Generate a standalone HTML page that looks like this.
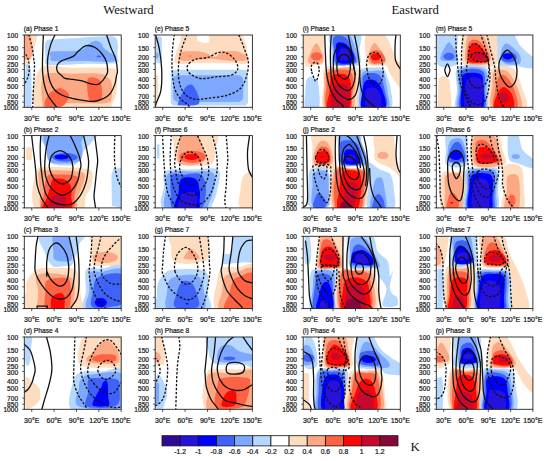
<!DOCTYPE html>
<html><head><meta charset="utf-8"><style>
html,body{margin:0;padding:0;background:#fff;width:550px;height:461px;overflow:hidden}
svg{display:block}
text{font-family:"Liberation Sans",sans-serif;fill:#1a1a1a;stroke:#1a1a1a;stroke-width:0.22}
.t{font-family:"Liberation Serif",serif;fill:#111;stroke:none}
</style></head><body>
<svg width="550" height="461" viewBox="0 0 550 461">
<rect width="550" height="461" fill="#fff"/>

<text class="t" x="128.5" y="13.6" font-size="12.7" text-anchor="middle">Westward</text>
<text class="t" x="415.2" y="13.6" font-size="12.7" text-anchor="middle">Eastward</text>
<clipPath id="cp0"><rect x="24.3" y="35" width="96.9" height="72.3"/></clipPath>
<g clip-path="url(#cp0)">
<path d="M39.8,68.98C45.46,61.81 60.8,68.02 72.75,67.9C84.7,67.78 104.16,67.11 111.51,68.26C118.86,69.4 116.03,70.67 116.84,74.77C117.65,78.86 117.24,87.78 116.36,92.84C115.47,97.9 113.12,102.12 111.51,105.13C109.9,108.14 118.78,109.95 106.67,110.92C94.55,111.88 49.98,117.9 38.84,110.92C27.69,103.93 34.15,76.15 39.8,68.98Z" fill="#fedcc0"/>
<path d="M19.45,31.38C22.28,25.36 33.99,28.37 36.41,31.38C38.84,34.4 35.2,44.4 33.99,49.46C32.78,54.52 30.28,59.1 29.15,61.75C28.01,64.4 28.82,64.4 27.21,65.37C25.59,66.33 20.75,73.2 19.45,67.53C18.16,61.87 16.63,37.41 19.45,31.38Z" fill="#fedcc0"/>
<path d="M43.68,76.21C48.53,70.01 63.38,74.1 72.75,73.68C82.12,73.26 94.23,73.14 99.88,73.68C105.53,74.22 104.73,75.43 106.67,76.93C108.6,78.44 110.7,79.22 111.51,82.72C112.32,86.21 112.32,94.53 111.51,97.9C110.7,101.27 111.51,102.06 106.67,102.96C101.82,103.87 92.13,103.2 82.44,103.32C72.75,103.44 54.99,102.42 48.53,103.68C42.07,104.95 44.49,115.49 43.68,110.92C42.87,106.34 38.84,82.42 43.68,76.21Z" fill="#fca884"/>
<path d="M24.78,31.38C26.56,27.17 28.9,28.37 30.11,31.38C31.33,34.4 31.81,45.24 32.05,49.46C32.29,53.68 32.05,55 31.57,56.69C31.08,58.38 31.16,59.58 29.15,59.58C27.13,59.58 20.18,61.39 19.45,56.69C18.73,51.99 23.01,35.6 24.78,31.38Z" fill="#fca884"/>
<path d="M44.65,102.96C44.96,100.43 46.94,95.97 49.2,93.56C51.46,91.15 56,89.29 58.22,88.5C60.43,87.72 60.7,87.9 62.48,88.86C64.26,89.83 68.13,92.2 68.87,94.29C69.62,96.37 68.15,99.32 66.94,101.37C65.72,103.42 64.87,105.35 61.61,106.58C58.34,107.81 50.19,109.35 47.36,108.75C44.54,108.14 44.34,105.49 44.65,102.96Z" fill="#fd6242"/>
<path d="M87.96,78.6C89.74,75.77 96.6,77.69 98.91,79.46C101.22,81.24 101.5,85.79 101.82,89.22C102.14,92.66 102.47,97.9 100.85,100.07C99.24,102.24 94.23,102.84 92.13,102.24C90.03,101.64 88.95,100.4 88.25,96.45C87.56,92.51 86.19,81.43 87.96,78.6Z" fill="#fd6242"/>
<path d="M45.62,42.23C46.91,39.34 48.04,40.06 53.37,39.34C58.7,38.62 69.52,38.37 77.6,37.89C85.67,37.41 95.36,36.33 101.82,36.45C108.28,36.57 113.77,35.24 116.36,38.62C118.94,41.99 117.49,52.59 117.32,56.69C117.16,60.79 121.2,61.99 115.39,63.2C109.57,64.4 93.58,63.68 82.44,63.92C71.3,64.16 54.66,65.85 48.53,64.64C42.39,63.44 46.1,60.43 45.62,56.69C45.13,52.95 44.33,45.12 45.62,42.23Z" fill="#b6d8ff"/>
<path d="M25.66,67.53C26.54,60.91 30.1,63.92 30.99,71.15C31.87,78.38 31.87,104.29 30.99,110.92C30.1,117.54 26.54,118.15 25.66,110.92C24.77,103.69 24.77,74.16 25.66,67.53Z" fill="#b6d8ff"/>
<path d="M50.08,51.99C51.37,51.09 54.44,51.42 58.22,51.27C61.99,51.11 68.71,51.35 72.75,51.05C76.79,50.75 79.53,50.81 82.44,49.46C85.35,48.11 87.93,44.4 90.19,42.95C92.45,41.51 94.07,40.66 96.01,40.78C97.94,40.9 100.53,42.47 101.82,43.68C103.11,44.88 102.3,46.45 103.76,48.01C105.21,49.58 108.44,51.63 110.54,53.08C112.64,54.52 116.19,55.24 116.36,56.69C116.52,58.14 117.16,61.03 111.51,61.75C105.86,62.47 92.13,61.15 82.44,61.03C72.75,60.91 58.7,61.75 53.37,61.03C48.04,60.3 51.01,58.2 50.46,56.69C49.91,55.18 48.78,52.89 50.08,51.99Z" fill="#7ea8ff"/>
<ellipse cx="98.91" cy="56.4" rx="2.42" ry="0.87" fill="#3e62fa"/>
<path d="M28.76,34.28C29.35,36.63 31.54,44.4 32.34,48.38C33.15,52.35 33.25,55.42 33.6,58.14C33.96,60.85 34.41,61.27 34.47,64.64C34.54,68.02 34.23,73.08 33.99,78.38C33.75,83.68 33.23,91.51 33.02,96.45C32.81,101.4 32.78,106.09 32.73,108.02" fill="none" stroke="#111" stroke-width="1.3" stroke-dasharray="2.4,1.6"/>
<path d="M23.33,50.91C23.93,51.82 26.01,54.59 26.92,56.4C27.82,58.21 28.39,59.29 28.76,61.75C29.13,64.21 29.37,68.38 29.15,71.15C28.92,73.92 28.21,76.21 27.4,78.38C26.59,80.55 24.82,83.2 24.3,84.16" fill="none" stroke="#111" stroke-width="1.3" stroke-dasharray="2.4,1.6"/>
<path d="M43.39,34.28C43.28,37.41 42.86,46.93 42.71,53.08C42.57,59.22 42.26,65.93 42.52,71.15C42.78,76.37 43.37,80.4 44.26,84.38C45.15,88.36 46.44,92.03 47.85,95.01C49.25,97.99 51.21,100.19 52.69,102.24C54.18,104.29 56.08,106.46 56.76,107.3" fill="none" stroke="#111" stroke-width="1.3"/>
<path d="M55.31,34.28C54.58,35.88 52.19,40.04 50.95,43.89C49.7,47.75 48.36,52.87 47.85,57.41C47.33,61.96 47.48,67.1 47.85,71.15C48.22,75.2 48.96,78.61 50.08,81.71C51.19,84.8 52.61,87.51 54.53,89.73C56.45,91.95 58.51,93.53 61.61,95.01C64.71,96.49 69.75,97.78 73.14,98.62C76.53,99.47 78.56,99.61 81.96,100.07C85.35,100.53 89.93,101.61 93.49,101.37C97.04,101.13 100.46,99.96 103.27,98.62C106.08,97.29 108.43,95.72 110.35,93.35C112.27,90.97 113.77,87.36 114.8,84.38C115.84,81.4 116.11,77.72 116.55,75.49C116.98,73.26 117.57,73.74 117.42,71.01C117.28,68.27 116.71,62.85 115.68,59.08C114.64,55.3 112.77,52.51 111.22,48.38C109.67,44.24 107.18,36.63 106.37,34.28" fill="none" stroke="#111" stroke-width="1.3"/>
<path d="M57.25,64.64C57.97,62.93 58.96,62.26 61.61,60.88C64.26,59.51 70.34,58.04 73.14,56.4C75.93,54.76 76.17,52.83 78.37,51.05C80.57,49.27 83.54,46.29 86.32,45.7C89.09,45.11 92.36,46.04 95.04,47.51C97.72,48.98 100.46,52.03 102.4,54.52C104.34,57.02 105.79,59.73 106.67,62.47C107.54,65.22 107.63,68.99 107.63,71.01C107.63,73.02 107.39,73.08 106.67,74.55C105.94,76.02 104.73,78.19 103.27,79.83C101.82,81.46 100.03,83.69 97.94,84.38C95.86,85.07 93.44,84.54 90.77,83.95C88.11,83.36 84.89,81.59 81.96,80.84C79.02,80.09 75.96,79.87 73.14,79.46C70.31,79.05 66.92,79.04 65,78.38C63.08,77.72 62.9,76.69 61.61,75.49C60.31,74.28 57.97,72.96 57.25,71.15C56.52,69.34 56.52,66.35 57.25,64.64Z" fill="none" stroke="#111" stroke-width="1.3"/>
</g>
<rect x="24.3" y="35" width="96.9" height="72.3" fill="none" stroke="#222" stroke-width="0.9"/>
<text x="18.1" y="38" font-size="6.6" text-anchor="end">100</text>
<text x="18.1" y="50.73" font-size="6.6" text-anchor="end">150</text>
<text x="18.1" y="59.76" font-size="6.6" text-anchor="end">200</text>
<text x="18.1" y="66.77" font-size="6.6" text-anchor="end">250</text>
<text x="18.1" y="72.5" font-size="6.6" text-anchor="end">300</text>
<text x="18.1" y="81.53" font-size="6.6" text-anchor="end">400</text>
<text x="18.1" y="88.54" font-size="6.6" text-anchor="end">500</text>
<text x="18.1" y="99.1" font-size="6.6" text-anchor="end">700</text>
<text x="18.1" y="105.2" font-size="6.6" text-anchor="end">850</text>
<text x="18.1" y="110.3" font-size="6.6" text-anchor="end">1000</text>
<text x="31.75" y="120.5" font-size="7" text-anchor="middle">30°E</text>
<text x="54.12" y="120.5" font-size="7" text-anchor="middle">60°E</text>
<text x="76.48" y="120.5" font-size="7" text-anchor="middle">90°E</text>
<text x="98.84" y="120.5" font-size="7" text-anchor="middle">120°E</text>
<text x="121.2" y="120.5" font-size="7" text-anchor="middle">150°E</text>
<path d="M24.3,35h-2M24.3,47.73h-2M24.3,56.76h-2M24.3,63.77h-2M24.3,69.5h-2M24.3,78.53h-2M24.3,85.54h-2M24.3,96.1h-2M24.3,102.2h-2M24.3,107.3h-2M31.75,107.3v2.6M54.12,107.3v2.6M76.48,107.3v2.6M98.84,107.3v2.6M121.2,107.3v2.6" stroke="#222" stroke-width="0.8" fill="none"/>
<text x="23.8" y="31" font-size="6.7">(a) Phase 1</text>
<clipPath id="cp1"><rect x="24.3" y="135.6" width="96.9" height="72.3"/></clipPath>
<g clip-path="url(#cp1)">
<path d="M43.68,134.15C51.76,132.11 85.19,132.71 93.1,134.15C101.01,135.6 92.61,140.18 91.16,142.83C89.71,145.48 86.15,147.65 84.38,150.06C82.6,152.47 81.63,155.24 80.5,157.29C79.37,159.34 78.89,161.03 77.6,162.35C76.3,163.68 75.98,164.76 72.75,165.24C69.52,165.72 61.77,165.6 58.22,165.24C54.66,164.88 53.21,164.4 51.43,163.07C49.66,161.75 48.69,160.06 47.56,157.29C46.43,154.52 45.3,150.3 44.65,146.44C44,142.59 35.61,136.2 43.68,134.15Z" fill="#b6d8ff"/>
<path d="M45.62,134.15C51.27,131.5 74.53,132.71 80.5,134.15C86.48,135.6 81.15,139.58 81.47,142.83C81.79,146.08 82.92,150.54 82.44,153.67C81.96,156.81 81.79,160 78.56,161.63C75.33,163.25 67.91,163.44 63.06,163.44C58.22,163.44 52.24,163.86 49.49,161.63C46.75,159.4 47.23,154.64 46.59,150.06C45.94,145.48 39.97,136.81 45.62,134.15Z" fill="#7ea8ff"/>
<ellipse cx="65" cy="157.29" rx="12.6" ry="4.34" fill="#3e62fa"/>
<ellipse cx="61.51" cy="156.93" rx="7.07" ry="2.53" fill="#0000ff"/>
<rect x="26.04" y="147.17" width="6.01" height="13.01" rx="2" fill="#fedcc0"/>
<path d="M35.93,171.75C38.03,164.76 43.2,168.13 48.53,167.41C53.85,166.69 62.25,167.29 67.91,167.41C73.56,167.53 78.4,167.41 82.44,168.13C86.48,168.86 90.68,168.74 92.13,171.75C93.58,174.76 92.29,181.99 91.16,186.21C90.03,190.43 87.12,193.2 85.35,197.06C83.57,200.91 88.74,207.3 80.5,209.35C72.27,211.39 43.36,215.61 35.93,209.35C28.5,203.08 33.83,178.74 35.93,171.75Z" fill="#fedcc0"/>
<path d="M38.84,171.75C40.29,168.5 42.87,170.42 48.53,170.3C54.18,170.18 66.77,170.42 72.75,171.03C78.73,171.63 82.76,171.39 84.38,173.92C85.99,176.45 83.57,182.35 82.44,186.21C81.31,190.07 79.05,193.2 77.6,197.06C76.14,200.91 79.37,207.3 73.72,209.35C68.07,211.39 49.33,212.6 43.68,209.35C38.03,206.09 40.61,196.09 39.8,189.82C39,183.56 37.38,175 38.84,171.75Z" fill="#fca884"/>
<path d="M47.56,176.09C49.98,172.71 54.02,174.76 58.22,174.64C62.41,174.52 69.36,174.64 72.75,175.37C76.14,176.09 78.24,175.97 78.56,178.98C78.89,181.99 75.82,188.38 74.69,193.44C73.56,198.5 77.19,206.69 71.78,209.35C66.37,212 46.91,211.76 42.23,209.35C37.54,206.94 42.79,200.43 43.68,194.89C44.57,189.34 45.13,179.46 47.56,176.09Z" fill="#fd6242"/>
<path d="M53.37,178.98C55.79,177.9 62.09,178.5 65,179.7C67.91,180.91 69.76,183.32 70.81,186.21C71.86,189.1 71.46,193.2 71.3,197.06C71.14,200.91 74.45,207.3 69.84,209.35C65.24,211.39 47.56,211.15 43.68,209.35C39.8,207.54 45.46,202.36 46.59,198.5C47.72,194.64 49.33,189.46 50.46,186.21C51.59,182.96 50.95,180.06 53.37,178.98Z" fill="#ff0606"/>
<path d="M53.37,195.61C55.71,194.77 62.41,194.16 64.51,195.61C66.61,197.05 66.53,202 65.97,204.28C65.4,206.57 64.03,208.5 61.12,209.35C58.22,210.19 50.3,210.79 48.53,209.35C46.75,207.9 49.66,202.96 50.46,200.67C51.27,198.38 51.03,196.45 53.37,195.61Z" fill="#c8082c"/>
<path d="M113.45,168.13 L121.2,168.13 L121.2,207.9 L111.99,205.73 L111.51,186.21 L111.51,175.37 Z" fill="#b6d8ff"/>
<path d="M31.57,134.88C31.83,137.11 32.6,143.99 33.12,148.25C33.63,152.52 34.25,156.84 34.67,160.47C35.09,164.1 35.22,165.88 35.64,170.01C36.06,174.15 36.17,180.52 37.19,185.27C38.21,190.02 39.85,194.61 41.74,198.5C43.63,202.39 47.39,206.94 48.53,208.62" fill="none" stroke="#111" stroke-width="1.3"/>
<path d="M94.65,134.88C94.91,136.93 95.7,142.9 96.2,147.17C96.7,151.43 97.57,156.66 97.65,160.47C97.73,164.28 97.1,165.88 96.68,170.01C96.26,174.15 95.57,180.86 95.13,185.27C94.7,189.68 93.97,192.58 94.07,196.48C94.16,200.37 95.44,206.6 95.72,208.62" fill="none" stroke="#111" stroke-width="1.3"/>
<path d="M40.77,134.88C40.68,137.41 40.11,144.2 40.19,150.06C40.27,155.92 40.4,162.95 41.26,170.01C42.11,177.08 43.47,187.16 45.33,192.43C47.18,197.69 49.54,199.57 52.4,201.61C55.26,203.65 59.09,204.32 62.48,204.65C65.87,204.97 69.67,205.26 72.75,203.56C75.83,201.86 78.77,198.01 80.99,194.45C83.2,190.9 84.85,186.31 86.03,182.23C87.2,178.16 87.64,173.64 88.06,170.01C88.48,166.39 88.8,164.1 88.54,160.47C88.29,156.84 87.37,152.52 86.51,148.25C85.65,143.99 83.93,137.11 83.41,134.88" fill="none" stroke="#111" stroke-width="1.3"/>
<path d="M49.3,134.88C48.88,136.6 47.44,141.79 46.78,145.22C46.12,148.64 45.67,151.28 45.33,155.41C44.99,159.54 44.5,165.88 44.75,170.01C44.99,174.15 45.67,177.15 46.78,180.21C47.9,183.27 49.32,186.01 51.43,188.38C53.55,190.75 57.08,193.44 59.47,194.45C61.86,195.46 63.72,195.13 65.77,194.45C67.82,193.78 69.76,192.78 71.78,190.4C73.8,188.03 76.53,183.61 77.89,180.21C79.24,176.81 79.4,172.45 79.92,170.01C80.44,167.58 81.05,167.73 80.99,165.6C80.92,163.48 80.55,160.69 79.53,157.29C78.52,153.89 76.5,148.95 74.88,145.22C73.27,141.48 70.68,136.6 69.84,134.88" fill="none" stroke="#111" stroke-width="1.3"/>
<path d="M49.88,170.01C49.2,167.74 48.96,166.95 49.3,164.52C49.64,162.09 50.38,157.7 51.92,155.41C53.45,153.12 56.41,151.3 58.51,150.78C60.61,150.26 62.49,151.02 64.51,152.3C66.53,153.58 69.25,156.23 70.62,158.45C71.99,160.66 72.39,163.68 72.75,165.6C73.11,167.53 73.11,167.75 72.75,170.01C72.39,172.28 71.99,176.91 70.62,179.2C69.25,181.49 66.53,183.16 64.51,183.75C62.49,184.34 60.36,183.67 58.51,182.74C56.65,181.81 54.81,180.31 53.37,178.18C51.93,176.06 50.56,172.29 49.88,170.01Z" fill="none" stroke="#111" stroke-width="1.3"/>
<path d="M114.9,134.88C114.82,137.41 114.42,144.94 114.42,150.06C114.42,155.18 114.42,160.91 114.9,165.6C115.39,170.3 116.39,174.94 117.32,178.26C118.26,181.57 119.71,183.92 120.52,185.49C121.33,187.05 121.89,187.29 122.17,187.66" fill="none" stroke="#111" stroke-width="1.3" stroke-dasharray="2.4,1.6"/>
</g>
<rect x="24.3" y="135.6" width="96.9" height="72.3" fill="none" stroke="#222" stroke-width="0.9"/>
<text x="18.1" y="138.6" font-size="6.6" text-anchor="end">100</text>
<text x="18.1" y="151.33" font-size="6.6" text-anchor="end">150</text>
<text x="18.1" y="160.36" font-size="6.6" text-anchor="end">200</text>
<text x="18.1" y="167.37" font-size="6.6" text-anchor="end">250</text>
<text x="18.1" y="173.1" font-size="6.6" text-anchor="end">300</text>
<text x="18.1" y="182.13" font-size="6.6" text-anchor="end">400</text>
<text x="18.1" y="189.14" font-size="6.6" text-anchor="end">500</text>
<text x="18.1" y="199.7" font-size="6.6" text-anchor="end">700</text>
<text x="18.1" y="205.8" font-size="6.6" text-anchor="end">850</text>
<text x="18.1" y="210.9" font-size="6.6" text-anchor="end">1000</text>
<text x="31.75" y="221.1" font-size="7" text-anchor="middle">30°E</text>
<text x="54.12" y="221.1" font-size="7" text-anchor="middle">60°E</text>
<text x="76.48" y="221.1" font-size="7" text-anchor="middle">90°E</text>
<text x="98.84" y="221.1" font-size="7" text-anchor="middle">120°E</text>
<text x="121.2" y="221.1" font-size="7" text-anchor="middle">150°E</text>
<path d="M24.3,135.6h-2M24.3,148.33h-2M24.3,157.36h-2M24.3,164.37h-2M24.3,170.1h-2M24.3,179.13h-2M24.3,186.14h-2M24.3,196.7h-2M24.3,202.8h-2M24.3,207.9h-2M31.75,207.9v2.6M54.12,207.9v2.6M76.48,207.9v2.6M98.84,207.9v2.6M121.2,207.9v2.6" stroke="#222" stroke-width="0.8" fill="none"/>
<text x="23.8" y="131.6" font-size="6.7">(b) Phase 2</text>
<clipPath id="cp2"><rect x="24.3" y="236.3" width="96.9" height="72.3"/></clipPath>
<g clip-path="url(#cp2)">
<path d="M41.26,234.85C47.62,232.12 76.06,233.41 82.44,234.85C88.82,236.3 80.26,240.88 79.53,243.53C78.81,246.18 78.89,248.35 78.08,250.76C77.27,253.17 75.74,255.58 74.69,257.99C73.64,260.4 73.48,263.89 71.78,265.22C70.09,266.55 67.74,265.82 64.51,265.94C61.28,266.06 55.78,268.39 52.4,265.94C49.03,263.5 46.12,256.45 44.26,251.27C42.4,246.08 34.89,237.59 41.26,234.85Z" fill="#b6d8ff"/>
<path d="M53.37,234.85C55.57,232.12 63.67,232.96 66.55,234.85C69.42,236.75 69.75,242.11 70.62,246.21C71.49,250.3 72.8,256.87 71.78,259.44C70.76,262 67.42,261.61 64.51,261.61C61.61,261.61 56.2,261.16 54.34,259.44C52.48,257.71 53.53,255.36 53.37,251.27C53.21,247.17 51.17,237.59 53.37,234.85Z" fill="#7ea8ff"/>
<path d="M91.16,244.25C91.32,240.64 86.8,236.42 92.13,234.85C97.46,233.29 117.97,229.91 123.14,234.85C128.31,239.79 125.95,259.39 123.14,264.5C120.33,269.61 111.12,265.34 106.28,265.51C101.43,265.68 96.59,267 94.07,265.51C91.55,264.01 91.65,260.09 91.16,256.54C90.68,253 91,247.87 91.16,244.25Z" fill="#fedcc0"/>
<ellipse cx="105.31" cy="257.41" rx="12.6" ry="5.57" fill="#fca884"/>
<path d="M27.01,281.13C28.79,277.63 32.5,271.73 36.9,269.56C41.29,267.39 47.39,268.23 53.37,268.11C59.35,267.99 68.55,267.51 72.75,268.84C76.95,270.16 77.27,271.85 78.56,276.06C79.86,280.28 80.5,288.48 80.5,294.14C80.5,299.8 87.61,307.39 78.56,310.05C69.52,312.7 34.96,313.3 26.24,310.05C17.52,306.79 26.11,295.34 26.24,290.52C26.37,285.7 25.24,284.62 27.01,281.13Z" fill="#fedcc0"/>
<path d="M37.19,275.05C40.74,272.16 53.55,273.25 59.47,273.9C65.4,274.55 70.21,276.06 72.75,278.96C75.29,281.85 74.69,286.97 74.69,291.25C74.69,295.53 74.69,301.49 72.75,304.62C70.81,307.76 68.65,309.14 63.06,310.05C57.47,310.95 43.37,313.18 39.22,310.05C35.07,306.91 38.5,297.08 38.16,291.25C37.82,285.42 33.63,277.94 37.19,275.05Z" fill="#fca884"/>
<path d="M47.36,280.19C50.9,278.02 62.67,277.23 66.55,278.23C70.42,279.23 69.94,282.33 70.62,286.19C71.3,290.04 71.3,297.39 70.62,301.37C69.94,305.35 70.6,308.6 66.55,310.05C62.49,311.49 49.83,313.18 46.3,310.05C42.76,306.91 45.15,296.22 45.33,291.25C45.5,286.27 43.83,282.36 47.36,280.19Z" fill="#fd6242"/>
<path d="M53.37,295.59C54.99,294.18 58.68,292.77 60.54,292.91C62.4,293.06 63.85,294.44 64.51,296.45C65.18,298.47 64.76,302.72 64.51,304.99C64.27,307.25 65.08,309.2 63.06,310.05C61.04,310.89 54.44,311.49 52.4,310.05C50.37,308.6 50.69,303.78 50.85,301.37C51.01,298.96 51.76,297 53.37,295.59Z" fill="#ff0606"/>
<path d="M86.32,269.56C88.95,265.79 95.68,268.86 101.82,268.62C107.96,268.38 119.59,261.21 123.14,268.11C126.69,275.02 129.48,303.06 123.14,310.05C116.79,317.03 91.24,313.18 85.06,310.05C78.87,306.91 85.82,298 86.03,291.25C86.24,284.5 83.68,273.33 86.32,269.56Z" fill="#b6d8ff"/>
<path d="M90.1,273.17C92.21,269.92 96.31,272.09 101.82,271.73C107.33,271.37 119.59,264.62 123.14,271C126.69,277.39 128.98,303.54 123.14,310.05C117.29,316.55 93.73,313.18 88.06,310.05C82.39,306.91 88.79,297.39 89.13,291.25C89.47,285.1 87.98,276.43 90.1,273.17Z" fill="#7ea8ff"/>
<path d="M98.23,277.15C103.24,274.45 118.99,271.02 123.14,275.05C127.29,279.09 125.08,296.1 123.14,301.37C121.2,306.64 116.68,305.77 111.51,306.65C106.34,307.53 95.2,309.21 92.13,306.65C89.06,304.08 92.08,296.16 93.1,291.25C94.12,286.33 93.23,279.85 98.23,277.15Z" fill="#3e62fa"/>
<ellipse cx="100.75" cy="302.6" rx="6.1" ry="4.55" fill="#0000ff"/>
<path d="M38.16,235.58C37.82,237.35 36.62,241.89 36.12,246.21C35.62,250.52 35.31,257.33 35.15,261.46C34.99,265.59 34.65,268.05 35.15,271C35.65,273.96 36.64,276.28 38.16,279.17C39.67,282.07 41.89,285.48 44.26,288.36C46.64,291.24 49.87,294.68 52.4,296.45C54.94,298.22 57.12,298.82 59.47,298.98C61.83,299.15 64.51,298.9 66.55,297.47C68.58,296.03 70.49,293.1 71.68,290.38C72.88,287.66 73.22,284.36 73.72,281.13C74.22,277.9 74.57,274.28 74.69,271C74.8,267.73 74.88,265.26 74.4,261.46C73.91,257.66 72.72,252.54 71.78,248.23C70.84,243.92 69.28,237.69 68.78,235.58" fill="none" stroke="#111" stroke-width="1.3"/>
<path d="M46.78,276.06C46.78,274.47 46.36,265.92 46.78,261.46C47.2,257 47.86,252.36 49.3,249.31C50.74,246.27 53.53,243.86 55.4,243.17C57.28,242.48 58.68,243.33 60.54,245.19C62.4,247.06 65.21,251.16 66.55,254.38C67.89,257.59 68.24,261.73 68.58,264.5C68.92,267.27 68.74,268.71 68.58,271C68.42,273.29 68.29,276.03 67.61,278.23C66.94,280.44 65.87,282.91 64.51,284.23C63.16,285.56 61.17,286.34 59.47,286.19C57.78,286.03 56.03,284.8 54.34,283.3C52.64,281.79 50.56,279.2 49.3,277.15C48.04,275.1 47.2,271.18 46.78,271C46.36,270.82 46.78,277.66 46.78,276.06Z" fill="none" stroke="#111" stroke-width="1.3"/>
<path d="M75.95,235.58C76.29,238.19 77.48,246.08 77.98,251.27C78.48,256.45 78.79,260.85 78.95,266.67C79.11,272.49 79.29,280.88 78.95,286.19C78.61,291.49 78.11,295.07 76.92,298.48C75.72,301.89 72.96,304.84 71.78,306.65C70.6,308.46 70.17,308.88 69.84,309.32" fill="none" stroke="#111" stroke-width="1.3"/>
<path d="M37.19,309.32 L37.19,306.14 L47.36,306.14 L47.36,309.32 Z" fill="none" stroke="#111" stroke-width="1.3"/>
<path d="M92.13,235.58C91.97,238.19 91.58,246.08 91.16,251.27C90.74,256.45 89.95,263.38 89.61,266.67C89.27,269.96 89.05,268.59 89.13,271C89.21,273.41 89.43,277.75 90.1,281.13C90.76,284.5 91.74,288.02 93.1,291.25C94.46,294.48 96.38,297.94 98.23,300.5C100.09,303.07 102.9,305.18 104.24,306.65C105.58,308.12 105.94,308.88 106.28,309.32" fill="none" stroke="#111" stroke-width="1.3" stroke-dasharray="2.4,1.6"/>
<path d="M101.24,235.58C100.74,237.69 99.25,244.08 98.23,248.23C97.22,252.37 95.81,256.65 95.13,260.45C94.46,264.24 93.83,267.56 94.16,271C94.5,274.45 95.81,277.9 97.17,281.13C98.53,284.36 100.45,287.83 102.3,290.38C104.16,292.94 105.95,294.77 108.31,296.45C110.67,298.14 113.98,299.68 116.45,300.5C118.92,301.32 122.02,301.23 123.14,301.37" fill="none" stroke="#111" stroke-width="1.3" stroke-dasharray="2.4,1.6"/>
<path d="M123.14,238.47C122.36,238.73 120.28,238.77 118.49,240.06C116.69,241.35 114.42,244 112.38,246.21C110.35,248.41 107.96,250.75 106.28,253.29C104.6,255.83 103.14,258.91 102.3,261.46C101.46,264.01 101.24,266.18 101.24,268.62C101.24,271.05 101.8,274.46 102.3,276.06C102.81,277.67 102.9,277.03 104.24,278.23C105.58,279.44 107.97,282.29 110.35,283.3C112.72,284.3 116.36,284.08 118.49,284.23C120.62,284.39 122.36,284.23 123.14,284.23" fill="none" stroke="#111" stroke-width="1.3" stroke-dasharray="2.4,1.6"/>
</g>
<rect x="24.3" y="236.3" width="96.9" height="72.3" fill="none" stroke="#222" stroke-width="0.9"/>
<text x="18.1" y="239.3" font-size="6.6" text-anchor="end">100</text>
<text x="18.1" y="252.03" font-size="6.6" text-anchor="end">150</text>
<text x="18.1" y="261.06" font-size="6.6" text-anchor="end">200</text>
<text x="18.1" y="268.07" font-size="6.6" text-anchor="end">250</text>
<text x="18.1" y="273.8" font-size="6.6" text-anchor="end">300</text>
<text x="18.1" y="282.83" font-size="6.6" text-anchor="end">400</text>
<text x="18.1" y="289.84" font-size="6.6" text-anchor="end">500</text>
<text x="18.1" y="300.4" font-size="6.6" text-anchor="end">700</text>
<text x="18.1" y="306.5" font-size="6.6" text-anchor="end">850</text>
<text x="18.1" y="311.6" font-size="6.6" text-anchor="end">1000</text>
<text x="31.75" y="321.8" font-size="7" text-anchor="middle">30°E</text>
<text x="54.12" y="321.8" font-size="7" text-anchor="middle">60°E</text>
<text x="76.48" y="321.8" font-size="7" text-anchor="middle">90°E</text>
<text x="98.84" y="321.8" font-size="7" text-anchor="middle">120°E</text>
<text x="121.2" y="321.8" font-size="7" text-anchor="middle">150°E</text>
<path d="M24.3,236.3h-2M24.3,249.03h-2M24.3,258.06h-2M24.3,265.07h-2M24.3,270.8h-2M24.3,279.83h-2M24.3,286.84h-2M24.3,297.4h-2M24.3,303.5h-2M24.3,308.6h-2M31.75,308.6v2.6M54.12,308.6v2.6M76.48,308.6v2.6M98.84,308.6v2.6M121.2,308.6v2.6" stroke="#222" stroke-width="0.8" fill="none"/>
<text x="23.8" y="232.3" font-size="6.7">(c) Phase 3</text>
<clipPath id="cp3"><rect x="24.3" y="337" width="96.9" height="72.3"/></clipPath>
<g clip-path="url(#cp3)">
<path d="M25.56,338.01C26.64,333.77 31.13,336.49 32.05,338.01C32.97,339.53 31.41,343.05 31.08,347.12C30.76,351.19 31.03,359.73 30.11,362.45C29.19,365.17 26.32,367.53 25.56,363.46C24.8,359.39 24.48,342.25 25.56,338.01Z" fill="#b6d8ff"/>
<path d="M25.56,378.07C26.74,373.79 30.84,380.49 33.12,382.19C35.4,383.89 38.04,386.06 39.22,388.26C40.4,390.47 40.37,393.04 40.19,395.42C40.01,397.79 40.51,400.43 38.16,402.5C35.8,404.58 28.14,411.93 26.04,407.85C23.94,403.78 24.38,382.34 25.56,378.07Z" fill="#fedcc0"/>
<path d="M77.89,359.41C77.89,354.23 78.48,339.53 86.03,335.55C93.57,331.58 116.95,330.37 123.14,335.55C129.32,340.74 125.95,361.3 123.14,366.64C120.33,371.98 112.46,367.58 106.28,367.58C100.09,367.58 90.76,368 86.03,366.64C81.29,365.28 77.89,364.59 77.89,359.41Z" fill="#fedcc0"/>
<path d="M87.09,357.39C88.09,355.86 90.74,354.63 93.1,352.26C95.46,349.88 98.7,345.01 101.24,343.15C103.77,341.28 105.78,340.04 108.31,341.05C110.85,342.06 114.59,346.5 116.45,349.22C118.31,351.94 119.46,355.01 119.46,357.39C119.46,359.76 120.33,362.45 116.45,363.46C112.58,364.47 101.09,363.8 96.2,363.46C91.31,363.12 88.61,362.45 87.09,361.44C85.57,360.43 86.09,358.92 87.09,357.39Z" fill="#fca884"/>
<path d="M92.13,358.4C92.63,357.29 95.65,355.39 99.2,354.79C102.76,354.18 110.57,354.18 113.45,354.79C116.32,355.39 116.61,357.29 116.45,358.4C116.29,359.51 115.85,360.93 112.48,361.44C109.1,361.94 99.59,361.94 96.2,361.44C92.81,360.93 91.63,359.51 92.13,358.4Z" fill="#fd6242"/>
<path d="M72.75,382.19C73.07,376.52 73.07,378.51 74.69,376.76C76.3,375.02 77.92,372.61 82.44,371.7C86.96,370.8 95.04,371.46 101.82,371.34C108.6,371.22 119.59,364.41 123.14,370.98C126.69,377.55 131.54,404.12 123.14,410.75C114.74,417.37 81.15,415.51 72.75,410.75C64.35,405.99 72.43,387.85 72.75,382.19Z" fill="#b6d8ff"/>
<path d="M80.99,379.15C83.02,377.04 84.14,375.36 91.16,374.6C98.19,373.84 117.81,369.26 123.14,374.6C128.47,379.93 130.5,401.29 123.14,406.62C115.77,411.96 86.32,409.85 78.95,406.62C71.59,403.4 78.61,391.83 78.95,387.25C79.29,382.67 78.95,381.26 80.99,379.15Z" fill="#7ea8ff"/>
<path d="M88.06,380.16C89.42,377.78 91.47,378.24 96.2,378.07C100.93,377.9 112.58,377.62 116.45,379.15C120.33,380.68 119.46,382.84 119.46,387.25C119.46,391.66 121.85,402.38 116.45,405.61C111.06,408.84 91.82,408.83 87.09,406.62C82.36,404.42 87.9,396.79 88.06,392.38C88.22,387.97 86.7,382.55 88.06,380.16Z" fill="#3e62fa"/>
<path d="M103.27,382.19C104.29,381.34 106.5,379.64 107.34,382.19C108.18,384.73 108.15,393.54 108.31,397.44C108.47,401.35 110.85,404.25 108.31,405.61C105.78,406.97 95.12,407.31 93.1,405.61C91.08,403.91 94.84,398.48 96.2,395.42C97.56,392.36 100.06,389.45 101.24,387.25C102.42,385.04 102.26,383.03 103.27,382.19Z" fill="#0000ff"/>
<path d="M23.33,343.51C24.46,344.63 28.34,347.07 30.11,350.23C31.89,353.39 33.15,359.05 33.99,362.45C34.83,365.85 35.22,368.2 35.15,370.62C35.09,373.04 34.1,375.05 33.6,376.98C33.1,378.91 33.07,380.14 32.15,382.19C31.23,384.24 29.55,387.53 28.08,389.27C26.61,391.02 24.12,392.1 23.33,392.67" fill="none" stroke="#111" stroke-width="1.3"/>
<path d="M46.3,336.28C46.97,338.94 49.43,347.04 50.37,352.26C51.3,357.47 51.84,363.46 51.92,367.58C52,371.7 51.45,373.7 50.85,376.98C50.25,380.26 49.43,383.33 48.33,387.25C47.23,391.16 45.36,396.68 44.26,400.48C43.16,404.28 42.16,408.43 41.74,410.02" fill="none" stroke="#111" stroke-width="1.3"/>
<path d="M74.88,336.28C74.8,338.94 74.59,346.3 74.4,352.26C74.2,358.21 73.8,367 73.72,371.99C73.64,376.98 73.22,378.45 73.91,382.19C74.61,385.92 76.37,391.02 77.89,394.41C79.4,397.79 81.33,399.9 83.02,402.5C84.72,405.11 87.22,408.77 88.06,410.02" fill="none" stroke="#111" stroke-width="1.3" stroke-dasharray="2.4,1.6"/>
<path d="M86.51,336.28C86.09,338.6 84.91,345.7 83.99,350.23C83.07,354.76 81.49,359.83 80.99,363.46C80.49,367.09 80.49,368.87 80.99,371.99C81.49,375.11 82.47,378.62 83.99,382.19C85.51,385.75 87.56,390.18 90.1,393.39C92.63,396.61 95.99,399.29 99.2,401.49C102.42,403.7 106.5,405.6 109.38,406.62C112.25,407.65 114.16,407.64 116.45,407.64C118.75,407.64 122.02,406.79 123.14,406.62" fill="none" stroke="#111" stroke-width="1.3" stroke-dasharray="2.4,1.6"/>
<path d="M88.06,376.98C88.06,375.42 87.38,371.19 88.06,367.58C88.74,363.98 90.43,359.1 92.13,355.36C93.83,351.63 96.04,347.72 98.23,345.17C100.43,342.62 103.11,340.72 105.31,340.04C107.5,339.35 109.56,339.86 111.41,341.05C113.27,342.24 114.93,345.16 116.45,347.19C117.97,349.23 119.41,351.35 120.52,353.27C121.64,355.18 122.7,357.79 123.14,358.69" fill="none" stroke="#111" stroke-width="1.3" stroke-dasharray="2.4,1.6"/>
<path d="M88.06,376.98C88.58,377.51 89.47,378.28 91.16,380.16C92.86,382.04 95.72,386.06 98.23,388.26C100.75,390.47 103.58,392.71 106.28,393.39C108.97,394.08 112.22,393.74 114.42,392.38C116.61,391.02 118,387.26 119.46,385.22C120.91,383.19 122.52,381.01 123.14,380.16" fill="none" stroke="#111" stroke-width="1.3" stroke-dasharray="2.4,1.6"/>
<path d="M98.23,371.99C97.73,370.41 97.56,369.17 98.23,367.58C98.91,365.99 100.79,363.64 102.3,362.45C103.82,361.26 105.65,360.43 107.34,360.43C109.04,360.43 111.14,361.26 112.48,362.45C113.82,363.64 114.9,365.99 115.39,367.58C115.87,369.17 116.05,370.41 115.39,371.99C114.72,373.57 112.93,375.78 111.41,377.05C109.89,378.33 107.97,379.66 106.28,379.66C104.58,379.66 102.58,378.33 101.24,377.05C99.9,375.78 98.74,373.57 98.23,371.99Z" fill="none" stroke="#111" stroke-width="1.3" stroke-dasharray="2.4,1.6"/>
</g>
<rect x="24.3" y="337" width="96.9" height="72.3" fill="none" stroke="#222" stroke-width="0.9"/>
<text x="18.1" y="340" font-size="6.6" text-anchor="end">100</text>
<text x="18.1" y="352.73" font-size="6.6" text-anchor="end">150</text>
<text x="18.1" y="361.76" font-size="6.6" text-anchor="end">200</text>
<text x="18.1" y="368.77" font-size="6.6" text-anchor="end">250</text>
<text x="18.1" y="374.5" font-size="6.6" text-anchor="end">300</text>
<text x="18.1" y="383.53" font-size="6.6" text-anchor="end">400</text>
<text x="18.1" y="390.54" font-size="6.6" text-anchor="end">500</text>
<text x="18.1" y="401.1" font-size="6.6" text-anchor="end">700</text>
<text x="18.1" y="407.2" font-size="6.6" text-anchor="end">850</text>
<text x="18.1" y="412.3" font-size="6.6" text-anchor="end">1000</text>
<text x="31.75" y="422.5" font-size="7" text-anchor="middle">30°E</text>
<text x="54.12" y="422.5" font-size="7" text-anchor="middle">60°E</text>
<text x="76.48" y="422.5" font-size="7" text-anchor="middle">90°E</text>
<text x="98.84" y="422.5" font-size="7" text-anchor="middle">120°E</text>
<text x="121.2" y="422.5" font-size="7" text-anchor="middle">150°E</text>
<path d="M24.3,337h-2M24.3,349.73h-2M24.3,358.76h-2M24.3,365.77h-2M24.3,371.5h-2M24.3,380.53h-2M24.3,387.54h-2M24.3,398.1h-2M24.3,404.2h-2M24.3,409.3h-2M31.75,409.3v2.6M54.12,409.3v2.6M76.48,409.3v2.6M98.84,409.3v2.6M121.2,409.3v2.6" stroke="#222" stroke-width="0.8" fill="none"/>
<text x="23.8" y="333" font-size="6.7">(d) Phase 4</text>
<clipPath id="cp4"><rect x="155.2" y="35" width="97.2" height="72.3"/></clipPath>
<g clip-path="url(#cp4)">
<rect x="156.17" y="36.45" width="5.64" height="26.75" rx="2" fill="#b6d8ff"/>
<ellipse cx="157.14" cy="55.61" rx="1.17" ry="3.25" fill="#7ea8ff"/>
<rect x="154.23" y="74.77" width="3.89" height="28.2" rx="1" fill="#fedcc0"/>
<path d="M175.61,63.2C172.62,61.51 175.45,56.33 176.1,53.08C176.75,49.82 178.28,47.29 179.5,43.68C180.72,40.06 180.63,33.43 183.39,31.38C186.14,29.34 193.59,29.82 196.02,31.38C198.45,32.95 195.86,38.98 197.97,40.78C200.07,42.59 206.39,43.8 208.66,42.23C210.93,40.66 206.88,33.19 211.58,31.38C216.27,29.58 231.34,29.82 236.85,31.38C242.36,32.95 242.92,37.17 244.62,40.78C246.32,44.4 246.65,49.34 247.05,53.08C247.46,56.81 249.4,61.51 247.05,63.2C244.7,64.88 238.55,63.2 232.96,63.2C227.37,63.2 220,63.2 213.52,63.2C207.04,63.2 200.4,63.2 194.08,63.2C187.76,63.2 178.61,64.88 175.61,63.2Z" fill="#fedcc0"/>
<path d="M180.47,52.35C182.74,50.85 190.19,51.27 194.08,51.27C197.97,51.27 201.05,51.69 203.8,52.35C206.55,53.01 208.66,54.52 210.6,55.24C212.55,55.97 213.36,57.29 215.46,56.69C217.57,56.09 219.51,52.47 223.24,51.63C226.97,50.79 233.85,50.79 237.82,51.63C241.79,52.47 245.51,55.24 247.05,56.69C248.59,58.14 249.4,59.58 247.05,60.3C244.7,61.03 236.93,61.03 232.96,61.03C228.99,61.03 226.97,60.67 223.24,60.3C219.51,59.94 215.46,58.86 210.6,58.86C205.74,58.86 199.1,60.06 194.08,60.3C189.06,60.55 182.74,61.63 180.47,60.3C178.2,58.98 178.2,53.86 180.47,52.35Z" fill="#fca884"/>
<ellipse cx="190.19" cy="55.97" rx="1.46" ry="0.58" fill="#fd6242"/>
<rect x="170.75" y="69.7" width="77.27" height="35.79" rx="4" fill="#b6d8ff"/>
<rect x="173.18" y="75.13" width="69.98" height="26.75" rx="5" fill="#7ea8ff"/>
<path d="M178.24,102.67C178.84,100.15 182.11,93.06 183.58,90.24C185.06,87.42 185.61,86.65 187.08,85.75C188.56,84.86 190.79,83.85 192.43,84.89C194.06,85.92 195.86,89.9 196.9,91.97C197.94,94.04 198.5,95.25 198.65,97.32C198.79,99.4 200.88,103.07 197.77,104.41C194.66,105.75 183.24,105.64 179.99,105.35C176.73,105.06 177.64,105.19 178.24,102.67Z" fill="#3e62fa"/>
<path d="M155.39,34.28C156.06,36.77 158.33,43.34 159.38,49.24C160.43,55.15 161.45,62.85 161.71,69.7C161.97,76.56 161.84,84.84 160.93,90.38C160.03,95.92 157.22,100.14 156.27,102.96C155.31,105.78 155.38,106.58 155.2,107.3" fill="none" stroke="#111" stroke-width="1.3"/>
<path d="M174.35,34.28C173.99,37.41 172.57,46.93 172.21,53.08C171.85,59.22 171.8,65.25 172.21,71.15C172.61,77.05 173.26,83.92 174.64,88.5C176.02,93.08 178.37,95.97 180.47,98.62C182.58,101.27 185.49,102.72 187.28,104.41C189.06,106.09 190.52,108.02 191.16,108.75" fill="none" stroke="#111" stroke-width="1.3" stroke-dasharray="2.4,1.6"/>
<path d="M186.98,34.28C185.9,37.41 181.91,46.93 180.47,53.08C179.03,59.22 178.3,65.49 178.33,71.15C178.37,76.81 179.09,82.84 180.67,87.06C182.24,91.27 184.99,94.41 187.76,96.45C190.53,98.5 193.85,99.06 197.29,99.35C200.72,99.64 203.56,98.83 208.37,98.19C213.18,97.55 220.83,97.13 226.16,95.52C231.49,93.9 236.95,91.77 240.35,88.5C243.75,85.24 245.24,80.38 246.57,75.92C247.9,71.46 248.77,66.5 248.32,61.75C247.86,57 245.47,52.01 243.85,47.44C242.23,42.86 239.47,36.47 238.6,34.28" fill="none" stroke="#111" stroke-width="1.3" stroke-dasharray="2.4,1.6"/>
<path d="M188.93,63.49C190.42,61.86 192.78,60.11 196.02,59.08C199.26,58.04 204.82,58.32 208.37,57.27C211.92,56.22 214.35,53.53 217.31,52.79C220.28,52.04 223.22,51.59 226.16,52.79C229.09,53.98 232.96,57.27 234.9,59.94C236.85,62.62 238.39,66.32 237.82,68.84C237.25,71.35 235.23,73.72 231.5,75.05C227.78,76.39 220.5,76.27 215.46,76.86C210.43,77.45 205.4,79.04 201.27,78.6C197.14,78.15 193.04,75.81 190.68,74.19C188.31,72.56 187.37,70.62 187.08,68.84C186.79,67.05 187.44,65.11 188.93,63.49Z" fill="none" stroke="#111" stroke-width="1.3" stroke-dasharray="2.4,1.6"/>
</g>
<rect x="155.2" y="35" width="97.2" height="72.3" fill="none" stroke="#222" stroke-width="0.9"/>
<text x="149" y="38" font-size="6.6" text-anchor="end">100</text>
<text x="149" y="50.73" font-size="6.6" text-anchor="end">150</text>
<text x="149" y="59.76" font-size="6.6" text-anchor="end">200</text>
<text x="149" y="66.77" font-size="6.6" text-anchor="end">250</text>
<text x="149" y="72.5" font-size="6.6" text-anchor="end">300</text>
<text x="149" y="81.53" font-size="6.6" text-anchor="end">400</text>
<text x="149" y="88.54" font-size="6.6" text-anchor="end">500</text>
<text x="149" y="99.1" font-size="6.6" text-anchor="end">700</text>
<text x="149" y="105.2" font-size="6.6" text-anchor="end">850</text>
<text x="149" y="110.3" font-size="6.6" text-anchor="end">1000</text>
<text x="162.68" y="120.5" font-size="7" text-anchor="middle">30°E</text>
<text x="185.11" y="120.5" font-size="7" text-anchor="middle">60°E</text>
<text x="207.54" y="120.5" font-size="7" text-anchor="middle">90°E</text>
<text x="229.97" y="120.5" font-size="7" text-anchor="middle">120°E</text>
<text x="252.4" y="120.5" font-size="7" text-anchor="middle">150°E</text>
<path d="M155.2,35h-2M155.2,47.73h-2M155.2,56.76h-2M155.2,63.77h-2M155.2,69.5h-2M155.2,78.53h-2M155.2,85.54h-2M155.2,96.1h-2M155.2,102.2h-2M155.2,107.3h-2M162.68,107.3v2.6M185.11,107.3v2.6M207.54,107.3v2.6M229.97,107.3v2.6M252.4,107.3v2.6" stroke="#222" stroke-width="0.8" fill="none"/>
<text x="154.7" y="31" font-size="6.7">(e) Phase 5</text>
<clipPath id="cp5"><rect x="155.2" y="135.6" width="97.2" height="72.3"/></clipPath>
<g clip-path="url(#cp5)">
<rect x="156.95" y="144.28" width="2.53" height="14.17" rx="1" fill="#b6d8ff"/>
<path d="M174.64,134.15C181.52,132.47 208.72,131.5 215.46,134.15C222.2,136.81 215.3,145.67 215.08,150.06C214.85,154.45 215.5,157.94 214.1,160.47C212.71,163 212.16,164.45 206.72,165.24C201.27,166.04 186.79,166.57 181.44,165.24C176.1,163.92 175.85,160.78 174.64,157.29C173.42,153.8 174.15,148.13 174.15,144.28C174.15,140.42 167.75,135.84 174.64,134.15Z" fill="#fedcc0"/>
<path d="M181.35,134.15C184.21,132.31 192.77,131.5 196.51,134.15C200.25,136.81 202.26,146.01 203.8,150.06C205.34,154.11 206.78,156.04 205.74,158.45C204.71,160.86 201.47,163.51 197.58,164.52C193.69,165.53 185.8,165.53 182.42,164.52C179.03,163.51 177.78,161.66 177.26,158.45C176.75,155.23 178.63,149.26 179.31,145.22C179.99,141.17 178.48,136 181.35,134.15Z" fill="#fca884"/>
<ellipse cx="192.52" cy="156.93" rx="13.22" ry="6.15" fill="#fd6242"/>
<ellipse cx="191.55" cy="156.93" rx="7.1" ry="3.04" fill="#ff0606"/>
<path d="M165.89,171.03C170.91,168.26 185.36,169.75 194.08,169.58C202.8,169.41 214.35,166.54 218.19,170.01C222.03,173.49 218.14,184.63 217.12,190.4C216.1,196.18 213.75,201.49 212.06,204.65C210.38,207.8 215.03,208.56 207.01,209.35C198.99,210.13 171.12,213.2 163.95,209.35C156.77,205.49 163.62,192.6 163.95,186.21C164.27,179.82 160.87,173.8 165.89,171.03Z" fill="#b6d8ff"/>
<path d="M168.81,173.2C173.51,170.18 186.63,171.75 194.08,171.75C201.53,171.75 210.28,170.18 213.52,173.2C216.76,176.21 214.33,184.64 213.52,189.82C212.71,195.01 210.28,201.03 208.66,204.28C207.04,207.54 210.77,208.5 203.8,209.35C196.83,210.19 173.18,212.6 166.86,209.35C160.55,206.09 165.57,195.85 165.89,189.82C166.22,183.8 164.11,176.21 168.81,173.2Z" fill="#7ea8ff"/>
<path d="M171.72,175.37C173.99,172.23 179.66,174.88 184.36,174.64C189.06,174.4 196.35,172.23 199.91,173.92C203.48,175.61 204.93,180.31 205.74,184.76C206.55,189.22 205.91,196.57 204.77,200.67C203.64,204.77 204.12,207.9 198.94,209.35C193.76,210.79 178.37,212 173.67,209.35C168.97,206.69 171.08,199.1 170.75,193.44C170.43,187.78 169.46,178.5 171.72,175.37Z" fill="#3e62fa"/>
<path d="M181.35,178.98C184.21,176.57 192.49,177.08 195.54,178.98C198.58,180.88 198.94,186.79 199.62,190.4C200.3,194.02 199.96,197.51 199.62,200.67C199.28,203.83 201.65,207.9 197.58,209.35C193.51,210.79 178.43,212 175.22,209.35C172.02,206.69 177.31,198.5 178.33,193.44C179.35,188.38 178.48,181.39 181.35,178.98Z" fill="#0000ff"/>
<path d="M182.42,193.44C184.96,192.07 192.04,191.4 194.57,192.43C197.09,193.45 197.76,196.77 197.58,199.59C197.4,202.41 196.7,207.72 193.5,209.35C190.29,210.97 180.7,210.79 178.33,209.35C175.97,207.9 178.63,203.32 179.31,200.67C179.99,198.02 179.87,194.81 182.42,193.44Z" fill="#2612dc"/>
<path d="M243.55,176.09C245.86,173.34 252.55,168.86 254.34,173.92C256.14,178.98 256.82,201.03 254.34,206.45C251.87,211.88 241.77,209.13 239.47,206.45C237.17,203.78 239.86,195.46 240.54,190.4C241.22,185.34 241.25,178.84 243.55,176.09Z" fill="#fedcc0"/>
<path d="M249.68,134.88C249.34,137.41 247.98,145.79 247.64,150.06C247.3,154.33 247.46,157.15 247.64,160.47C247.82,163.8 248.03,167.41 248.71,170.01C249.39,172.62 250.78,174.59 251.72,176.09C252.66,177.58 253.91,178.5 254.34,178.98" fill="none" stroke="#111" stroke-width="1.3"/>
<path d="M162.49,134.88C162.67,138.3 163.22,149.55 163.56,155.41C163.9,161.27 164.11,165.04 164.53,170.01C164.95,174.99 165.32,180.86 166.09,185.27C166.85,189.68 167.74,193.25 169.1,196.48C170.46,199.71 172.89,202.62 174.25,204.65C175.61,206.67 176.76,207.96 177.26,208.62" fill="none" stroke="#111" stroke-width="1.3" stroke-dasharray="2.4,1.6"/>
<path d="M171.24,134.88C171.06,138.3 170.27,149.55 170.17,155.41C170.07,161.27 170.4,165.88 170.65,170.01C170.91,174.15 171.06,176.81 171.72,180.21C172.39,183.61 173.21,187.17 174.64,190.4C176.07,193.63 178.14,197.39 180.28,199.59C182.42,201.78 184.93,202.72 187.47,203.56C190.01,204.41 192.82,204.89 195.54,204.65C198.26,204.41 201.22,204.1 203.8,202.12C206.38,200.13 209.11,196.37 210.99,192.72C212.87,189.07 214.05,183.99 215.08,180.21C216.1,176.43 216.78,173.3 217.12,170.01C217.46,166.73 217.36,164.1 217.12,160.47C216.87,156.84 216.5,152.52 215.66,148.25C214.82,143.99 212.66,137.11 212.06,134.88" fill="none" stroke="#111" stroke-width="1.3" stroke-dasharray="2.4,1.6"/>
<path d="M181.35,134.88C180.59,137.11 177.9,143.48 176.78,148.25C175.66,153.02 174.82,159.88 174.64,163.51C174.46,167.13 175.27,167.23 175.71,170.01C176.15,172.8 176.32,176.98 177.26,180.21C178.2,183.44 179.65,187.02 181.35,189.39C183.05,191.77 185.45,193.44 187.47,194.45C189.5,195.46 191.63,195.75 193.5,195.46C195.36,195.18 196.93,194.26 198.65,192.72C200.37,191.17 202.28,188.63 203.8,186.21C205.32,183.79 206.96,180.88 207.79,178.18C208.61,175.49 208.64,172.11 208.76,170.01C208.87,167.92 208.76,167.73 208.47,165.6C208.17,163.48 207.96,160.36 207.01,157.29C206.05,154.22 204.38,150.9 202.73,147.17C201.08,143.43 198.03,136.93 197.09,134.88" fill="none" stroke="#111" stroke-width="1.3" stroke-dasharray="2.4,1.6"/>
<path d="M179.79,170.01C179.44,167.58 179.52,164.09 180.28,161.48C181.04,158.88 182.82,156.01 184.36,154.4C185.9,152.78 187.65,151.8 189.51,151.8C191.37,151.8 193.85,153.12 195.54,154.4C197.22,155.68 198.6,157.09 199.62,159.46C200.64,161.83 201.32,166.21 201.66,168.64C202,171.08 202.16,171.98 201.66,174.06C201.16,176.15 200.01,179.28 198.65,181.15C197.29,183.02 195.36,184.91 193.5,185.27C191.63,185.63 189.32,184.85 187.47,183.32C185.62,181.79 183.7,178.31 182.42,176.09C181.14,173.87 180.15,172.45 179.79,170.01Z" fill="none" stroke="#111" stroke-width="1.3" stroke-dasharray="2.4,1.6"/>
<path d="M226.16,134.88C226.35,137.41 227.05,145.79 227.32,150.06C227.6,154.33 227.89,157.15 227.81,160.47C227.73,163.8 227.1,165.88 226.84,170.01C226.58,174.15 226.59,180.16 226.25,185.27C225.91,190.38 224.8,196.78 224.8,200.67C224.8,204.56 226.01,207.3 226.25,208.62" fill="none" stroke="#111" stroke-width="1.3" stroke-dasharray="2.4,1.6"/>
</g>
<rect x="155.2" y="135.6" width="97.2" height="72.3" fill="none" stroke="#222" stroke-width="0.9"/>
<text x="149" y="138.6" font-size="6.6" text-anchor="end">100</text>
<text x="149" y="151.33" font-size="6.6" text-anchor="end">150</text>
<text x="149" y="160.36" font-size="6.6" text-anchor="end">200</text>
<text x="149" y="167.37" font-size="6.6" text-anchor="end">250</text>
<text x="149" y="173.1" font-size="6.6" text-anchor="end">300</text>
<text x="149" y="182.13" font-size="6.6" text-anchor="end">400</text>
<text x="149" y="189.14" font-size="6.6" text-anchor="end">500</text>
<text x="149" y="199.7" font-size="6.6" text-anchor="end">700</text>
<text x="149" y="205.8" font-size="6.6" text-anchor="end">850</text>
<text x="149" y="210.9" font-size="6.6" text-anchor="end">1000</text>
<text x="162.68" y="221.1" font-size="7" text-anchor="middle">30°E</text>
<text x="185.11" y="221.1" font-size="7" text-anchor="middle">60°E</text>
<text x="207.54" y="221.1" font-size="7" text-anchor="middle">90°E</text>
<text x="229.97" y="221.1" font-size="7" text-anchor="middle">120°E</text>
<text x="252.4" y="221.1" font-size="7" text-anchor="middle">150°E</text>
<path d="M155.2,135.6h-2M155.2,148.33h-2M155.2,157.36h-2M155.2,164.37h-2M155.2,170.1h-2M155.2,179.13h-2M155.2,186.14h-2M155.2,196.7h-2M155.2,202.8h-2M155.2,207.9h-2M162.68,207.9v2.6M185.11,207.9v2.6M207.54,207.9v2.6M229.97,207.9v2.6M252.4,207.9v2.6" stroke="#222" stroke-width="0.8" fill="none"/>
<text x="154.7" y="131.6" font-size="6.7">(f) Phase 6</text>
<clipPath id="cp6"><rect x="155.2" y="236.3" width="97.2" height="72.3"/></clipPath>
<g clip-path="url(#cp6)">
<path d="M171.14,234.85C177.05,232.81 200.62,231.26 206.72,234.85C212.81,238.44 207.85,252.13 207.69,256.4C207.53,260.67 208.11,259.27 205.74,260.45C203.38,261.63 197.56,262.98 193.5,263.48C189.43,263.99 184.89,264.16 181.35,263.48C177.8,262.81 173.89,262.16 172.21,259.44C170.53,256.71 171.42,251.24 171.24,247.15C171.06,243.05 165.23,236.9 171.14,234.85Z" fill="#fedcc0"/>
<path d="M184.36,256.4C185.04,254.95 187.08,251.43 188.44,250.25C189.8,249.07 190.66,248.15 192.52,249.31C194.39,250.48 199.12,255.58 199.62,257.27C200.12,258.95 198.08,259.16 195.54,259.44C192.99,259.71 186.22,259.44 184.36,258.93C182.5,258.42 183.68,257.85 184.36,256.4Z" fill="#fca884"/>
<path d="M234.42,234.85C237.98,232.93 251.02,230.64 254.34,234.85C257.66,239.07 256.29,255.58 254.34,260.16C252.4,264.74 246.57,261.77 242.68,262.33C238.79,262.88 234.26,263.29 231.02,263.48C227.78,263.68 224.45,265 223.24,263.48C222.02,261.97 222.59,256.01 223.73,254.38C224.86,252.74 228.5,254.98 230.04,253.65C231.58,252.33 232.23,249.56 232.96,246.42C233.69,243.29 230.85,236.78 234.42,234.85Z" fill="#b6d8ff"/>
<path d="M222.27,268.11C225.67,266.06 232.47,267.63 237.82,267.39C243.17,267.15 251.59,259.56 254.34,266.67C257.1,273.78 260.71,302.82 254.34,310.05C247.98,317.28 222.3,315.11 216.14,310.05C209.99,304.99 216.39,286.67 217.41,279.68C218.43,272.69 218.87,270.16 222.27,268.11Z" fill="#fedcc0"/>
<path d="M224.21,277.15C226.8,273.9 232.8,272.87 237.82,271.73C242.84,270.58 251.59,263.89 254.34,270.28C257.1,276.67 260.05,303.42 254.34,310.05C248.64,316.67 225.48,313.18 220.13,310.05C214.78,306.91 221.59,296.73 222.27,291.25C222.95,285.77 221.62,280.4 224.21,277.15Z" fill="#fca884"/>
<path d="M238.79,276.79C242.36,275.7 251.75,269.08 254.34,274.62C256.94,280.16 259.2,304.14 254.34,310.05C249.48,315.95 229.4,312.7 225.18,310.05C220.97,307.39 227.78,298.96 229.07,294.14C230.37,289.32 231.34,284.02 232.96,281.13C234.58,278.23 235.23,277.87 238.79,276.79Z" fill="#fd6242"/>
<path d="M157.92,283.3C159.25,279.41 162.13,275.32 164.92,273.03C167.71,270.74 168.86,270.14 174.64,269.56C180.42,268.98 194.11,268.64 199.62,269.56C205.13,270.47 206.29,270.96 207.69,275.05C209.08,279.15 207.98,288.31 207.98,294.14C207.98,299.97 216.16,307.39 207.69,310.05C199.22,312.7 165.6,312.34 157.14,310.05C148.69,307.76 156.82,300.77 156.95,296.31C157.08,291.85 156.59,287.18 157.92,283.3Z" fill="#b6d8ff"/>
<path d="M170.17,279.17C173.2,276.47 180.42,275.39 185.33,275.05C190.24,274.72 196.54,274.45 199.62,277.15C202.7,279.85 203.28,285.77 203.8,291.25C204.32,296.73 208.68,306.91 202.73,310.05C196.79,313.18 174.06,313.18 168.13,310.05C162.2,306.91 166.82,296.39 167.16,291.25C167.5,286.1 167.14,281.87 170.17,279.17Z" fill="#7ea8ff"/>
<path d="M181.35,282.21C183.37,279.99 186.42,280.62 188.44,281.13C190.47,281.63 191.97,282.72 193.5,285.25C195.02,287.78 196.9,292.66 197.58,296.31C198.26,299.96 201.31,305.35 197.58,307.15C193.85,308.96 178.77,309.27 175.22,307.15C171.68,305.03 175.27,298.59 176.29,294.43C177.31,290.27 179.32,284.43 181.35,282.21Z" fill="#3e62fa"/>
<ellipse cx="186.98" cy="303.76" rx="1.56" ry="0.8" fill="#0000ff"/>
<path d="M165.6,235.58C165.26,238.19 164.08,246.08 163.56,251.27C163.04,256.45 162.75,263.38 162.49,266.67C162.23,269.96 161.74,269.26 162,271C162.26,272.75 162.86,274.44 164.05,277.15C165.23,279.86 167.06,284.39 169.1,287.27C171.14,290.15 173.59,292.39 176.29,294.43C179,296.47 182.63,298.82 185.33,299.49C188.04,300.17 190.48,299.49 192.52,298.48C194.57,297.47 196.06,295.79 197.58,293.42C199.1,291.04 200.64,287.13 201.66,284.23C202.68,281.34 203.35,278.99 203.7,276.06C204.06,273.14 204.14,270.8 203.8,266.67C203.46,262.53 202.44,256.45 201.66,251.27C200.88,246.08 199.56,238.19 199.13,235.58" fill="none" stroke="#111" stroke-width="1.3" stroke-dasharray="2.4,1.6"/>
<path d="M175.22,272.02C174.45,269.57 174.3,267.44 174.64,264.5C174.98,261.56 175.64,257.17 177.26,254.38C178.88,251.58 182.32,248.57 184.36,247.72C186.4,246.88 187.81,247.87 189.51,249.31C191.21,250.76 193.22,253.7 194.57,256.4C195.91,259.1 197.08,262.91 197.58,265.51C198.08,268.11 198.08,269.74 197.58,272.02C197.08,274.29 195.91,277.22 194.57,279.17C193.22,281.13 191.21,282.97 189.51,283.73C187.81,284.49 186.06,284.49 184.36,283.73C182.66,282.97 180.83,281.13 179.31,279.17C177.78,277.22 176,274.46 175.22,272.02Z" fill="none" stroke="#111" stroke-width="1.3" stroke-dasharray="2.4,1.6"/>
<path d="M207.98,235.58C208.16,238.19 208.79,246.08 209.05,251.27C209.31,256.45 209.37,263.38 209.53,266.67C209.7,269.96 210.28,267.75 210.02,271C209.76,274.26 208.82,281.44 207.98,286.19C207.14,290.93 206.15,295.63 204.97,299.49C203.78,303.35 201.56,307.68 200.88,309.32" fill="none" stroke="#111" stroke-width="1.3" stroke-dasharray="2.4,1.6"/>
<path d="M224.21,235.58C224.13,238.19 224.05,246.45 223.73,251.27C223.4,256.09 222.69,261.21 222.27,264.5C221.85,267.79 221.04,268.23 221.2,271C221.36,273.78 222.22,277.75 223.24,281.13C224.26,284.5 225.46,288.19 227.32,291.25C229.19,294.31 232.05,296.92 234.42,299.49C236.78,302.06 240.14,305.01 241.51,306.65C242.89,308.29 242.49,308.88 242.68,309.32" fill="none" stroke="#111" stroke-width="1.3"/>
<path d="M232.96,235.58C232.7,238.19 232,246.45 231.4,251.27C230.81,256.09 229.7,261.21 229.36,264.5C229.02,267.79 228.86,268.56 229.36,271C229.87,273.45 231.03,276.28 232.38,279.17C233.72,282.07 235.39,285.64 237.43,288.36C239.47,291.07 241.81,293.59 244.62,295.44C247.44,297.3 252.72,298.82 254.34,299.49" fill="none" stroke="#111" stroke-width="1.3"/>
<path d="M254.34,240.06C253.05,240.23 248.87,239.53 246.57,241.07C244.27,242.61 241.97,245.92 240.54,249.31C239.12,252.71 238.44,257.85 238.01,261.46C237.59,265.08 237.59,268.57 238.01,271C238.44,273.44 239.28,274.38 240.54,276.06C241.81,277.75 243.3,279.92 245.6,281.13C247.9,282.33 252.89,282.93 254.34,283.3" fill="none" stroke="#111" stroke-width="1.3"/>
</g>
<rect x="155.2" y="236.3" width="97.2" height="72.3" fill="none" stroke="#222" stroke-width="0.9"/>
<text x="149" y="239.3" font-size="6.6" text-anchor="end">100</text>
<text x="149" y="252.03" font-size="6.6" text-anchor="end">150</text>
<text x="149" y="261.06" font-size="6.6" text-anchor="end">200</text>
<text x="149" y="268.07" font-size="6.6" text-anchor="end">250</text>
<text x="149" y="273.8" font-size="6.6" text-anchor="end">300</text>
<text x="149" y="282.83" font-size="6.6" text-anchor="end">400</text>
<text x="149" y="289.84" font-size="6.6" text-anchor="end">500</text>
<text x="149" y="300.4" font-size="6.6" text-anchor="end">700</text>
<text x="149" y="306.5" font-size="6.6" text-anchor="end">850</text>
<text x="149" y="311.6" font-size="6.6" text-anchor="end">1000</text>
<text x="162.68" y="321.8" font-size="7" text-anchor="middle">30°E</text>
<text x="185.11" y="321.8" font-size="7" text-anchor="middle">60°E</text>
<text x="207.54" y="321.8" font-size="7" text-anchor="middle">90°E</text>
<text x="229.97" y="321.8" font-size="7" text-anchor="middle">120°E</text>
<text x="252.4" y="321.8" font-size="7" text-anchor="middle">150°E</text>
<path d="M155.2,236.3h-2M155.2,249.03h-2M155.2,258.06h-2M155.2,265.07h-2M155.2,270.8h-2M155.2,279.83h-2M155.2,286.84h-2M155.2,297.4h-2M155.2,303.5h-2M155.2,308.6h-2M162.68,308.6v2.6M185.11,308.6v2.6M207.54,308.6v2.6M229.97,308.6v2.6M252.4,308.6v2.6" stroke="#222" stroke-width="0.8" fill="none"/>
<text x="154.7" y="232.3" font-size="6.7">(g) Phase 7</text>
<clipPath id="cp7"><rect x="155.2" y="337" width="97.2" height="72.3"/></clipPath>
<g clip-path="url(#cp7)">
<path d="M156.46,335.55C157.39,330.57 160.59,332.77 162,335.55C163.41,338.34 164.58,347.6 164.92,352.26C165.26,356.91 165.03,361.26 164.05,363.46C163.06,365.67 160.25,365.15 158.99,365.49C157.73,365.82 156.88,370.47 156.46,365.49C156.04,360.5 155.54,340.54 156.46,335.55Z" fill="#fedcc0"/>
<path d="M155.2,352.18C155.85,350.98 158.12,352.79 159.09,353.63C160.06,354.47 161.03,356.04 161.03,357.24C161.03,358.45 160.06,360.26 159.09,360.86C158.12,361.46 155.85,362.3 155.2,360.86C154.55,359.41 154.55,353.39 155.2,352.18Z" fill="#fca884"/>
<path d="M156.46,377.05C157.22,371.92 159.43,375.36 161.03,377.05C162.64,378.75 165.07,384.36 166.09,387.25C167.11,390.14 167.35,391.86 167.16,394.41C166.96,396.95 165.6,400.26 164.92,402.5C164.24,404.75 164.48,406.96 163.07,407.85C161.66,408.75 157.57,412.99 156.46,407.85C155.36,402.72 155.7,382.19 156.46,377.05Z" fill="#b6d8ff"/>
<rect x="155.2" y="382.19" width="3.89" height="22.41" rx="2" fill="#7ea8ff"/>
<path d="M208.95,335.55C216.52,332.77 246.78,330.57 254.34,335.55C261.91,340.54 256.3,360.67 254.34,365.49C252.38,370.31 248.79,364.64 242.58,364.47C236.38,364.31 222.45,365.44 217.12,364.47C211.79,363.51 211.96,360.73 210.6,358.69C209.24,356.65 209.23,356.11 208.95,352.26C208.68,348.4 201.39,338.34 208.95,335.55Z" fill="#b6d8ff"/>
<path d="M220.13,347.19C222.33,344.82 227.11,344.5 230.34,345.17C233.56,345.84 235.47,349.54 239.47,351.24C243.47,352.94 251.87,354 254.34,355.36C256.82,356.73 255.8,358.4 254.34,359.41C252.89,360.43 250.46,360.93 245.6,361.44C240.74,361.94 229.93,362.79 225.18,362.45C220.44,362.11 217.96,361.96 217.12,359.41C216.27,356.87 217.93,349.57 220.13,347.19Z" fill="#7ea8ff"/>
<ellipse cx="229.36" cy="358.4" rx="6.12" ry="2.02" fill="#3e62fa"/>
<path d="M206.72,373.15C209.47,366.28 217.25,370.14 223.24,369.53C229.23,368.93 237.5,369.53 242.68,369.53C247.86,369.53 252.4,362.67 254.34,369.53C256.29,376.4 262.28,403.88 254.34,410.75C246.41,417.61 214.65,417.01 206.72,410.75C198.78,404.48 203.96,380.02 206.72,373.15Z" fill="#fedcc0"/>
<path d="M208.95,374.02C213.11,370.81 225.39,373.49 232.96,373.15C240.53,372.81 250.78,365.73 254.34,371.99C257.91,378.26 261.73,404.29 254.34,410.75C246.96,417.2 217.75,413.81 210.02,410.75C202.29,407.69 208.16,398.5 207.98,392.38C207.8,386.26 204.79,377.22 208.95,374.02Z" fill="#fca884"/>
<path d="M222.27,378.07C227.35,376.54 243.07,376.54 247.64,378.07C252.21,379.6 250.02,383.18 249.68,387.25C249.34,391.32 247.3,399.11 245.6,402.5C243.9,405.9 244.38,406.78 239.47,407.64C234.56,408.49 219.87,411.04 216.14,407.64C212.42,404.24 216.1,392.18 217.12,387.25C218.14,382.32 217.18,379.6 222.27,378.07Z" fill="#fd6242"/>
<path d="M228.29,391.37C230.32,390.19 234.03,390.19 235.39,391.37C236.75,392.55 236.62,396.08 236.46,398.45C236.3,400.83 236.78,404.25 234.42,405.61C232.05,406.97 224.13,407.82 222.27,406.62C220.4,405.43 222.24,401 223.24,398.45C224.24,395.91 226.27,392.55 228.29,391.37Z" fill="#ff0606"/>
<path d="M161.52,336.28C162.09,338.6 163.98,345.87 164.92,350.23C165.86,354.59 166.7,358.82 167.16,362.45C167.61,366.08 167.82,367.86 167.64,371.99C167.46,376.13 166.85,382.84 166.09,387.25C165.32,391.66 164.43,395.56 163.07,398.45C161.71,401.35 159.4,403.4 157.92,404.6C156.45,405.81 154.84,405.5 154.23,405.69" fill="none" stroke="#111" stroke-width="1.3" stroke-dasharray="2.4,1.6"/>
<path d="M154.23,357.97C154.68,358.21 156.16,358.33 156.95,359.41C157.74,360.5 158.47,362.38 158.99,364.47C159.51,366.57 160.4,369.38 160.06,371.99C159.72,374.61 157.92,378.4 156.95,380.16C155.98,381.92 154.68,382.15 154.23,382.55" fill="none" stroke="#111" stroke-width="1.3" stroke-dasharray="2.4,1.6"/>
<path d="M178.82,336.28C178.98,338.1 179.97,342.83 179.79,347.19C179.61,351.56 178.25,357.48 177.75,362.45C177.25,367.41 177.02,371.99 176.78,376.98C176.54,381.97 176.47,386.87 176.29,392.38C176.11,397.89 175.81,407.08 175.71,410.02" fill="none" stroke="#111" stroke-width="1.3" stroke-dasharray="2.4,1.6"/>
<path d="M207.3,336.28C207.2,338.94 207.06,347.04 206.72,352.26C206.38,357.47 205.55,364.29 205.26,367.58C204.97,370.87 204.77,368.72 204.97,371.99C205.16,375.27 205.42,382.67 206.42,387.25C207.43,391.83 209.21,396.07 210.99,399.47C212.77,402.87 215.92,405.88 217.12,407.64C218.32,409.4 218.01,409.63 218.19,410.02" fill="none" stroke="#111" stroke-width="1.3"/>
<path d="M215.66,336.28C215.4,338.94 214.7,347.39 214.1,352.26C213.5,357.12 212.48,362.2 212.06,365.49C211.64,368.78 211.41,369.21 211.58,371.99C211.74,374.78 211.93,378.79 213.03,382.19C214.14,385.59 216.14,389.33 218.19,392.38C220.23,395.43 222.74,398.79 225.28,400.48C227.82,402.17 230.74,401.82 233.45,402.5C236.15,403.19 238.03,403.91 241.51,404.6C245,405.29 252.21,406.29 254.34,406.62" fill="none" stroke="#111" stroke-width="1.3"/>
<path d="M234.42,336.28C233.24,337.24 229.53,339.4 227.32,342.06C225.12,344.72 222.82,348.35 221.2,352.26C219.58,356.16 218.2,362.2 217.6,365.49C217,368.78 217.18,369.55 217.6,371.99C218.02,374.44 218.69,377.62 220.13,380.16C221.57,382.71 223.71,385.55 226.25,387.25C228.8,388.95 232.33,390.02 235.39,390.36C238.45,390.69 241.47,390.47 244.62,389.27C247.78,388.08 252.72,384.21 254.34,383.2" fill="none" stroke="#111" stroke-width="1.3"/>
<path d="M242.58,336.28C243.59,337.76 246.65,342.4 248.61,345.17C250.57,347.94 253.39,351.62 254.34,352.91" fill="none" stroke="#111" stroke-width="1.3"/>
<path d="M226.25,367.58C226.42,366.05 226.77,364.32 228.29,363.46C229.82,362.61 233.01,362.37 235.39,362.45C237.77,362.53 241.04,363.11 242.58,363.97C244.12,364.82 244.62,366.14 244.62,367.58C244.62,369.03 244.28,371.55 242.58,372.64C240.88,373.74 236.96,374.16 234.42,374.16C231.87,374.16 228.68,373.74 227.32,372.64C225.96,371.55 226.09,369.11 226.25,367.58Z" fill="none" stroke="#111" stroke-width="1.3"/>
</g>
<rect x="155.2" y="337" width="97.2" height="72.3" fill="none" stroke="#222" stroke-width="0.9"/>
<text x="149" y="340" font-size="6.6" text-anchor="end">100</text>
<text x="149" y="352.73" font-size="6.6" text-anchor="end">150</text>
<text x="149" y="361.76" font-size="6.6" text-anchor="end">200</text>
<text x="149" y="368.77" font-size="6.6" text-anchor="end">250</text>
<text x="149" y="374.5" font-size="6.6" text-anchor="end">300</text>
<text x="149" y="383.53" font-size="6.6" text-anchor="end">400</text>
<text x="149" y="390.54" font-size="6.6" text-anchor="end">500</text>
<text x="149" y="401.1" font-size="6.6" text-anchor="end">700</text>
<text x="149" y="407.2" font-size="6.6" text-anchor="end">850</text>
<text x="149" y="412.3" font-size="6.6" text-anchor="end">1000</text>
<text x="162.68" y="422.5" font-size="7" text-anchor="middle">30°E</text>
<text x="185.11" y="422.5" font-size="7" text-anchor="middle">60°E</text>
<text x="207.54" y="422.5" font-size="7" text-anchor="middle">90°E</text>
<text x="229.97" y="422.5" font-size="7" text-anchor="middle">120°E</text>
<text x="252.4" y="422.5" font-size="7" text-anchor="middle">150°E</text>
<path d="M155.2,337h-2M155.2,349.73h-2M155.2,358.76h-2M155.2,365.77h-2M155.2,371.5h-2M155.2,380.53h-2M155.2,387.54h-2M155.2,398.1h-2M155.2,404.2h-2M155.2,409.3h-2M162.68,409.3v2.6M185.11,409.3v2.6M207.54,409.3v2.6M229.97,409.3v2.6M252.4,409.3v2.6" stroke="#222" stroke-width="0.8" fill="none"/>
<text x="154.7" y="333" font-size="6.7">(h) Phase 8</text>
<clipPath id="cp8"><rect x="303.2" y="35" width="97.1" height="72.3"/></clipPath>
<g clip-path="url(#cp8)">
<path d="M304.95,33.55C307.89,28.4 319.51,30.77 322.62,33.55C325.73,36.34 323.43,45.27 323.59,50.26C323.75,55.24 325.05,61.09 323.59,63.49C322.13,65.88 317.96,64.47 314.85,64.64C311.74,64.81 306.6,69.68 304.95,64.5C303.3,59.32 302,38.71 304.95,33.55Z" fill="#fedcc0"/>
<path d="M316.6,43.17C317.96,43.51 319.51,47.71 320.68,50.26C321.84,52.8 323.59,56.22 323.59,58.43C323.59,60.63 323.02,62.64 320.68,63.49C318.33,64.33 311.55,64.33 309.51,63.49C307.47,62.64 307.94,60.97 308.44,58.43C308.95,55.88 311.16,50.77 312.52,48.23C313.88,45.69 315.24,42.83 316.6,43.17Z" fill="#fca884"/>
<ellipse cx="316.6" cy="56.4" rx="5.63" ry="4.05" fill="#fd6242"/>
<path d="M306.4,80.19C307.08,77.98 307.97,77.49 309.51,77.15C311.05,76.81 314.11,76.81 315.63,78.16C317.15,79.51 318.14,80.15 318.64,85.25C319.14,90.35 320.84,104.83 318.64,108.75C316.44,112.66 307.63,111.81 305.43,108.75C303.23,105.69 305.27,95.14 305.43,90.38C305.6,85.62 305.72,82.39 306.4,80.19Z" fill="#b6d8ff"/>
<path d="M330.87,33.55C335.6,30.77 354.45,30.9 359.23,33.55C364,36.2 359.47,44.28 359.52,49.46C359.57,54.64 362.43,62.11 359.52,64.64C356.6,67.17 346.49,64.64 342.04,64.64C337.59,64.64 334.68,67.04 332.82,64.64C330.95,62.25 331.2,55.44 330.87,50.26C330.55,45.07 326.15,36.34 330.87,33.55Z" fill="#b6d8ff"/>
<path d="M332.82,33.55C335.36,30.77 344.18,30.77 348.06,33.55C351.94,36.34 354.42,45.6 356.12,50.26C357.82,54.91 359.42,59.06 358.26,61.46C357.09,63.86 353.03,64.11 349.13,64.64C345.23,65.17 337.57,67.04 334.85,64.64C332.14,62.25 333.16,55.44 332.82,50.26C332.48,45.07 330.27,36.34 332.82,33.55Z" fill="#7ea8ff"/>
<path d="M333.88,37.17C335.91,35.11 342.64,35.19 346.02,37.89C349.4,40.59 352.49,49.44 354.18,53.36C355.86,57.29 356.8,59.58 356.12,61.46C355.44,63.34 353.47,64.29 350.1,64.64C346.73,64.99 338.63,65.96 335.92,63.56C333.22,61.16 334.22,54.65 333.88,50.26C333.54,45.86 331.86,39.23 333.88,37.17Z" fill="#3e62fa"/>
<path d="M336.89,43.17C338.58,41.64 343.3,42.48 346.02,44.18C348.74,45.88 351.85,50.65 353.21,53.36C354.57,56.08 354.86,58.76 354.18,60.45C353.5,62.14 351.83,63.15 349.13,63.49C346.43,63.82 340.16,64.16 337.96,62.47C335.76,60.79 336.1,56.58 335.92,53.36C335.74,50.15 335.21,44.7 336.89,43.17Z" fill="#0000ff"/>
<path d="M342.04,48.23C343.56,47.71 346.72,48.72 348.06,50.26C349.4,51.79 350.44,55.71 350.1,57.41C349.76,59.11 347.72,60.11 346.02,60.45C344.32,60.79 341.09,60.62 339.9,59.44C338.72,58.26 338.58,55.23 338.93,53.36C339.29,51.5 340.52,48.75 342.04,48.23Z" fill="#2612dc"/>
<path d="M324.56,68.26C326.83,65.13 332.65,67.05 337.19,66.81C341.72,66.57 348.03,66.09 351.75,66.81C355.47,67.53 358.39,66.81 359.52,71.15C360.65,75.49 359.03,86.57 358.55,92.84C358.06,99.11 362.27,106.09 356.61,108.75C350.94,111.4 330.06,112.6 324.56,108.75C319.06,104.89 323.59,92.36 323.59,85.61C323.59,78.86 322.3,71.39 324.56,68.26Z" fill="#fedcc0"/>
<path d="M325.53,71.15C327.64,68.26 332.82,68.74 337.19,68.26C341.55,67.78 348.59,66.57 351.75,68.26C354.91,69.95 355.63,74.28 356.12,78.38C356.61,82.48 355.39,87.78 354.66,92.84C353.93,97.9 356.52,106.09 351.75,108.75C346.98,111.4 330.55,112.6 326.02,108.75C321.49,104.89 324.64,91.88 324.56,85.61C324.48,79.34 323.43,74.04 325.53,71.15Z" fill="#fca884"/>
<path d="M327.47,73.32C329.26,70.67 333.46,70.07 337.19,69.7C340.91,69.34 347.06,69.1 349.81,71.15C352.56,73.2 353.37,77.78 353.69,82C354.02,86.21 352.4,92 351.75,96.45C351.1,100.91 353.93,106.7 349.81,108.75C345.68,110.79 330.87,112.6 326.99,108.75C323.11,104.89 326.42,91.51 326.5,85.61C326.58,79.71 325.69,75.97 327.47,73.32Z" fill="#fd6242"/>
<path d="M331.84,76.07C334.21,73.34 340.94,73.36 343.98,74.04C347.02,74.73 348.9,76.62 350.1,80.19C351.3,83.75 351.51,90.68 351.17,95.44C350.83,100.2 351.96,106.53 348.06,108.75C344.16,110.96 330.81,111.81 327.77,108.75C324.72,105.69 329.13,95.83 329.81,90.38C330.49,84.94 329.48,78.79 331.84,76.07Z" fill="#ff0606"/>
<path d="M334.27,85.61C336.7,83.56 343.33,82.96 345.92,84.16C348.51,85.37 349.32,89.59 349.81,92.84C350.29,96.09 349.48,101.03 348.84,103.68C348.19,106.34 348.68,107.9 345.92,108.75C343.17,109.59 334.76,110.79 332.33,108.75C329.9,106.7 331.04,100.31 331.36,96.45C331.68,92.6 331.84,87.66 334.27,85.61Z" fill="#c8082c"/>
<path d="M366.61,33.55C369.65,29.91 378.99,29.7 383.79,33.55C388.6,37.41 392.37,51.03 395.44,56.69C398.52,62.35 401.11,62.11 402.24,67.53C403.37,72.96 404.18,88.02 402.24,89.22C400.3,90.43 393.32,78.71 390.59,74.77C387.86,70.82 389.15,67.11 385.83,65.58C382.51,64.05 374.07,67.28 370.68,65.58C367.3,63.88 366.22,60.73 365.54,55.39C364.86,50.05 363.56,37.19 366.61,33.55Z" fill="#fedcc0"/>
<path d="M373.69,43.17C375.38,41.98 377.06,45.35 378.74,47.22C380.43,49.09 382.61,52 383.79,54.38C384.97,56.75 386.5,59.77 385.83,61.46C385.17,63.15 382.51,64.16 379.81,64.5C377.11,64.84 371.48,65.17 369.62,63.49C367.76,61.8 367.97,57.76 368.65,54.38C369.33,50.99 372.01,44.36 373.69,43.17Z" fill="#fca884"/>
<path d="M369.62,53.36C370.64,51.33 375.41,49.92 377.77,50.26C380.14,50.59 382.63,53.52 383.79,55.39C384.96,57.26 385.61,60.11 384.76,61.46C383.92,62.81 380.93,63.32 378.74,63.49C376.56,63.65 373.18,64.16 371.66,62.47C370.13,60.79 368.6,55.4 369.62,53.36Z" fill="#fd6242"/>
<ellipse cx="375.73" cy="56.91" rx="5.05" ry="3.54" fill="#ff0606"/>
<path d="M361.46,68.98C363.48,67.78 367.61,67.66 371.17,67.53C374.73,67.41 380.07,66.45 382.82,68.26C385.57,70.07 386.32,74.69 387.68,78.38C389.04,82.07 390.61,85.32 390.98,90.38C391.35,95.44 394.99,105.69 389.91,108.75C384.83,111.81 365.73,111.81 360.49,108.75C355.25,105.69 358.69,96.05 358.45,90.38C358.21,84.72 358.53,78.33 359.03,74.77C359.53,71.2 359.44,70.19 361.46,68.98Z" fill="#b6d8ff"/>
<path d="M362.43,72.6C364.21,70.19 367.77,71.27 371.17,71.15C374.57,71.03 380.23,69.46 382.82,71.87C385.41,74.28 385.9,82.12 386.71,85.61C387.52,89.1 387.52,88.98 387.68,92.84C387.84,96.7 392.05,106.09 387.68,108.75C383.31,111.4 365.99,112.6 361.46,108.75C356.93,104.89 360.33,91.63 360.49,85.61C360.65,79.58 360.65,75.01 362.43,72.6Z" fill="#7ea8ff"/>
<path d="M364.37,74.77C367.12,72.96 375.54,72.16 378.94,74.77C382.34,77.37 383.63,85.08 384.76,90.38C385.9,95.68 389.3,103.88 385.74,106.58C382.17,109.28 367.29,110.07 363.4,106.58C359.52,103.08 362.27,90.91 362.43,85.61C362.59,80.31 361.62,76.57 364.37,74.77Z" fill="#3e62fa"/>
<path d="M365.34,81.27C367.45,79.22 372.14,78.86 375.05,80.55C377.97,82.24 381.2,86.69 382.82,91.39C384.44,96.09 388.16,105.85 384.76,108.75C381.37,111.64 366.15,111.4 362.43,108.75C358.71,106.09 361.95,97.42 362.43,92.84C362.92,88.26 363.24,83.32 365.34,81.27Z" fill="#0000ff"/>
<path d="M367.29,88.5C369.07,87.18 373.76,87.18 376.02,88.5C378.29,89.83 380.23,93.08 380.88,96.45C381.53,99.83 382.17,106.7 379.91,108.75C377.64,110.79 369.71,110.79 367.29,108.75C364.86,106.7 365.34,99.83 365.34,96.45C365.34,93.08 365.51,89.83 367.29,88.5Z" fill="#2612dc"/>
<path d="M324.76,34.28C324.84,36.94 325,44.3 325.24,50.26C325.48,56.21 325.79,65 326.21,69.99C326.63,74.98 327.01,76.79 327.77,80.19C328.53,83.59 329.42,87.16 330.78,90.38C332.14,93.6 334.05,97.12 335.92,99.49C337.8,101.87 340.7,103.2 342.04,104.62C343.38,106.05 343.66,107.46 343.98,108.02" fill="none" stroke="#111" stroke-width="1.3"/>
<path d="M331.36,34.28C331.2,36.94 330.49,44.3 330.39,50.26C330.29,56.21 330.53,65 330.78,69.99C331.02,74.98 330.99,76.79 331.84,80.19C332.7,83.59 334.22,87.67 335.92,90.38C337.62,93.09 339.84,94.94 342.04,96.45C344.24,97.97 346.94,99.66 349.13,99.49C351.31,99.32 353.63,97.82 355.15,95.44C356.67,93.07 357.53,88.66 358.26,85.25C358.98,81.84 359.31,78.26 359.52,74.98C359.73,71.7 359.86,69.7 359.52,65.58C359.18,61.46 358.34,55.47 357.48,50.26C356.62,45.04 354.89,36.94 354.37,34.28" fill="none" stroke="#111" stroke-width="1.3"/>
<path d="M333.3,69.99C333.56,71.35 333.92,75.62 334.85,78.16C335.79,80.71 337.41,83.38 338.93,85.25C340.45,87.12 342.28,88.51 343.98,89.37C345.68,90.23 347.59,91.07 349.13,90.38C350.67,89.69 352.2,87.8 353.21,85.25C354.21,82.69 355.12,78.33 355.15,75.05C355.18,71.78 354.03,69.72 353.4,65.58C352.77,61.45 352.25,55.47 351.36,50.26C350.47,45.04 348.61,36.94 348.06,34.28" fill="none" stroke="#111" stroke-width="1.3"/>
<path d="M333.3,69.99C333.4,67.56 333.11,59.18 333.88,55.39C334.66,51.59 336.6,48.92 337.96,47.22C339.32,45.52 340.36,45.03 342.04,45.19C343.72,45.36 346.38,46.19 348.06,48.23C349.74,50.27 351.12,54.01 352.14,57.41C353.16,60.81 353.68,65.68 354.18,68.62C354.68,71.56 354.99,73.98 355.15,75.05" fill="none" stroke="#111" stroke-width="1.3"/>
<path d="M337.96,74.98C337.44,72.89 336.57,66.58 336.89,63.49C337.22,60.39 338.72,57.92 339.9,56.4C341.09,54.88 342.62,54.38 343.98,54.38C345.34,54.38 347.04,54.88 348.06,56.4C349.08,57.92 349.76,61.22 350.1,63.49C350.44,65.75 350.44,67.72 350.1,69.99C349.76,72.27 349.08,75.62 348.06,77.15C347.04,78.68 345.33,79.36 343.98,79.18C342.64,78.99 341,76.77 340,76.07C339,75.37 338.48,77.08 337.96,74.98Z" fill="none" stroke="#111" stroke-width="1.3"/>
<path d="M359.52,69.99C359.68,72.54 359.83,81.01 360.49,85.25C361.15,89.49 361.98,92.55 363.5,95.44C365.02,98.33 367.92,100.9 369.62,102.6C371.32,104.3 372.85,104.73 373.69,105.64C374.54,106.54 374.5,107.63 374.67,108.02" fill="none" stroke="#111" stroke-width="1.3"/>
<path d="M396.03,34.28C395.87,36.1 395.14,40.83 395.06,45.19C394.98,49.56 394.7,56.55 395.54,60.45C396.38,64.35 398.99,66.84 400.11,68.62C401.22,70.4 401.89,70.73 402.24,71.15" fill="none" stroke="#111" stroke-width="1.3"/>
<path d="M311.55,71.01C311.21,69.08 311.05,67 311.55,65.58C312.05,64.16 313.56,62.82 314.56,62.47C315.56,62.12 316.81,62.46 317.57,63.49C318.33,64.51 318.87,67.37 319.12,68.62C319.38,69.87 319.38,69.41 319.12,71.01C318.87,72.6 318.15,76.46 317.57,78.16C316.99,79.86 316.29,81.37 315.63,81.2C314.97,81.03 314.27,78.85 313.59,77.15C312.91,75.45 311.89,72.93 311.55,71.01Z" fill="none" stroke="#111" stroke-width="1.3" stroke-dasharray="2.4,1.6"/>
<path d="M367.09,69.99C366.75,67.72 366.35,65.92 366.61,63.49C366.87,61.05 367.46,57.24 368.65,55.39C369.83,53.53 372.01,52.52 373.69,52.35C375.38,52.18 377.38,53.03 378.74,54.38C380.1,55.73 381.17,58.08 381.85,60.45C382.53,62.82 382.58,67.03 382.82,68.62C383.06,70.21 383.31,68.75 383.31,69.99C383.31,71.23 383.24,74.03 382.82,76.07C382.4,78.1 381.8,80.51 380.78,82.21C379.76,83.91 378.06,86.09 376.7,86.26C375.35,86.43 373.97,84.74 372.63,83.22C371.28,81.71 369.57,79.36 368.65,77.15C367.72,74.95 367.43,72.27 367.09,69.99Z" fill="none" stroke="#111" stroke-width="1.3" stroke-dasharray="2.4,1.6"/>
</g>
<rect x="303.2" y="35" width="97.1" height="72.3" fill="none" stroke="#222" stroke-width="0.9"/>
<text x="297" y="38" font-size="6.6" text-anchor="end">100</text>
<text x="297" y="50.73" font-size="6.6" text-anchor="end">150</text>
<text x="297" y="59.76" font-size="6.6" text-anchor="end">200</text>
<text x="297" y="66.77" font-size="6.6" text-anchor="end">250</text>
<text x="297" y="72.5" font-size="6.6" text-anchor="end">300</text>
<text x="297" y="81.53" font-size="6.6" text-anchor="end">400</text>
<text x="297" y="88.54" font-size="6.6" text-anchor="end">500</text>
<text x="297" y="99.1" font-size="6.6" text-anchor="end">700</text>
<text x="297" y="105.2" font-size="6.6" text-anchor="end">850</text>
<text x="297" y="110.3" font-size="6.6" text-anchor="end">1000</text>
<text x="310.67" y="120.5" font-size="7" text-anchor="middle">30°E</text>
<text x="333.08" y="120.5" font-size="7" text-anchor="middle">60°E</text>
<text x="355.48" y="120.5" font-size="7" text-anchor="middle">90°E</text>
<text x="377.89" y="120.5" font-size="7" text-anchor="middle">120°E</text>
<text x="400.3" y="120.5" font-size="7" text-anchor="middle">150°E</text>
<path d="M303.2,35h-2M303.2,47.73h-2M303.2,56.76h-2M303.2,63.77h-2M303.2,69.5h-2M303.2,78.53h-2M303.2,85.54h-2M303.2,96.1h-2M303.2,102.2h-2M303.2,107.3h-2M310.67,107.3v2.6M333.08,107.3v2.6M355.48,107.3v2.6M377.89,107.3v2.6M400.3,107.3v2.6" stroke="#222" stroke-width="0.8" fill="none"/>
<text x="302.7" y="31" font-size="6.7">(i) Phase 1</text>
<clipPath id="cp9"><rect x="303.2" y="135.6" width="97.1" height="72.3"/></clipPath>
<g clip-path="url(#cp9)">
<path d="M312.52,134.15C316.08,132.11 330.32,132.11 333.88,134.15C337.44,136.2 333.88,140.7 333.88,146.44C333.88,152.19 335.76,164.91 333.88,168.64C332.01,172.38 326.18,168.86 322.62,168.86C319.06,168.86 314.2,172.38 312.52,168.64C310.84,164.91 312.52,152.19 312.52,146.44C312.52,140.7 308.96,136.2 312.52,134.15Z" fill="#fedcc0"/>
<path d="M320.68,141.17C322.38,140.48 324.93,140.42 326.8,142.11C328.66,143.79 330.84,148.06 331.84,151.29C332.85,154.52 333.33,159.1 332.82,161.48C332.3,163.87 331.6,164.92 328.74,165.6C325.87,166.29 318.15,167.3 315.63,165.6C313.1,163.91 313.43,158.64 313.59,155.41C313.75,152.18 315.42,148.6 316.6,146.23C317.78,143.85 318.98,141.85 320.68,141.17Z" fill="#fca884"/>
<path d="M319.71,147.24C321.73,145.71 325.92,146.55 327.77,148.25C329.61,149.95 330.61,154.89 330.78,157.43C330.94,159.98 330.94,162.5 328.74,163.51C326.54,164.52 319.76,164.52 317.57,163.51C315.39,162.5 315.27,160.15 315.63,157.43C315.98,154.72 317.68,148.77 319.71,147.24Z" fill="#fd6242"/>
<path d="M317.57,152.37C319.27,151.35 324.76,150.45 326.8,151.29C328.83,152.13 329.64,155.57 329.81,157.43C329.97,159.3 329.81,161.65 327.77,162.5C325.73,163.34 319.43,163.34 317.57,162.5C315.71,161.65 316.6,159.12 316.6,157.43C316.6,155.75 315.87,153.4 317.57,152.37Z" fill="#ff0606"/>
<ellipse cx="322.23" cy="156.93" rx="2.04" ry="1.01" fill="#c8082c"/>
<path d="M309.51,171.03C310.71,167.32 312.96,168.62 315.63,168.13C318.3,167.65 323.01,166.33 325.53,168.13C328.06,169.94 329.9,175.27 330.78,178.98C331.65,182.69 331.12,185.82 330.78,190.4C330.44,194.98 332.28,203.78 328.74,206.45C325.19,209.13 312.89,209.13 309.51,206.45C306.13,203.78 308.44,196.31 308.44,190.4C308.44,184.5 308.31,174.74 309.51,171.03Z" fill="#b6d8ff"/>
<path d="M313.59,173.05C315.97,170.85 324.27,169.15 326.8,172.04C329.32,174.93 328.58,184.79 328.74,190.4C328.9,196.02 330.47,203.18 327.77,205.73C325.06,208.29 315.06,209.14 312.52,205.73C309.98,202.32 312.34,190.72 312.52,185.27C312.7,179.82 311.21,175.26 313.59,173.05Z" fill="#7ea8ff"/>
<path d="M317.57,193.44C318.75,192.58 320.29,193.25 321.65,194.45C323.01,195.66 325.21,198.55 325.73,200.67C326.25,202.79 326.78,206.09 324.76,207.18C322.73,208.26 315.29,208.44 313.59,207.18C311.89,205.91 313.9,201.88 314.56,199.59C315.22,197.3 316.39,194.3 317.57,193.44Z" fill="#3e62fa"/>
<path d="M338.93,134.15C342.36,131.5 355.76,132.71 359.52,134.15C363.27,135.6 360.33,139.58 361.46,142.83C362.59,146.08 365.18,150.06 366.31,153.67C367.45,157.29 369.07,162.53 368.26,164.52C367.45,166.51 366.01,165.42 361.46,165.6C356.91,165.79 344.73,168.2 340.97,165.6C337.22,163.01 339.27,155.3 338.93,150.06C338.59,144.82 335.5,136.81 338.93,134.15Z" fill="#b6d8ff"/>
<path d="M341.07,134.15C344,131.5 354.18,132.71 357.58,134.15C360.97,135.6 360.17,139.58 361.46,142.83C362.75,146.08 364.62,150.06 365.34,153.67C366.07,157.29 369.89,162.71 365.83,164.52C361.77,166.33 345.28,166.93 340.97,164.52C336.67,162.11 339.98,155.12 340,150.06C340.02,145 338.14,136.81 341.07,134.15Z" fill="#7ea8ff"/>
<path d="M341.07,141.38C343.01,139.82 349,140.18 351.75,140.66C354.5,141.14 355.96,142.11 357.58,144.28C359.19,146.44 360.81,150.42 361.46,153.67C362.11,156.93 364.7,162.11 361.46,163.8C358.22,165.48 345.6,166.09 342.04,163.8C338.48,161.51 340.26,153.8 340.1,150.06C339.94,146.32 339.13,142.95 341.07,141.38Z" fill="#3e62fa"/>
<path d="M345.92,150.06C347.54,149.1 351.43,148.86 353.69,150.06C355.96,151.26 358.71,155 359.52,157.29C360.33,159.58 360.81,162.71 358.55,163.8C356.28,164.88 348.35,165.12 345.92,163.8C343.5,162.47 343.98,158.13 343.98,155.84C343.98,153.55 344.31,151.02 345.92,150.06Z" fill="#0000ff"/>
<ellipse cx="350.78" cy="158.01" rx="4.86" ry="3.62" fill="#2612dc"/>
<path d="M374.67,134.15C377.55,131.5 388.55,131.5 391.95,134.15C395.35,136.81 394.04,144.31 395.06,150.06C396.08,155.81 396.87,164.42 398.07,168.64C399.26,172.86 401.55,173.64 402.24,175.37C402.94,177.09 404.12,180.1 402.24,178.98C400.36,177.86 395.4,171.73 390.98,168.64C386.56,165.56 378.45,163.57 375.73,160.47C373.01,157.37 374.84,154.45 374.67,150.06C374.49,145.67 371.78,136.81 374.67,134.15Z" fill="#fedcc0"/>
<ellipse cx="382.82" cy="155.41" rx="5.63" ry="3.54" fill="#fca884"/>
<path d="M368.65,162.5C370.56,161.98 375.88,167.1 378.74,168.64C381.61,170.18 383.79,170.63 385.83,171.75C387.87,172.87 389.62,172.26 390.98,175.37C392.34,178.47 393.65,184.74 393.99,190.4C394.33,196.07 397.24,206.19 393.02,209.35C388.79,212.5 372.89,212.5 368.65,209.35C364.41,206.19 367.8,196.67 367.58,190.4C367.35,184.14 367.11,176.4 367.29,171.75C367.46,167.1 366.74,163.01 368.65,162.5Z" fill="#b6d8ff"/>
<path d="M375.73,179.2C377.27,177.16 380.33,176.32 381.85,178.18C383.37,180.05 384.2,185.21 384.86,190.4C385.52,195.6 388.21,206.19 385.83,209.35C383.45,212.5 372.79,212.5 370.59,209.35C368.39,206.19 371.77,195.43 372.63,190.4C373.48,185.38 374.2,181.23 375.73,179.2Z" fill="#7ea8ff"/>
<path d="M375.73,195.61C376.75,194.57 378.47,193.61 379.81,194.45C381.16,195.3 383.13,198.19 383.79,200.67C384.46,203.15 385.65,207.9 383.79,209.35C381.93,210.79 374.31,210.79 372.63,209.35C370.94,207.9 373.18,202.96 373.69,200.67C374.21,198.38 374.71,196.65 375.73,195.61Z" fill="#3e62fa"/>
<path d="M332.33,169.58C335.57,162.71 345.92,168.13 351.75,168.13C357.58,168.13 364.37,167.77 367.29,169.58C370.2,171.39 369.23,174.4 369.23,178.98C369.23,183.56 368.58,191.99 367.29,197.06C365.99,202.12 367.29,207.3 361.46,209.35C355.63,211.39 337.19,215.97 332.33,209.35C327.47,202.72 329.09,176.45 332.33,169.58Z" fill="#fedcc0"/>
<path d="M334.27,170.3C337.19,163.56 346.49,168.86 351.75,168.86C357.01,168.86 363.24,168.62 365.83,170.3C368.42,171.99 367.37,174.52 367.29,178.98C367.21,183.44 366.48,191.99 365.34,197.06C364.21,202.12 365.67,207.3 360.49,209.35C355.31,211.39 338.64,215.85 334.27,209.35C329.9,202.84 331.36,177.05 334.27,170.3Z" fill="#fca884"/>
<path d="M336.21,171.75C338.8,165.12 347.06,169.58 351.75,169.58C356.44,169.58 362.11,170.18 364.37,171.75C366.64,173.32 365.51,174.76 365.34,178.98C365.18,183.2 364.37,191.99 363.4,197.06C362.43,202.12 364.05,207.3 359.52,209.35C354.99,211.39 340.1,215.61 336.21,209.35C332.33,203.08 333.62,178.38 336.21,171.75Z" fill="#fd6242"/>
<path d="M343.01,171.75C346.09,168.62 354.5,170.33 357.58,171.75C360.65,173.17 360.97,176.3 361.46,180.28C361.95,184.26 361.3,190.76 360.49,195.61C359.68,200.45 360.33,207.06 356.61,209.35C352.88,211.64 341.07,212.48 338.16,209.35C335.24,206.21 338.32,196.81 339.13,190.55C339.94,184.28 339.94,174.88 343.01,171.75Z" fill="#ff0606"/>
<path d="M346.89,183.32C348.84,181.27 353.85,182.11 355.63,183.32C357.41,184.52 357.58,187.66 357.58,190.55C357.58,193.44 356.61,197.54 355.63,200.67C354.66,203.8 354.02,207.9 351.75,209.35C349.48,210.79 343.33,211.64 342.04,209.35C340.75,207.06 343.17,199.95 343.98,195.61C344.79,191.27 344.95,185.37 346.89,183.32Z" fill="#c8082c"/>
<ellipse cx="344.95" cy="206.45" rx="4.86" ry="5.06" fill="#860838"/>
<path d="M306.4,134.88C306.52,141.02 306.91,160.78 307.08,171.75C307.26,182.72 307.93,194.89 307.47,200.67C307.02,206.45 305.24,205.25 304.37,206.45C303.49,207.66 302.59,207.66 302.23,207.9" fill="none" stroke="#111" stroke-width="1.3"/>
<path d="M315.63,157.43C315.94,155.71 317.47,152.64 318.64,151.29C319.8,149.94 321.26,149.16 322.62,149.34C323.98,149.52 325.78,150.86 326.8,152.37C327.81,153.89 328.79,156.78 328.74,158.45C328.69,160.11 327.69,161.7 326.5,162.35C325.32,163 323.27,162.47 321.65,162.35C320.03,162.23 317.8,162.45 316.79,161.63C315.79,160.81 315.32,159.16 315.63,157.43Z" fill="none" stroke="#111" stroke-width="1.3" stroke-dasharray="2.4,1.6"/>
<path d="M318.64,166.69C319.3,165.72 321.26,165.24 322.62,165.24C323.98,165.24 326.1,165.72 326.8,166.69C327.49,167.65 326.97,169.46 326.8,171.03C326.62,172.59 326.25,174.73 325.73,176.09C325.21,177.45 324.53,179.2 323.69,179.2C322.85,179.2 321.52,177.45 320.68,176.09C319.84,174.73 318.98,172.59 318.64,171.03C318.3,169.46 317.98,167.65 318.64,166.69Z" fill="none" stroke="#111" stroke-width="1.3" stroke-dasharray="2.4,1.6"/>
<path d="M313.59,165.6C311.97,166.33 312.91,167.23 312.91,168.13C312.91,169.04 313.31,169.35 313.59,171.03C313.86,172.7 313.9,175.29 314.56,178.18C315.22,181.08 316.39,185.16 317.57,188.38C318.75,191.6 320.11,195.11 321.65,197.49C323.19,199.86 325.44,202.96 326.8,202.62C328.15,202.28 329.14,198.36 329.81,195.46C330.47,192.57 330.61,189.51 330.78,185.27C330.94,181.03 330.94,173.29 330.78,170.01C330.61,166.74 331.16,166.64 329.81,165.6C328.45,164.57 325.32,163.8 322.62,163.8C319.92,163.8 315.21,164.88 313.59,165.6Z" fill="none" stroke="#111" stroke-width="1.3" stroke-dasharray="2.4,1.6"/>
<path d="M335.63,134.88C335.57,137.41 335.24,145.04 335.24,150.06C335.24,155.08 335.39,159.99 335.63,165.03C335.87,170.06 336.02,175.55 336.7,180.28C337.38,185.02 338.19,189.87 339.71,193.44C341.23,197.01 343.45,199.15 345.83,201.68C348.21,204.21 352.62,207.47 353.98,208.62" fill="none" stroke="#111" stroke-width="1.3"/>
<path d="M339.71,134.88C339.61,137.41 339.13,145.04 339.13,150.06C339.13,155.08 339.43,160.5 339.71,165.03C339.98,169.56 339.94,173.34 340.78,177.24C341.62,181.15 343.08,185.39 344.76,188.45C346.44,191.51 348.68,193.91 350.88,195.61C353.08,197.31 355.93,198.48 357.96,198.65C360,198.81 361.57,198.81 363.11,196.62C364.65,194.43 366.35,189.91 367.19,185.49C368.03,181.06 368.26,175.99 368.16,170.09C368.06,164.18 367.38,155.93 366.61,150.06C365.83,144.19 364.02,137.41 363.5,134.88" fill="none" stroke="#111" stroke-width="1.3"/>
<path d="M342.23,165.03C342.49,166.73 342.85,171.99 343.79,175.22C344.73,178.45 346.17,182.03 347.87,184.4C349.57,186.78 351.96,188.79 353.98,189.46C356.01,190.14 358.48,189.98 360,188.45C361.52,186.92 362.43,183.34 363.11,180.28C363.79,177.22 364.52,173.92 364.08,170.09C363.64,166.26 361.77,161.23 360.49,157.29C359.21,153.35 357.87,149.34 356.41,146.44C354.95,143.55 353.34,141.75 351.75,139.94C350.16,138.13 348.19,136.44 346.89,135.6C345.6,134.76 344.47,135 343.98,134.88" fill="none" stroke="#111" stroke-width="1.3"/>
<path d="M342.23,165.03C342.2,163.74 341.75,160.03 342.04,157.29C342.33,154.55 342.85,150.78 343.98,148.61C345.11,146.44 347.61,144.67 348.84,144.28C350.07,143.88 350.1,144.88 351.36,146.23C352.62,147.58 355.07,150 356.41,152.37C357.75,154.75 358.74,157.84 359.42,160.47C360.1,163.1 360.31,166.86 360.49,168.13" fill="none" stroke="#111" stroke-width="1.3"/>
<path d="M344.27,165.03C343.8,162.74 343.55,160.87 343.98,159.46C344.42,158.05 345.67,156.9 346.89,156.57C348.12,156.23 349.94,156.62 351.36,157.43C352.79,158.25 354.42,159.8 355.44,161.48C356.46,163.17 356.88,165.44 357.48,167.56C358.08,169.68 359.29,172.26 359.03,174.21C358.77,176.16 357.28,178.59 355.93,179.27C354.57,179.94 352.4,179.27 350.88,178.26C349.35,177.24 347.9,175.4 346.8,173.2C345.7,170.99 344.74,167.32 344.27,165.03Z" fill="none" stroke="#111" stroke-width="1.3"/>
<path d="M356.41,134.88C357.25,137.11 359.94,143.99 361.46,148.25C362.98,152.52 364.68,156.01 365.54,160.47C366.4,164.93 366.61,170.71 366.61,175C366.61,179.29 365.72,184.34 365.54,186.21" fill="none" stroke="#111" stroke-width="1.3"/>
<path d="M369.62,168.13C369.78,170.99 369.91,180.55 370.59,185.27C371.27,189.99 372.34,193.43 373.69,196.48C375.05,199.53 377.38,201.54 378.74,203.56C380.1,205.59 381.33,207.78 381.85,208.62" fill="none" stroke="#111" stroke-width="1.3"/>
<path d="M397.1,134.88C396.92,138.3 395.87,149.78 396.03,155.41C396.19,161.04 397.03,165.32 398.07,168.64C399.1,171.97 401.55,174.24 402.24,175.37" fill="none" stroke="#111" stroke-width="1.3"/>
</g>
<rect x="303.2" y="135.6" width="97.1" height="72.3" fill="none" stroke="#222" stroke-width="0.9"/>
<text x="297" y="138.6" font-size="6.6" text-anchor="end">100</text>
<text x="297" y="151.33" font-size="6.6" text-anchor="end">150</text>
<text x="297" y="160.36" font-size="6.6" text-anchor="end">200</text>
<text x="297" y="167.37" font-size="6.6" text-anchor="end">250</text>
<text x="297" y="173.1" font-size="6.6" text-anchor="end">300</text>
<text x="297" y="182.13" font-size="6.6" text-anchor="end">400</text>
<text x="297" y="189.14" font-size="6.6" text-anchor="end">500</text>
<text x="297" y="199.7" font-size="6.6" text-anchor="end">700</text>
<text x="297" y="205.8" font-size="6.6" text-anchor="end">850</text>
<text x="297" y="210.9" font-size="6.6" text-anchor="end">1000</text>
<text x="310.67" y="221.1" font-size="7" text-anchor="middle">30°E</text>
<text x="333.08" y="221.1" font-size="7" text-anchor="middle">60°E</text>
<text x="355.48" y="221.1" font-size="7" text-anchor="middle">90°E</text>
<text x="377.89" y="221.1" font-size="7" text-anchor="middle">120°E</text>
<text x="400.3" y="221.1" font-size="7" text-anchor="middle">150°E</text>
<path d="M303.2,135.6h-2M303.2,148.33h-2M303.2,157.36h-2M303.2,164.37h-2M303.2,170.1h-2M303.2,179.13h-2M303.2,186.14h-2M303.2,196.7h-2M303.2,202.8h-2M303.2,207.9h-2M310.67,207.9v2.6M333.08,207.9v2.6M355.48,207.9v2.6M377.89,207.9v2.6M400.3,207.9v2.6" stroke="#222" stroke-width="0.8" fill="none"/>
<text x="302.7" y="131.6" font-size="6.7">(j) Phase 2</text>
<clipPath id="cp10"><rect x="303.2" y="236.3" width="97.1" height="72.3"/></clipPath>
<g clip-path="url(#cp10)">
<path d="M304.95,234.85C305.63,230.28 308.02,232.81 309.03,234.85C310.03,236.9 310.73,242.69 310.97,247.15C311.21,251.6 311.49,259.07 310.48,261.61C309.48,264.14 305.87,266.79 304.95,262.33C304.03,257.87 304.27,239.43 304.95,234.85Z" fill="#b6d8ff"/>
<path d="M319.71,234.85C323.83,232.2 339.13,232.2 343.01,234.85C346.89,237.51 343.01,245.22 343.01,250.76C343.01,256.3 344.79,265.1 343.01,268.11C341.23,271.12 336.54,268.71 332.33,268.84C328.12,268.96 320.11,271.85 317.76,268.84C315.42,265.82 317.93,256.42 318.25,250.76C318.57,245.1 315.58,237.51 319.71,234.85Z" fill="#fedcc0"/>
<path d="M321.65,234.85C323.67,231.26 327.56,231.26 330.78,234.85C334,238.44 339.09,251.1 340.97,256.4C342.85,261.7 342.72,264.71 342.04,266.67C341.36,268.62 340.79,267.87 336.89,268.11C332.99,268.35 321.68,270.06 318.64,268.11C315.6,266.16 318.14,261.94 318.64,256.4C319.14,250.86 319.63,238.44 321.65,234.85Z" fill="#fca884"/>
<path d="M322.62,241.07C324.46,238.52 328.06,238.52 330.78,241.07C333.5,243.63 337.41,252.15 338.93,256.4C340.45,260.65 340.75,264.64 339.9,266.59C339.06,268.55 337.09,267.98 333.88,268.11C330.68,268.24 323.04,269.34 320.68,267.39C318.32,265.44 319.38,260.79 319.71,256.4C320.03,252.01 320.78,243.63 322.62,241.07Z" fill="#fd6242"/>
<path d="M323.59,248.23C325.45,246.69 329.45,245.78 331.84,247.15C334.24,248.51 336.78,253.51 337.96,256.4C339.14,259.29 339.79,262.79 338.93,264.5C338.08,266.21 335.7,266.43 332.82,266.67C329.93,266.91 323.67,267.65 321.65,265.94C319.63,264.23 320.35,259.35 320.68,256.4C321,253.45 321.73,249.77 323.59,248.23Z" fill="#ff0606"/>
<ellipse cx="329.81" cy="257.41" rx="5.63" ry="3.54" fill="#c8082c"/>
<path d="M311.55,271C313.65,268.11 318.35,269.56 322.62,269.56C326.89,269.56 334.6,268.11 337.19,271C339.77,273.9 338.16,280.4 338.16,286.91C338.16,293.42 341.62,306.19 337.19,310.05C332.75,313.9 316.08,313.9 311.55,310.05C307.02,306.19 310,293.42 310,286.91C310,280.4 309.45,273.9 311.55,271Z" fill="#b6d8ff"/>
<path d="M315.82,271.73C319.06,269.2 329.17,269.2 332.33,271.73C335.49,274.26 334.6,280.52 334.76,286.91C334.92,293.3 336.94,306.19 333.3,310.05C329.66,313.9 316.31,313.9 312.91,310.05C309.51,306.19 312.42,293.3 312.91,286.91C313.4,280.52 312.59,274.26 315.82,271.73Z" fill="#7ea8ff"/>
<path d="M318.44,273.9C321.03,272.09 327.99,273.9 330.39,276.06C332.78,278.23 332.49,281.25 332.82,286.91C333.14,292.57 335.49,306.19 332.33,310.05C329.17,313.9 316.79,313.9 313.88,310.05C310.97,306.19 314.09,292.94 314.85,286.91C315.61,280.89 315.86,275.7 318.44,273.9Z" fill="#3e62fa"/>
<path d="M322.62,284.02C324.24,281.73 326.83,280.88 328.45,282.57C330.06,284.26 331.68,289.56 332.33,294.14C332.98,298.72 334.92,307.39 332.33,310.05C329.74,312.7 319.06,312.34 316.79,310.05C314.53,307.76 317.76,300.65 318.74,296.31C319.71,291.97 321,286.31 322.62,284.02Z" fill="#0000ff"/>
<ellipse cx="324.08" cy="305.71" rx="4.37" ry="5.78" fill="#2612dc"/>
<path d="M348.25,234.85C352.15,232.12 366.74,232.12 371.66,234.85C376.58,237.59 375.07,246.83 377.77,251.27C380.48,255.7 385.85,257.33 387.87,261.46C389.89,265.59 389.05,274.47 389.91,276.06C390.77,277.66 393.02,269.32 393.02,271C393.02,272.69 390.09,282.45 389.91,286.19C389.73,289.92 390.77,291.54 391.95,293.42C393.13,295.3 396.16,295.42 397,297.47C397.84,299.51 399.36,304.33 397,305.71C394.64,307.08 384.68,307.76 382.82,305.71C380.96,303.66 385.33,296.67 385.83,293.42C386.33,290.16 387.01,289.08 385.83,286.19C384.65,283.3 380.43,278.99 378.74,276.06C377.06,273.14 380.3,269.86 375.73,268.62C371.17,267.38 355.94,271.51 351.36,268.62C346.78,265.73 348.77,256.89 348.25,251.27C347.74,245.64 344.35,237.59 348.25,234.85Z" fill="#b6d8ff"/>
<path d="M351.36,239.05C353.9,236.16 361.48,236.16 365.54,239.05C369.6,241.94 373.35,251.8 375.73,256.4C378.11,261 380.65,264.8 379.81,266.67C378.97,268.53 375.43,267.61 370.68,267.61C365.94,267.61 354.76,268.53 351.36,266.67C347.96,264.8 350.29,261 350.29,256.4C350.29,251.8 348.82,241.94 351.36,239.05Z" fill="#7ea8ff"/>
<path d="M354.37,246.21C356.05,244.34 358.24,243.49 361.46,245.19C364.68,246.89 371.32,253.18 373.69,256.4C376.07,259.62 377.09,262.98 375.73,264.5C374.37,266.02 369.44,265.51 365.54,265.51C361.64,265.51 354.7,266.02 352.33,264.5C349.97,262.98 351.02,259.45 351.36,256.4C351.7,253.35 352.69,248.07 354.37,246.21Z" fill="#3e62fa"/>
<path d="M353.4,252.21C355.42,250.92 360.29,249.29 363.5,250.25C366.7,251.22 371.11,255.62 372.63,257.99C374.15,260.36 373.81,263.29 372.63,264.5C371.45,265.7 368.92,265.56 365.54,265.22C362.16,264.88 354.7,263.68 352.33,262.47C349.97,261.27 351.18,259.7 351.36,257.99C351.54,256.28 351.38,253.5 353.4,252.21Z" fill="#0000ff"/>
<path d="M355.44,255.39C356.44,254.04 361.3,253.7 363.5,254.38C365.7,255.05 367.97,257.92 368.65,259.44C369.33,260.95 369.44,262.98 367.58,263.48C365.72,263.99 359.5,263.82 357.48,262.47C355.46,261.12 354.44,256.74 355.44,255.39Z" fill="#2612dc"/>
<path d="M337.96,271C340.26,264.26 346.22,269.8 351.75,269.56C357.28,269.32 367.12,268.47 371.17,269.56C375.22,270.64 375.26,269.32 376.02,276.06C376.79,282.81 382.08,304.38 375.73,310.05C369.39,315.71 344.26,316.55 337.96,310.05C331.67,303.54 335.66,277.75 337.96,271Z" fill="#fedcc0"/>
<path d="M340.1,272.45C342.12,265.82 346.89,270.52 351.75,270.28C356.61,270.04 365.67,269.44 369.23,271C372.79,272.57 372.46,273.17 373.11,279.68C373.76,286.19 378.7,304.99 373.11,310.05C367.53,315.11 345.11,316.31 339.61,310.05C334.11,303.78 338.08,279.08 340.1,272.45Z" fill="#fca884"/>
<path d="M341.07,273.9C342.85,267.39 347.54,271.25 351.75,271C355.96,270.76 363.24,271 366.31,272.45C369.39,273.9 369.55,273.41 370.2,279.68C370.85,285.95 375.05,304.99 370.2,310.05C365.34,315.11 345.92,316.07 341.07,310.05C336.21,304.02 339.29,280.4 341.07,273.9Z" fill="#fd6242"/>
<path d="M345.92,279.68C348.19,277.51 353.21,277.27 356.61,277.51C360,277.75 364.21,278.96 366.31,281.13C368.42,283.3 368.9,285.7 369.23,290.52C369.55,295.34 372.79,306.79 368.26,310.05C363.73,313.3 346.25,313.3 342.04,310.05C337.83,306.79 342.36,295.59 343.01,290.52C343.66,285.46 343.66,281.85 345.92,279.68Z" fill="#ff0606"/>
<path d="M347.87,286.91C349.81,285.34 354.82,284.14 357.58,284.74C360.33,285.34 363.24,286.31 364.37,290.52C365.51,294.74 367.45,306.79 364.37,310.05C361.3,313.3 349,312.7 345.92,310.05C342.85,307.39 345.6,298 345.92,294.14C346.25,290.28 345.92,288.48 347.87,286.91Z" fill="#c8082c"/>
<path d="M347.87,299.92C349.81,298.12 355.47,297.51 357.58,299.2C359.68,300.89 362.43,308.24 360.49,310.05C358.55,311.85 348.03,311.73 345.92,310.05C343.82,308.36 345.92,301.73 347.87,299.92Z" fill="#860838"/>
<path d="M305.43,240.64C305.77,243.26 306.97,250.49 307.47,256.4C307.97,262.3 308.1,269.41 308.44,276.06C308.78,282.72 308.99,291.37 309.51,296.31C310.03,301.25 311.05,303.54 311.55,305.71C312.05,307.88 312.36,308.72 312.52,309.32" fill="none" stroke="#111" stroke-width="1.3"/>
<path d="M319.71,235.58C319.35,238.19 318.17,246.08 317.57,251.27C316.97,256.45 316.44,263.38 316.11,266.67C315.79,269.96 315.39,267.75 315.63,271C315.87,274.26 316.57,281.97 317.57,286.19C318.57,290.4 320.13,293.42 321.65,296.31C323.17,299.2 325.34,301.82 326.7,303.54C328.06,305.26 329.03,305.68 329.81,306.65C330.58,307.61 331.1,308.88 331.36,309.32" fill="none" stroke="#111" stroke-width="1.3" stroke-dasharray="2.4,1.6"/>
<path d="M320.68,261.46C320.84,259.59 321.62,255.31 322.62,253.29C323.62,251.27 325.16,249.82 326.7,249.31C328.24,248.81 330.15,249.07 331.84,250.25C333.54,251.43 335.71,254.03 336.89,256.4C338.08,258.77 339.27,262.98 338.93,264.5C338.59,266.02 337.06,265.51 334.85,265.51C332.65,265.51 327.93,264.67 325.73,264.5C323.53,264.33 322.49,265 321.65,264.5C320.81,263.99 320.52,263.33 320.68,261.46Z" fill="none" stroke="#111" stroke-width="1.3" stroke-dasharray="2.4,1.6"/>
<path d="M321.65,266.67C322.62,265.82 325.44,265.94 327.47,265.94C329.51,265.94 332.82,265.82 333.88,266.67C334.95,267.51 334.22,269.26 333.88,271C333.54,272.75 332.7,275.46 331.84,277.15C330.99,278.84 329.95,281.13 328.74,281.13C327.52,281.13 325.74,278.84 324.56,277.15C323.38,275.46 322.13,272.75 321.65,271C321.16,269.26 320.68,267.51 321.65,266.67Z" fill="none" stroke="#111" stroke-width="1.3" stroke-dasharray="2.4,1.6"/>
<path d="M321.65,286.19C322.67,287.51 326.07,292.6 327.77,294.14C329.47,295.68 330.49,296.77 331.84,295.44C333.2,294.12 335.08,290.26 335.92,286.19C336.76,282.11 336.85,274.26 336.89,271C336.94,267.75 336,268.23 336.21,266.67C336.42,265.1 337.7,263.32 338.16,261.61C338.61,259.89 339.48,258.97 338.93,256.4C338.38,253.83 336.21,249.68 334.85,246.21C333.5,242.73 331.46,237.35 330.78,235.58" fill="none" stroke="#111" stroke-width="1.3" stroke-dasharray="2.4,1.6"/>
<path d="M316.11,271C316.55,272.21 317.81,275.7 318.74,278.23C319.66,280.76 321.16,284.86 321.65,286.19" fill="none" stroke="#111" stroke-width="1.3" stroke-dasharray="2.4,1.6"/>
<path d="M338.93,271C339.09,274.38 339.39,286.19 339.9,291.25C340.42,296.31 341.36,298.96 342.04,301.37C342.72,303.78 343.33,304.38 343.98,305.71C344.63,307.03 345.6,308.72 345.92,309.32" fill="none" stroke="#111" stroke-width="1.3" stroke-dasharray="2.4,1.6"/>
<path d="M343.01,235.58C343.01,241.72 342.64,264.86 343.01,272.45C343.38,280.04 344.37,277.99 345.24,281.13C346.12,284.26 346.56,288.19 348.25,291.25C349.95,294.31 352.9,297.44 355.44,299.49C357.98,301.54 361.14,302.5 363.5,303.54C365.86,304.58 368.01,304.74 369.62,305.71C371.22,306.67 372.53,308.72 373.11,309.32" fill="none" stroke="#111" stroke-width="1.3"/>
<path d="M349.32,235.58C348.98,238.19 347.7,246.33 347.28,251.27C346.86,256.21 346.8,261.93 346.8,265.22C346.8,268.51 346.86,268.35 347.28,271C347.7,273.66 347.96,278.08 349.32,281.13C350.68,284.17 353.08,287.13 355.44,289.3C357.8,291.46 361.14,293.81 363.5,294.14C365.86,294.47 367.92,293.42 369.62,291.25C371.32,289.08 372.85,284.5 373.69,281.13C374.54,277.75 374.67,274.86 374.67,271C374.67,267.15 374.92,262.33 373.69,257.99C372.46,253.65 369.49,248.71 367.29,244.98C365.09,241.24 361.62,237.14 360.49,235.58" fill="none" stroke="#111" stroke-width="1.3"/>
<path d="M369.62,235.58C370.12,238.19 371.45,246.45 372.63,251.27C373.81,256.09 375.69,260.36 376.7,264.5C377.72,268.63 378.4,271.61 378.74,276.06C379.08,280.52 378.57,287.03 378.74,291.25C378.92,295.47 379.39,298.36 379.81,301.37C380.23,304.38 381.03,308 381.27,309.32" fill="none" stroke="#111" stroke-width="1.3"/>
<path d="M351.36,271C351.02,268.05 350.68,264.23 351.36,261.46C352.04,258.69 353.92,255.92 355.44,254.38C356.96,252.83 358.63,251.87 360.49,252.21C362.35,252.54 364.92,254.35 366.61,256.4C368.29,258.45 369.92,262.06 370.59,264.5C371.25,266.93 370.75,268.9 370.59,271C370.43,273.11 370.46,275.1 369.62,277.15C368.77,279.2 367.4,282.11 365.54,283.3C363.68,284.48 360.47,284.92 358.45,284.23C356.43,283.55 354.58,281.38 353.4,279.17C352.22,276.97 351.7,273.96 351.36,271Z" fill="none" stroke="#111" stroke-width="1.3"/>
<ellipse cx="359.42" cy="268.62" rx="4.08" ry="5.57" fill="none" stroke="#111" stroke-width="1.3"/>
</g>
<rect x="303.2" y="236.3" width="97.1" height="72.3" fill="none" stroke="#222" stroke-width="0.9"/>
<text x="297" y="239.3" font-size="6.6" text-anchor="end">100</text>
<text x="297" y="252.03" font-size="6.6" text-anchor="end">150</text>
<text x="297" y="261.06" font-size="6.6" text-anchor="end">200</text>
<text x="297" y="268.07" font-size="6.6" text-anchor="end">250</text>
<text x="297" y="273.8" font-size="6.6" text-anchor="end">300</text>
<text x="297" y="282.83" font-size="6.6" text-anchor="end">400</text>
<text x="297" y="289.84" font-size="6.6" text-anchor="end">500</text>
<text x="297" y="300.4" font-size="6.6" text-anchor="end">700</text>
<text x="297" y="306.5" font-size="6.6" text-anchor="end">850</text>
<text x="297" y="311.6" font-size="6.6" text-anchor="end">1000</text>
<text x="310.67" y="321.8" font-size="7" text-anchor="middle">30°E</text>
<text x="333.08" y="321.8" font-size="7" text-anchor="middle">60°E</text>
<text x="355.48" y="321.8" font-size="7" text-anchor="middle">90°E</text>
<text x="377.89" y="321.8" font-size="7" text-anchor="middle">120°E</text>
<text x="400.3" y="321.8" font-size="7" text-anchor="middle">150°E</text>
<path d="M303.2,236.3h-2M303.2,249.03h-2M303.2,258.06h-2M303.2,265.07h-2M303.2,270.8h-2M303.2,279.83h-2M303.2,286.84h-2M303.2,297.4h-2M303.2,303.5h-2M303.2,308.6h-2M310.67,308.6v2.6M333.08,308.6v2.6M355.48,308.6v2.6M377.89,308.6v2.6M400.3,308.6v2.6" stroke="#222" stroke-width="0.8" fill="none"/>
<text x="302.7" y="232.3" font-size="6.7">(k) Phase 3</text>
<clipPath id="cp11"><rect x="303.2" y="337" width="97.1" height="72.3"/></clipPath>
<g clip-path="url(#cp11)">
<path d="M304.95,338.01C306.21,333.43 310.58,336.65 312.52,339.02C314.46,341.4 315.92,347.68 316.6,352.26C317.28,356.83 318.54,364.12 316.6,366.5C314.66,368.87 306.89,371.25 304.95,366.5C303.01,361.75 303.69,342.59 304.95,338.01Z" fill="#b6d8ff"/>
<path d="M303.2,347.19C304.25,344.15 307.78,344.99 309.51,346.18C311.24,347.38 312.75,351.64 313.59,354.35C314.43,357.06 316.29,360.76 314.56,362.45C312.83,364.14 305.09,367.02 303.2,364.47C301.31,361.93 302.15,350.24 303.2,347.19Z" fill="#7ea8ff"/>
<ellipse cx="308.44" cy="357.89" rx="5.63" ry="4.05" fill="#3e62fa"/>
<rect x="302.23" y="373.15" width="6.8" height="37.6" rx="1" fill="#fedcc0"/>
<path d="M324.56,335.55C329.26,332.9 347.22,332.9 351.75,335.55C356.28,338.2 351.91,346.16 351.75,351.46C351.59,356.76 355.31,364.71 350.78,367.37C346.25,370.02 329.09,370.02 324.56,367.37C320.03,364.71 323.59,356.76 323.59,351.46C323.59,346.16 319.87,338.2 324.56,335.55Z" fill="#fedcc0"/>
<path d="M325.53,335.55C328.77,332.77 340.1,332.77 343.98,335.55C347.87,338.34 347.87,347.27 348.84,352.26C349.81,357.24 350.62,362.97 349.81,365.49C349,368 347.87,367.05 343.98,367.37C340.1,367.68 329.74,369.88 326.5,367.37C323.27,364.85 324.72,357.56 324.56,352.26C324.4,346.95 322.3,338.34 325.53,335.55Z" fill="#fca884"/>
<path d="M328.74,342.06C330.94,339.84 335.55,339 338.74,341.05C341.93,343.1 346.18,350.45 347.87,354.35C349.55,358.26 349.81,362.43 348.84,364.47C347.87,366.52 345.6,366.4 342.04,366.64C338.48,366.88 330.23,367.97 327.47,365.92C324.72,363.87 325.32,358.33 325.53,354.35C325.74,350.38 326.54,344.28 328.74,342.06Z" fill="#fd6242"/>
<path d="M331.84,346.18C333.53,344.15 334.53,343.99 336.89,345.17C339.26,346.35 344.16,350.39 346.02,353.27C347.88,356.15 348.72,360.41 348.06,362.45C347.4,364.49 345.26,365.15 342.04,365.49C338.82,365.82 331.28,365.82 328.74,364.47C326.2,363.12 326.28,360.44 326.8,357.39C327.31,354.34 330.16,348.22 331.84,346.18Z" fill="#ff0606"/>
<ellipse cx="335.92" cy="356.38" rx="5.05" ry="3.54" fill="#c8082c"/>
<path d="M317.76,370.26C320.71,366.33 327.47,368.81 332.33,368.81C337.19,368.81 344.31,366.33 346.89,370.26C349.48,374.19 348.03,385.63 347.87,392.38C347.7,399.13 351.3,407.69 345.92,410.75C340.55,413.81 320.84,413.81 315.63,410.75C310.42,407.69 314.3,399.13 314.66,392.38C315.01,385.63 314.82,374.19 317.76,370.26Z" fill="#b6d8ff"/>
<path d="M318.44,371.7C321.03,368.21 328.07,370.26 332.33,370.26C336.59,370.26 341.72,368.02 343.98,371.7C346.25,375.39 345.92,385.87 345.92,392.38C345.92,398.89 348.71,407.69 343.98,410.75C339.26,413.81 322.1,414 317.57,410.75C313.04,407.49 316.65,397.73 316.79,391.23C316.94,384.72 315.86,375.2 318.44,371.7Z" fill="#7ea8ff"/>
<path d="M320.68,373.15C322.94,369.9 328.77,371.58 332.33,371.7C335.89,371.82 340.1,370.43 342.04,373.87C343.98,377.32 343.98,386.24 343.98,392.38C343.98,398.53 346.09,407.69 342.04,410.75C337.99,413.81 323.59,414 319.71,410.75C315.82,407.49 318.57,397.49 318.74,391.23C318.9,384.96 318.41,376.4 320.68,373.15Z" fill="#3e62fa"/>
<path d="M326.5,376.04C329.09,373.99 335.24,373.39 338.16,375.32C341.07,377.25 343.17,381.71 343.98,387.61C344.79,393.51 346.57,406.89 343.01,410.75C339.45,414.6 326.02,414.6 322.62,410.75C319.22,406.89 321.97,393.39 322.62,387.61C323.27,381.83 323.91,378.09 326.5,376.04Z" fill="#0000ff"/>
<path d="M329.42,381.83C331.52,379.66 336.21,380.26 338.16,381.83C340.1,383.39 340.75,387.25 341.07,391.23C341.39,395.2 340.75,402.43 340.1,405.69C339.45,408.94 339.45,409.9 337.19,410.75C334.92,411.59 328.45,413.4 326.5,410.75C324.56,408.09 325.05,399.66 325.53,394.84C326.02,390.02 327.31,384 329.42,381.83Z" fill="#2612dc"/>
<path d="M357.48,335.55C360.02,332.77 367.77,333.28 371.66,335.55C375.54,337.83 377.56,345.58 380.78,349.22C384,352.86 387.4,354.68 390.98,357.39C394.55,360.1 400.36,362.62 402.24,365.49C404.12,368.35 404.98,373.23 402.24,374.6C399.51,375.96 389.57,374.5 385.83,373.66C382.09,372.81 384.38,370.55 379.81,369.53C375.25,368.52 362.35,370.46 358.45,367.58C354.55,364.7 356.57,357.59 356.41,352.26C356.25,346.92 354.94,338.34 357.48,335.55Z" fill="#b6d8ff"/>
<path d="M363.5,343.15C365.36,341.11 368.05,341.63 370.59,343.15C373.13,344.66 375.69,349.04 378.74,352.26C381.8,355.47 387.42,359.89 388.94,362.45C390.46,365 390.07,366.73 387.87,367.58C385.67,368.44 380.3,367.93 375.73,367.58C371.17,367.23 363.21,367.52 360.49,365.49C357.77,363.45 358.92,359.09 359.42,355.36C359.92,351.64 361.64,345.18 363.5,343.15Z" fill="#7ea8ff"/>
<path d="M361.46,352.26C363.84,350.89 370.64,350.05 373.69,351.24C376.75,352.44 379.13,357.04 379.81,359.41C380.49,361.79 380.65,364.64 377.77,365.49C374.89,366.33 365.59,365.49 362.53,364.47C359.47,363.46 359.6,361.45 359.42,359.41C359.24,357.38 359.08,353.62 361.46,352.26Z" fill="#3e62fa"/>
<ellipse cx="368.65" cy="359.41" rx="7.09" ry="3.54" fill="#0000ff"/>
<path d="M351.75,370.98C354.92,369.29 361.46,370.26 366.31,370.26C371.17,370.26 377.81,366.88 380.88,370.98C383.95,375.08 384.44,388.21 384.76,394.84C385.09,401.47 389.13,408.09 382.82,410.75C376.51,413.4 352.82,415.81 346.89,410.75C340.97,405.69 346.47,387.01 347.28,380.38C348.09,373.75 348.58,372.67 351.75,370.98Z" fill="#fedcc0"/>
<path d="M353.69,373.15C356.28,370.5 362.27,371.7 366.31,371.7C370.36,371.7 375.22,369.7 377.97,373.15C380.72,376.6 382.34,386.12 382.82,392.38C383.31,398.65 386.54,407.69 380.88,410.75C375.22,413.81 353.85,414.6 348.84,410.75C343.82,406.89 349.97,393.88 350.78,387.61C351.59,381.34 351.1,375.8 353.69,373.15Z" fill="#fca884"/>
<path d="M355.63,373.87C358.06,370.67 362.92,372.91 366.31,373.15C369.71,373.39 373.76,372.11 376.02,375.32C378.29,378.52 379.59,386.48 379.91,392.38C380.23,398.29 382.82,407.69 377.97,410.75C373.11,413.81 355.15,413.81 350.78,410.75C346.41,407.69 350.94,398.53 351.75,392.38C352.56,386.24 353.21,377.08 355.63,373.87Z" fill="#fd6242"/>
<path d="M361.46,380.16C363.98,378.13 368.21,378.13 370.59,380.16C372.97,382.2 374.88,387.28 375.73,392.38C376.59,397.48 379.8,407.69 375.73,410.75C371.67,413.81 354.74,413.81 351.36,410.75C347.98,407.69 353.76,397.48 355.44,392.38C357.12,387.28 358.94,382.2 361.46,380.16Z" fill="#ff0606"/>
<path d="M359.52,391.95C361.62,390.62 366.96,389.42 369.23,390.5C371.49,391.59 372.63,395.08 373.11,398.45C373.6,401.83 374.73,408.7 372.14,410.75C369.55,412.79 360.17,412.79 357.58,410.75C354.99,408.7 356.28,401.59 356.61,398.45C356.93,395.32 357.41,393.27 359.52,391.95Z" fill="#c8082c"/>
<path d="M302.23,351.46C302.68,351.59 303.73,351.6 304.95,352.26C306.16,352.91 308.25,353.67 309.51,355.36C310.77,357.06 311.84,358.85 312.52,362.45C313.2,366.05 313.41,371.15 313.59,376.98C313.77,382.81 313.43,392.5 313.59,397.44C313.75,402.38 314.22,404.53 314.56,406.62C314.9,408.72 315.45,409.46 315.63,410.02" fill="none" stroke="#111" stroke-width="1.3"/>
<path d="M302.23,399.9C302.59,400 303.15,399.7 304.37,400.48C305.58,401.26 308.31,403.01 309.51,404.6C310.71,406.19 311.21,409.12 311.55,410.02" fill="none" stroke="#111" stroke-width="1.3"/>
<path d="M318.64,336.28C318.82,339.8 319.37,351.44 319.71,357.39C320.05,363.34 320.19,367.02 320.68,371.99C321.16,376.97 321.44,382.5 322.62,387.25C323.8,392 325.89,397.25 327.77,400.48C329.64,403.71 332.36,405.6 333.88,406.62C335.4,407.65 335.53,407.48 336.89,406.62C338.25,405.77 340.68,403.87 342.04,401.49C343.4,399.12 344.73,397.13 345.05,392.38C345.37,387.63 343.3,377.14 343.98,373.01C344.66,368.87 348.61,370.19 349.13,367.58C349.65,364.98 348.27,360.79 347.09,357.39C345.91,353.99 343.56,350.71 342.04,347.19C340.52,343.68 338.64,338.1 337.96,336.28" fill="none" stroke="#111" stroke-width="1.3" stroke-dasharray="2.4,1.6"/>
<path d="M325.24,336.28C324.8,338.94 323.22,347.04 322.62,352.26C322.02,357.47 321.47,364.12 321.65,367.58C321.83,371.04 323.01,370.57 323.69,373.01C324.37,375.44 324.71,379.48 325.73,382.19C326.75,384.9 328.11,387.74 329.81,389.27C331.5,390.8 334.06,392.04 335.92,391.37C337.78,390.69 339.79,388.28 340.97,385.22C342.15,382.16 342.19,377.43 343.01,373.01C343.84,368.58 345.6,362.88 345.92,358.69C346.25,354.5 345.44,351.58 344.95,347.85C344.47,344.11 343.33,338.2 343.01,336.28" fill="none" stroke="#111" stroke-width="1.3" stroke-dasharray="2.4,1.6"/>
<path d="M326.8,357.39C327.14,355.35 328.28,351.76 329.81,350.23C331.33,348.7 333.88,347.87 335.92,348.21C337.96,348.54 340.18,350.22 342.04,352.26C343.9,354.29 346.77,358.39 347.09,360.43C347.41,362.46 346.18,363.8 343.98,364.47C341.78,365.15 336.59,364.81 333.88,364.47C331.18,364.14 328.95,363.63 327.77,362.45C326.58,361.27 326.46,359.43 326.8,357.39Z" fill="none" stroke="#111" stroke-width="1.3" stroke-dasharray="2.4,1.6"/>
<path d="M327.47,369.53C328.12,368.21 330.39,367.37 332.33,367.37C334.27,367.37 338.32,367.85 339.13,369.53C339.94,371.22 338.32,375.92 337.19,377.49C336.05,379.05 333.79,379.3 332.33,378.93C330.87,378.57 329.26,376.89 328.45,375.32C327.64,373.75 326.83,370.86 327.47,369.53Z" fill="none" stroke="#111" stroke-width="1.3" stroke-dasharray="2.4,1.6"/>
<path d="M350.1,376.98C349.94,378.69 349.1,384.68 349.13,387.25C349.16,389.82 349.79,390.51 350.29,392.38C350.8,394.25 351.15,396.42 352.14,398.45C353.13,400.49 355,403.24 356.22,404.6C357.43,405.96 358.55,405.72 359.42,406.62C360.29,407.53 361.12,409.46 361.46,410.02" fill="none" stroke="#111" stroke-width="1.3" stroke-dasharray="2.4,1.6"/>
<path d="M357.19,336.28C356.85,338.94 355.44,345.47 355.15,352.26C354.86,359.04 355.05,371.99 355.44,376.98C355.83,381.97 356.48,379.96 357.48,382.19C358.48,384.42 359.6,388.15 361.46,390.36C363.32,392.56 366.27,394.41 368.65,395.42C371.02,396.43 373.87,397.27 375.73,396.43C377.59,395.59 378.79,393.07 379.81,390.36C380.83,387.65 381.61,383.22 381.85,380.16C382.09,377.1 381.45,374.37 381.27,371.99C381.09,369.62 381.88,369.21 380.78,365.92C379.68,362.63 376.69,357.2 374.67,352.26C372.64,347.31 369.65,338.94 368.65,336.28" fill="none" stroke="#111" stroke-width="1.3"/>
<path d="M359.42,371.99C358.9,369.04 358.74,365.05 359.42,362.45C360.1,359.85 361.96,357.39 363.5,356.38C365.04,355.36 366.95,355.53 368.65,356.38C370.34,357.22 372.51,359.24 373.69,361.44C374.88,363.63 375.39,367.1 375.73,369.53C376.07,371.97 376.07,373.76 375.73,376.04C375.39,378.32 374.88,381.67 373.69,383.2C372.51,384.73 370.51,385.73 368.65,385.22C366.78,384.72 364.07,382.37 362.53,380.16C360.99,377.96 359.94,374.95 359.42,371.99Z" fill="none" stroke="#111" stroke-width="1.3"/>
</g>
<rect x="303.2" y="337" width="97.1" height="72.3" fill="none" stroke="#222" stroke-width="0.9"/>
<text x="297" y="340" font-size="6.6" text-anchor="end">100</text>
<text x="297" y="352.73" font-size="6.6" text-anchor="end">150</text>
<text x="297" y="361.76" font-size="6.6" text-anchor="end">200</text>
<text x="297" y="368.77" font-size="6.6" text-anchor="end">250</text>
<text x="297" y="374.5" font-size="6.6" text-anchor="end">300</text>
<text x="297" y="383.53" font-size="6.6" text-anchor="end">400</text>
<text x="297" y="390.54" font-size="6.6" text-anchor="end">500</text>
<text x="297" y="401.1" font-size="6.6" text-anchor="end">700</text>
<text x="297" y="407.2" font-size="6.6" text-anchor="end">850</text>
<text x="297" y="412.3" font-size="6.6" text-anchor="end">1000</text>
<text x="310.67" y="422.5" font-size="7" text-anchor="middle">30°E</text>
<text x="333.08" y="422.5" font-size="7" text-anchor="middle">60°E</text>
<text x="355.48" y="422.5" font-size="7" text-anchor="middle">90°E</text>
<text x="377.89" y="422.5" font-size="7" text-anchor="middle">120°E</text>
<text x="400.3" y="422.5" font-size="7" text-anchor="middle">150°E</text>
<path d="M303.2,337h-2M303.2,349.73h-2M303.2,358.76h-2M303.2,365.77h-2M303.2,371.5h-2M303.2,380.53h-2M303.2,387.54h-2M303.2,398.1h-2M303.2,404.2h-2M303.2,409.3h-2M310.67,409.3v2.6M333.08,409.3v2.6M355.48,409.3v2.6M377.89,409.3v2.6M400.3,409.3v2.6" stroke="#222" stroke-width="0.8" fill="none"/>
<text x="302.7" y="333" font-size="6.7">(l) Phase 4</text>
<clipPath id="cp12"><rect x="436.3" y="35" width="96.6" height="72.3"/></clipPath>
<g clip-path="url(#cp12)">
<path d="M437.85,33.55C440.87,28.4 452.8,30.77 456.01,33.55C459.21,36.34 456.89,45.1 457.07,50.26C457.25,55.41 460.27,62.12 457.07,64.5C453.87,66.87 441.05,69.66 437.85,64.5C434.64,59.34 434.82,38.71 437.85,33.55Z" fill="#b6d8ff"/>
<path d="M448.95,42.16C450.47,42.33 452.63,46.03 453.98,48.23C455.33,50.44 456.73,53.35 457.07,55.39C457.41,57.43 458.53,59.61 456.01,60.45C453.48,61.29 444.43,61.29 441.9,60.45C439.38,59.61 440.34,57.59 440.84,55.39C441.34,53.18 443.55,49.42 444.9,47.22C446.25,45.01 447.44,41.99 448.95,42.16Z" fill="#7ea8ff"/>
<ellipse cx="448.95" cy="56.4" rx="5.6" ry="3.54" fill="#3e62fa"/>
<path d="M438.81,79.18C439.75,76.79 442.24,76.07 443.93,76.07C445.62,76.07 447.86,76.79 448.95,79.18C450.05,81.56 450.24,85.45 450.5,90.38C450.76,95.31 452.53,105.69 450.5,108.75C448.47,111.81 440.36,111.81 438.33,108.75C436.3,105.69 438.25,95.31 438.33,90.38C438.41,85.45 437.88,81.56 438.81,79.18Z" fill="#fedcc0"/>
<path d="M464.12,33.55C469.8,30.77 491.33,32.11 497.16,33.55C502.99,35 498.93,38.98 499.09,42.23C499.25,45.48 498.93,49.18 498.12,53.08C497.32,56.97 499.77,63.5 494.26,65.58C488.75,67.67 470.29,68.14 465.09,65.58C459.89,63.03 463.22,55.59 463.06,50.26C462.9,44.92 458.44,36.34 464.12,33.55Z" fill="#fedcc0"/>
<path d="M469.14,33.55C471.88,30.77 478.32,30.77 481.7,33.55C485.08,36.34 487.98,45.77 489.43,50.26C490.88,54.74 491.36,58.05 490.4,60.45C489.43,62.85 487.5,64.14 483.63,64.64C479.77,65.15 470.27,65.88 467.21,63.49C464.15,61.09 464.96,55.24 465.28,50.26C465.6,45.27 466.41,36.34 469.14,33.55Z" fill="#fca884"/>
<path d="M470.11,41.15C472.12,39.63 476.23,39.11 479.29,41.15C482.35,43.18 486.85,49.98 488.46,53.36C490.07,56.75 490.07,59.77 488.95,61.46C487.82,63.15 485.16,63.32 481.7,63.49C478.24,63.65 470.59,64.68 468.18,62.47C465.76,60.27 466.89,53.81 467.21,50.26C467.53,46.7 468.1,42.66 470.11,41.15Z" fill="#fd6242"/>
<path d="M472.24,44.18C473.75,43.17 475.71,42.31 478.22,44.18C480.74,46.05 485.79,52.68 487.3,55.39C488.82,58.1 488.48,59.27 487.3,60.45C486.13,61.63 483.28,62.31 480.25,62.47C477.23,62.64 471,63.5 469.14,61.46C467.29,59.43 468.63,53.14 469.14,50.26C469.66,47.38 470.72,45.19 472.24,44.18Z" fill="#ff0606"/>
<ellipse cx="479.77" cy="56.69" rx="7.24" ry="4.34" fill="#c8082c"/>
<path d="M458.04,67.53C462.91,63.73 481.27,63.73 486.34,67.53C491.41,71.34 488.46,83.51 488.46,90.38C488.46,97.25 491.57,105.69 486.34,108.75C481.11,111.81 461.95,111.81 457.07,108.75C452.19,105.69 456.91,97.25 457.07,90.38C457.23,83.51 453.16,71.34 458.04,67.53Z" fill="#b6d8ff"/>
<path d="M459.48,69.7C463.83,66.26 480.09,66.26 484.6,69.7C489.11,73.15 486.53,83.87 486.53,90.38C486.53,96.89 489.27,105.69 484.6,108.75C479.93,111.81 462.87,111.81 458.52,108.75C454.17,105.69 458.36,96.89 458.52,90.38C458.68,83.87 455.14,73.15 459.48,69.7Z" fill="#7ea8ff"/>
<path d="M461.42,71.15C465.12,67.94 478.8,67.94 482.67,71.15C486.53,74.36 484.44,84.12 484.6,90.38C484.76,96.65 487.66,105.69 483.63,108.75C479.61,111.81 464.31,111.81 460.45,108.75C456.59,105.69 460.29,96.65 460.45,90.38C460.61,84.12 457.71,74.36 461.42,71.15Z" fill="#3e62fa"/>
<path d="M464.12,74.04C467.15,72.17 477.05,72.17 480.25,74.04C483.46,75.91 483.01,79.46 483.34,85.25C483.68,91.03 485.82,104.83 482.28,108.75C478.74,112.66 465.46,112.66 462.09,108.75C458.73,104.83 461.75,91.03 462.09,85.25C462.43,79.46 461.09,75.91 464.12,74.04Z" fill="#0000ff"/>
<path d="M468.18,78.38C470.67,76.57 477.19,77.17 479.77,78.38C482.35,79.58 483.15,82.6 483.63,85.61C484.12,88.62 483.31,92.6 482.67,96.45C482.02,100.31 482.67,106.7 479.77,108.75C476.87,110.79 467.78,112 465.28,108.75C462.78,105.49 464.31,94.29 464.8,89.22C465.28,84.16 465.68,80.19 468.18,78.38Z" fill="#2612dc"/>
<path d="M498.7,33.55C501.23,30.77 509.28,31.61 512.81,33.55C516.33,35.49 516.83,41.56 519.86,45.19C522.89,48.83 528.47,53.47 530.97,55.39C533.46,57.3 534.19,54.67 534.83,56.69C535.48,58.71 536.81,65.73 534.83,67.53C532.85,69.34 526.12,67.86 522.95,67.53C519.78,67.21 519.68,65.91 515.8,65.58C511.92,65.26 502.7,68.14 499.67,65.58C496.64,63.03 497.8,55.59 497.64,50.26C497.48,44.92 496.18,36.34 498.7,33.55Z" fill="#b6d8ff"/>
<path d="M503.73,45.19C505.06,43.33 506.4,42.99 508.75,44.18C511.1,45.38 515.8,49.81 517.83,52.35C519.86,54.89 520.92,57.41 520.92,59.44C520.92,61.46 520.54,63.82 517.83,64.5C515.13,65.17 507.54,65 504.69,63.49C501.84,61.97 500.89,58.44 500.73,55.39C500.57,52.34 502.39,47.06 503.73,45.19Z" fill="#7ea8ff"/>
<ellipse cx="508.75" cy="57.41" rx="8.11" ry="5.06" fill="#3e62fa"/>
<ellipse cx="507.78" cy="56.4" rx="5.02" ry="3.04" fill="#0000ff"/>
<path d="M492.62,68.26C496.5,65.43 507.75,64.57 512.81,68.26C517.86,71.95 520.92,83.63 522.95,90.38C524.98,97.13 530.37,105.69 524.98,108.75C519.59,111.81 496.5,112.66 490.59,108.75C484.68,104.83 489.19,92 489.53,85.25C489.86,78.5 488.74,71.09 492.62,68.26Z" fill="#fedcc0"/>
<path d="M494.26,71.15C496.84,68.86 503.76,68.67 507.78,71.87C511.81,75.08 516.32,84.24 518.41,90.38C520.5,96.53 524.69,105.69 520.34,108.75C516,111.81 497,112.6 492.33,108.75C487.66,104.89 492.01,91.88 492.33,85.61C492.65,79.34 491.68,73.44 494.26,71.15Z" fill="#fca884"/>
<path d="M499.09,76.21C501.02,73.97 504.24,74.57 506.82,76.93C509.39,79.3 512.94,85.08 514.55,90.38C516.16,95.68 519.86,105.69 516.48,108.75C513.1,111.81 497.8,111.81 494.26,108.75C490.72,105.69 494.42,95.8 495.23,90.38C496.03,84.96 497.16,78.45 499.09,76.21Z" fill="#fd6242"/>
<path d="M502.66,87.27C504.52,86.26 506.09,87.84 507.78,89.37C509.47,90.9 511.97,93.23 512.81,96.45C513.64,99.68 515.83,106.7 512.81,108.75C509.78,110.79 497.34,110.96 494.65,108.75C491.96,106.53 495.34,99.02 496.68,95.44C498.01,91.86 500.81,88.29 502.66,87.27Z" fill="#ff0606"/>
<ellipse cx="503.73" cy="97.47" rx="5.02" ry="5.06" fill="#c8082c"/>
<path d="M447.41,63.92C448.02,63.92 448.81,66.15 449.24,67.17C449.68,68.2 450.02,69.04 450.02,70.07C450.02,71.09 449.68,72.23 449.24,73.32C448.81,74.4 448.02,76.57 447.41,76.57C446.8,76.57 446.01,74.4 445.57,73.32C445.14,72.23 444.8,71.09 444.8,70.07C444.8,69.04 445.14,68.2 445.57,67.17C446.01,66.15 446.8,63.92 447.41,63.92Z" fill="none" stroke="#111" stroke-width="1.3"/>
<path d="M506.82,50.26C509.18,49.75 512.2,54.35 513.87,57.41C515.54,60.47 516.54,64.82 516.86,68.62C517.19,72.42 516.64,77.25 515.8,80.19C514.96,83.13 513.18,85.25 511.84,86.26C510.5,87.27 509.47,87.61 507.78,86.26C506.09,84.91 503.15,80.87 501.7,78.16C500.25,75.45 499.43,72.95 499.09,69.99C498.75,67.04 498.38,63.74 499.67,60.45C500.96,57.16 504.45,50.76 506.82,50.26Z" fill="none" stroke="#111" stroke-width="1.3"/>
<path d="M455.43,34.28C455.68,38.37 456.2,50.79 456.97,58.86C457.75,66.93 458.49,76.15 460.06,82.72C461.64,89.29 464.6,94.04 466.44,98.26C468.27,102.48 470.3,106.4 471.08,108.02" fill="none" stroke="#111" stroke-width="1.3" stroke-dasharray="2.4,1.6"/>
<path d="M463.25,34.28C462.99,37.05 461.96,44.19 461.71,50.91C461.45,57.62 461.19,67.97 461.71,74.55C462.22,81.13 463.24,85.89 464.8,90.38C466.36,94.88 468.74,99.14 471.08,101.52C473.41,103.89 476.44,104.87 478.8,104.62C481.17,104.38 483.68,102.44 485.28,100.07C486.87,97.7 487.59,94.64 488.37,90.38C489.14,86.13 490.06,80.16 489.91,74.55C489.77,68.93 488.38,61.47 487.5,56.69C486.61,51.91 485.76,49.58 484.6,45.84C483.44,42.11 481.22,36.2 480.54,34.28" fill="none" stroke="#111" stroke-width="1.3" stroke-dasharray="2.4,1.6"/>
<path d="M467.98,60.3C468.5,56.63 468.48,50.42 469.53,47.65C470.58,44.88 472.43,43.68 474.26,43.68C476.1,43.68 478.45,45.15 480.54,47.65C482.64,50.16 485.42,55.4 486.82,58.71C488.22,62.03 488.83,64.02 488.95,67.53C489.06,71.05 488.64,76.57 487.5,79.83C486.35,83.08 484.29,85.85 482.09,87.06C479.88,88.26 476.42,88.26 474.26,87.06C472.11,85.85 470.45,82.72 469.14,79.83C467.84,76.93 466.63,72.96 466.44,69.7C466.25,66.45 467.47,63.98 467.98,60.3Z" fill="none" stroke="#111" stroke-width="1.3" stroke-dasharray="2.4,1.6"/>
<path d="M471.08,55.53C471.59,54.21 474.99,52.35 477.36,52.35C479.72,52.35 483.44,54.21 485.28,55.53C487.11,56.86 488.9,59.24 488.37,60.3C487.84,61.37 484.44,61.9 482.09,61.9C479.74,61.9 476.1,61.37 474.26,60.3C472.43,59.24 470.56,56.86 471.08,55.53Z" fill="none" stroke="#111" stroke-width="1.3" stroke-dasharray="2.4,1.6"/>
<path d="M486.82,34.28C487.34,36.51 488.61,42.25 489.91,47.65C491.22,53.05 493.6,60.87 494.65,66.67C495.69,72.46 495.35,76.96 496.19,82.43C497.03,87.9 498.25,95.23 499.67,99.49C501.09,103.76 503.86,106.6 504.69,108.02" fill="none" stroke="#111" stroke-width="1.3" stroke-dasharray="2.4,1.6"/>
</g>
<rect x="436.3" y="35" width="96.6" height="72.3" fill="none" stroke="#222" stroke-width="0.9"/>
<text x="430.1" y="38" font-size="6.6" text-anchor="end">100</text>
<text x="430.1" y="50.73" font-size="6.6" text-anchor="end">150</text>
<text x="430.1" y="59.76" font-size="6.6" text-anchor="end">200</text>
<text x="430.1" y="66.77" font-size="6.6" text-anchor="end">250</text>
<text x="430.1" y="72.5" font-size="6.6" text-anchor="end">300</text>
<text x="430.1" y="81.53" font-size="6.6" text-anchor="end">400</text>
<text x="430.1" y="88.54" font-size="6.6" text-anchor="end">500</text>
<text x="430.1" y="99.1" font-size="6.6" text-anchor="end">700</text>
<text x="430.1" y="105.2" font-size="6.6" text-anchor="end">850</text>
<text x="430.1" y="110.3" font-size="6.6" text-anchor="end">1000</text>
<text x="443.73" y="120.5" font-size="7" text-anchor="middle">30°E</text>
<text x="466.02" y="120.5" font-size="7" text-anchor="middle">60°E</text>
<text x="488.32" y="120.5" font-size="7" text-anchor="middle">90°E</text>
<text x="510.61" y="120.5" font-size="7" text-anchor="middle">120°E</text>
<text x="532.9" y="120.5" font-size="7" text-anchor="middle">150°E</text>
<path d="M436.3,35h-2M436.3,47.73h-2M436.3,56.76h-2M436.3,63.77h-2M436.3,69.5h-2M436.3,78.53h-2M436.3,85.54h-2M436.3,96.1h-2M436.3,102.2h-2M436.3,107.3h-2M443.73,107.3v2.6M466.02,107.3v2.6M488.32,107.3v2.6M510.61,107.3v2.6M532.9,107.3v2.6" stroke="#222" stroke-width="0.8" fill="none"/>
<text x="435.8" y="31" font-size="6.7">(m) Phase 5</text>
<clipPath id="cp13"><rect x="436.3" y="135.6" width="96.6" height="72.3"/></clipPath>
<g clip-path="url(#cp13)">
<path d="M446.93,134.15C450.31,131.47 463.03,131.47 466.25,134.15C469.47,136.84 466.25,145.04 466.25,150.28C466.25,155.52 469.47,163.05 466.25,165.6C463.03,168.16 450.31,168.16 446.93,165.6C443.55,163.05 445.96,155.52 445.96,150.28C445.96,145.04 443.55,136.84 446.93,134.15Z" fill="#b6d8ff"/>
<path d="M450.98,140.15C453.19,138.29 458.6,136.88 461.13,139.07C463.65,141.26 465.49,149.41 466.15,153.31C466.81,157.22 467.95,160.97 465.09,162.5C462.22,164.03 451.82,164.53 448.95,162.5C446.09,160.46 447.55,154 447.89,150.28C448.23,146.55 448.78,142.02 450.98,140.15Z" fill="#7ea8ff"/>
<path d="M453.98,143.19C455.83,141.5 458.21,141.16 460.06,143.19C461.92,145.23 464.59,152.36 465.09,155.41C465.59,158.46 465.59,160.47 463.06,161.48C460.53,162.5 452.27,162.85 449.92,161.48C447.57,160.12 448.28,156.36 448.95,153.31C449.63,150.26 452.13,144.88 453.98,143.19Z" fill="#3e62fa"/>
<ellipse cx="456.01" cy="155.41" rx="6.57" ry="4.55" fill="#0000ff"/>
<path d="M441.9,174.64C444.19,168.5 451.72,172.71 455.62,172.47C459.52,172.23 463.67,167.05 465.28,173.2C466.89,179.34 469.18,203.32 465.28,209.35C461.38,215.37 445.8,215.13 441.9,209.35C438.01,203.56 439.62,180.79 441.9,174.64Z" fill="#fedcc0"/>
<path d="M445.96,175.08C448.65,172.52 458.28,170.81 461.13,175.08C463.98,179.34 463.24,194.96 463.06,200.67C462.88,206.38 462.91,207.9 460.06,209.35C457.21,210.79 448.47,212.5 445.96,209.35C443.45,206.19 444.99,196.12 444.99,190.4C444.99,184.69 443.27,177.63 445.96,175.08Z" fill="#fca884"/>
<path d="M450.98,192.43C452.34,191.74 454.65,193.61 456.01,195.46C457.36,197.32 459.1,201.25 459.1,203.56C459.1,205.88 458.03,208.38 456.01,209.35C453.98,210.31 448.28,210.97 446.93,209.35C445.57,207.72 447.22,202.41 447.89,199.59C448.57,196.77 449.63,193.11 450.98,192.43Z" fill="#fd6242"/>
<ellipse cx="451.76" cy="202.84" rx="1.45" ry="1.08" fill="#ff0606"/>
<path d="M473.2,134.15C477.19,128.91 492.25,131.5 497.16,134.15C502.07,136.81 501.54,144.82 502.66,150.06C503.79,155.3 508.83,163.01 503.92,165.6C499.01,168.2 478.32,170.85 473.2,165.6C468.08,160.36 469.21,139.4 473.2,134.15Z" fill="#fedcc0"/>
<path d="M474.94,134.15C477.84,129.09 488.21,131.5 492.33,134.15C496.45,136.81 498.28,145 499.67,150.06C501.05,155.12 504.76,162.11 500.64,164.52C496.51,166.93 479.22,169.58 474.94,164.52C470.66,159.46 472.04,139.22 474.94,134.15Z" fill="#fca884"/>
<path d="M476.87,141.38C478.64,139.94 483.07,139.05 486.53,141.38C489.99,143.72 495.63,151.89 497.64,155.41C499.65,158.93 501.97,161.31 498.61,162.5C495.24,163.68 481.24,164.57 477.45,162.5C473.67,160.42 476,153.58 475.91,150.06C475.81,146.54 475.1,142.83 476.87,141.38Z" fill="#fd6242"/>
<path d="M480.45,147.24C482.46,146.55 487,146.89 489.53,148.25C492.05,149.61 494.42,153.21 495.61,155.41C496.8,157.62 498.01,160.13 496.68,161.48C495.34,162.83 490.8,163.34 487.59,163.51C484.39,163.68 479.14,164.35 477.45,162.5C475.76,160.64 476.95,154.92 477.45,152.37C477.95,149.83 478.43,147.93 480.45,147.24Z" fill="#ff0606"/>
<ellipse cx="486.53" cy="156.42" rx="6.09" ry="3.04" fill="#c8082c"/>
<path d="M508.75,134.15C510.42,131.47 515.46,131.47 517.83,134.15C520.2,136.84 520.12,145.89 522.95,150.28C525.78,154.66 532.85,157.41 534.83,160.47C536.81,163.53 537.67,168.13 534.83,168.64C532,169.15 522,164.87 517.83,163.51C513.66,162.15 511.49,162.68 509.81,160.47C508.14,158.27 507.96,154.66 507.78,150.28C507.61,145.89 507.08,136.84 508.75,134.15Z" fill="#b6d8ff"/>
<ellipse cx="515.8" cy="156.42" rx="4.06" ry="2.53" fill="#7ea8ff"/>
<path d="M503.73,166.69C506.59,162.74 517.56,162.74 520.92,166.69C524.29,170.64 523.58,183.29 523.92,190.4C524.25,197.51 526.49,206.19 522.95,209.35C519.41,212.5 505.87,212.5 502.66,209.35C499.46,206.19 503.55,197.51 503.73,190.4C503.9,183.29 500.86,170.64 503.73,166.69Z" fill="#fedcc0"/>
<path d="M507.78,176.09C509.62,173.7 515.82,172.86 517.83,176.09C519.84,179.32 519.86,189.92 519.86,195.46C519.86,201.01 520.36,207.03 517.83,209.35C515.3,211.66 506.53,212.5 504.69,209.35C502.86,206.19 506.3,195.95 506.82,190.4C507.33,184.86 505.95,178.47 507.78,176.09Z" fill="#fca884"/>
<ellipse cx="511.84" cy="200.67" rx="3.57" ry="6.15" fill="#fd6242"/>
<path d="M466.25,169.58C469.47,166.57 479.29,168.13 484.6,168.13C489.91,168.13 495.87,165.87 498.12,169.58C500.38,173.29 498.45,183.78 498.12,190.4C497.8,197.03 501.67,206.19 496.19,209.35C490.72,212.5 470.43,213.2 465.28,209.35C460.13,205.49 465.12,192.84 465.28,186.21C465.44,179.58 463.03,172.59 466.25,169.58Z" fill="#b6d8ff"/>
<path d="M468.18,171.03C471.08,167.65 479.93,169.46 484.6,169.58C489.27,169.7 494.26,167.77 496.19,171.75C498.12,175.73 496.51,187.17 496.19,193.44C495.87,199.71 499.09,206.69 494.26,209.35C489.43,212 471.72,212.6 467.21,209.35C462.7,206.09 467.05,196.21 467.21,189.82C467.37,183.44 465.28,174.4 468.18,171.03Z" fill="#7ea8ff"/>
<path d="M470.11,173.2C472.85,170.06 480.58,170.79 484.6,171.03C488.62,171.27 492.65,170.3 494.26,174.64C495.87,178.98 494.58,191.27 494.26,197.06C493.94,202.84 496.67,207.3 492.33,209.35C487.98,211.39 472.2,212.6 468.18,209.35C464.15,206.09 467.86,195.85 468.18,189.82C468.5,183.8 467.37,176.33 470.11,173.2Z" fill="#3e62fa"/>
<path d="M472.04,175.37C474.62,172.59 481.22,172.83 484.6,173.2C487.98,173.56 491.04,173.56 492.33,177.53C493.62,181.51 492.65,191.75 492.33,197.06C492.01,202.36 494.26,207.3 490.4,209.35C486.53,211.39 472.69,212.6 469.14,209.35C465.6,206.09 468.66,195.49 469.14,189.82C469.63,184.16 469.47,178.14 472.04,175.37Z" fill="#0000ff"/>
<path d="M474.94,180.43C477.03,178.02 482.19,178.02 484.6,178.98C487.02,179.94 488.62,182.59 489.43,186.21C490.24,189.82 489.75,196.81 489.43,200.67C489.11,204.53 490.24,207.9 487.5,209.35C484.76,210.79 475.58,212 473.01,209.35C470.43,206.69 471.72,198.26 472.04,193.44C472.36,188.62 472.85,182.84 474.94,180.43Z" fill="#2612dc"/>
<path d="M436.78,134.88C436.88,135.93 437.02,138.6 437.36,141.17C437.7,143.73 438.39,144.64 438.81,150.28C439.23,155.92 439.62,167.47 439.87,175C440.13,182.53 439.86,190.19 440.36,195.46C440.86,200.74 442.34,204.48 442.87,206.67C443.4,208.86 443.43,208.3 443.55,208.62" fill="none" stroke="#111" stroke-width="1.3" stroke-dasharray="2.4,1.6"/>
<path d="M447.89,175C447.71,170.87 447.38,164.09 447.89,160.47C448.41,156.86 449.63,155.01 450.98,153.31C452.34,151.61 454.32,150.28 456.01,150.28C457.7,150.28 459.77,151.28 461.13,153.31C462.48,155.35 463.7,158.88 464.12,162.5C464.54,166.11 463.81,170.35 463.64,175C463.46,179.65 463.65,186.13 463.06,190.4C462.46,194.68 461.74,199.83 460.06,200.67C458.39,201.51 454.86,198.03 453.01,195.46C451.16,192.9 449.81,188.68 448.95,185.27C448.1,181.86 448.07,179.14 447.89,175Z" fill="none" stroke="#111" stroke-width="1.3"/>
<path d="M452.53,170.01C452.11,168.09 451.95,166.86 452.53,165.6C453.11,164.35 454.75,162.5 456.01,162.5C457.26,162.5 459.39,164.01 460.06,165.6C460.74,167.2 460.56,169.94 460.06,172.04C459.56,174.14 457.91,177.33 457.07,178.18C456.23,179.04 455.8,178.53 455.04,177.17C454.28,175.81 452.95,171.94 452.53,170.01Z" fill="none" stroke="#111" stroke-width="1.3"/>
<path d="M466.15,134.88C466.33,137.44 466.87,145.16 467.21,150.28C467.55,155.4 467.69,160.82 468.18,165.6C468.66,170.39 468.98,173.74 470.11,178.98C471.24,184.22 473.01,192.11 474.94,197.06C476.87,202 480.57,206.69 481.7,208.62" fill="none" stroke="#111" stroke-width="1.3" stroke-dasharray="2.4,1.6"/>
<path d="M472.24,134.88C472.06,137.41 471.17,144.94 471.17,150.06C471.17,155.18 471.74,160.78 472.24,165.6C472.73,170.42 472.91,174.34 474.17,178.98C475.42,183.62 477.71,190.43 479.77,193.44C481.83,196.45 484.6,197.06 486.53,197.06C488.46,197.06 489.75,195.85 491.36,193.44C492.97,191.03 494.97,186.21 496.19,182.59C497.42,178.98 498.46,175.44 498.7,171.75C498.95,168.06 498.66,164.39 497.64,160.47C496.63,156.55 493.97,152.52 492.62,148.25C491.27,143.99 490.04,137.11 489.53,134.88" fill="none" stroke="#111" stroke-width="1.3" stroke-dasharray="2.4,1.6"/>
<path d="M477.84,171.75C479.13,170.3 482.19,168.86 484.6,168.86C487.01,168.86 490.72,170.06 492.33,171.75C493.94,173.44 494.74,176.33 494.26,178.98C493.78,181.63 491.04,186.09 489.43,187.66C487.82,189.22 486.21,189.1 484.6,188.38C482.99,187.66 481.06,185.13 479.77,183.32C478.48,181.51 477.19,179.46 476.87,177.53C476.55,175.61 476.55,173.2 477.84,171.75Z" fill="none" stroke="#111" stroke-width="1.3" stroke-dasharray="2.4,1.6"/>
<path d="M496.68,134.88C497.01,137.44 497.87,145.51 498.7,150.28C499.54,155.05 501.04,159.39 501.7,163.51C502.36,167.63 502.5,171.38 502.66,175C502.83,178.63 501.97,181.35 502.66,185.27C503.36,189.19 505.29,195.09 506.82,198.5C508.35,201.91 510.71,204.04 511.84,205.73C512.97,207.42 513.29,208.14 513.58,208.62" fill="none" stroke="#111" stroke-width="1.3" stroke-dasharray="2.4,1.6"/>
<path d="M476.2,149.26C476.76,147.1 478.56,144.78 480.25,144.28C481.94,143.77 484.49,144.89 486.34,146.23C488.19,147.57 490.04,150.1 491.36,152.3C492.68,154.51 494.58,157.66 494.26,159.46C493.94,161.25 491.85,162.59 489.43,163.07C487.01,163.56 481.86,163.31 479.77,162.35C477.68,161.39 477.47,159.47 476.87,157.29C476.28,155.11 475.63,151.43 476.2,149.26Z" fill="none" stroke="#111" stroke-width="1.3" stroke-dasharray="2.4,1.6"/>
</g>
<rect x="436.3" y="135.6" width="96.6" height="72.3" fill="none" stroke="#222" stroke-width="0.9"/>
<text x="430.1" y="138.6" font-size="6.6" text-anchor="end">100</text>
<text x="430.1" y="151.33" font-size="6.6" text-anchor="end">150</text>
<text x="430.1" y="160.36" font-size="6.6" text-anchor="end">200</text>
<text x="430.1" y="167.37" font-size="6.6" text-anchor="end">250</text>
<text x="430.1" y="173.1" font-size="6.6" text-anchor="end">300</text>
<text x="430.1" y="182.13" font-size="6.6" text-anchor="end">400</text>
<text x="430.1" y="189.14" font-size="6.6" text-anchor="end">500</text>
<text x="430.1" y="199.7" font-size="6.6" text-anchor="end">700</text>
<text x="430.1" y="205.8" font-size="6.6" text-anchor="end">850</text>
<text x="430.1" y="210.9" font-size="6.6" text-anchor="end">1000</text>
<text x="443.73" y="221.1" font-size="7" text-anchor="middle">30°E</text>
<text x="466.02" y="221.1" font-size="7" text-anchor="middle">60°E</text>
<text x="488.32" y="221.1" font-size="7" text-anchor="middle">90°E</text>
<text x="510.61" y="221.1" font-size="7" text-anchor="middle">120°E</text>
<text x="532.9" y="221.1" font-size="7" text-anchor="middle">150°E</text>
<path d="M436.3,135.6h-2M436.3,148.33h-2M436.3,157.36h-2M436.3,164.37h-2M436.3,170.1h-2M436.3,179.13h-2M436.3,186.14h-2M436.3,196.7h-2M436.3,202.8h-2M436.3,207.9h-2M443.73,207.9v2.6M466.02,207.9v2.6M488.32,207.9v2.6M510.61,207.9v2.6M532.9,207.9v2.6" stroke="#222" stroke-width="0.8" fill="none"/>
<text x="435.8" y="131.6" font-size="6.7">(n) Phase 6</text>
<clipPath id="cp14"><rect x="436.3" y="236.3" width="96.6" height="72.3"/></clipPath>
<g clip-path="url(#cp14)">
<path d="M437.36,234.85C439.12,229.74 446.3,232.12 447.89,234.85C449.49,237.59 447.59,246.33 446.93,251.27C446.27,256.21 445.53,262.12 443.93,264.5C442.34,266.87 438.46,270.45 437.36,265.51C436.27,260.57 435.61,239.96 437.36,234.85Z" fill="#fedcc0"/>
<path d="M435.33,246.42C436.14,243.89 439.07,247.15 440.16,248.59C441.26,250.04 441.9,252.57 441.9,255.1C441.9,257.63 441.26,262.33 440.16,263.77C439.07,265.22 436.14,266.67 435.33,263.77C434.53,260.88 434.53,248.95 435.33,246.42Z" fill="#fca884"/>
<rect x="437.36" y="268.84" width="5.51" height="41.21" rx="1" fill="#b6d8ff"/>
<path d="M451.95,234.85C456.14,232.2 471.91,232.2 475.91,234.85C479.9,237.51 475.99,245.34 475.91,250.76C475.83,256.18 479.45,264.62 475.42,267.39C471.4,270.16 455.86,270.16 451.76,267.39C447.65,264.62 450.76,256.18 450.79,250.76C450.82,245.34 447.76,237.51 451.95,234.85Z" fill="#b6d8ff"/>
<path d="M453.98,234.85C456.67,232.12 465.94,232.12 469.14,234.85C472.35,237.59 472.53,246.66 473.2,251.27C473.88,255.87 476.07,260.44 473.2,262.47C470.34,264.51 459.37,265.35 456.01,263.48C452.64,261.62 453.35,256.04 453.01,251.27C452.67,246.49 451.29,237.59 453.98,234.85Z" fill="#7ea8ff"/>
<path d="M456.01,242.08C458.03,240.04 463.54,239.43 466.25,241.36C468.95,243.29 471.24,250.04 472.24,253.65C473.23,257.27 474.94,261.36 472.24,263.05C469.53,264.74 459.03,265.34 456.01,263.77C452.98,262.21 454.07,257.27 454.07,253.65C454.07,250.04 453.98,244.13 456.01,242.08Z" fill="#3e62fa"/>
<path d="M457.07,247.15C458.41,245.45 460.88,245 463.06,246.21C465.23,247.41 468.76,251.66 470.11,254.38C471.46,257.09 473.35,260.95 471.17,262.47C469,263.99 459.76,264.5 457.07,263.48C454.38,262.47 455.04,259.12 455.04,256.4C455.04,253.68 455.73,248.84 457.07,247.15Z" fill="#0000ff"/>
<ellipse cx="463.06" cy="256.4" rx="6.09" ry="4.05" fill="#2612dc"/>
<path d="M445.96,268.84C448.38,261.73 455.62,267.51 460.45,267.39C465.28,267.27 472.52,261 474.94,268.11C477.36,275.22 479.77,303.06 474.94,310.05C470.11,317.03 450.79,316.91 445.96,310.05C441.13,303.18 443.55,275.94 445.96,268.84Z" fill="#fedcc0"/>
<path d="M448.86,270.28C451.11,266.06 457.07,268.84 460.45,268.84C463.83,268.84 467.37,266.06 469.14,270.28C470.92,274.5 471.24,287.51 471.08,294.14C470.92,300.77 472.2,307.39 468.18,310.05C464.15,312.7 450.47,312.7 446.93,310.05C443.38,307.39 446.6,300.77 446.93,294.14C447.25,287.51 446.6,274.5 448.86,270.28Z" fill="#fca884"/>
<path d="M450.79,273.9C454.01,270.52 465.12,270.16 468.18,273.9C471.24,277.63 469.47,290.28 469.14,296.31C468.82,302.33 469.79,307.76 466.25,310.05C462.7,312.34 450.79,312.7 447.89,310.05C444.99,307.39 448.38,300.16 448.86,294.14C449.34,288.12 447.57,277.27 450.79,273.9Z" fill="#fd6242"/>
<path d="M453.01,279.17C455.72,276.32 463.8,277.16 466.15,279.17C468.5,281.19 467.29,286.1 467.12,291.25C466.94,296.39 468.11,306.91 465.09,310.05C462.06,313.18 451.48,312.34 448.95,310.05C446.43,307.76 449.24,301.45 449.92,296.31C450.6,291.16 450.31,282.03 453.01,279.17Z" fill="#ff0606"/>
<path d="M455.04,296.31C456.71,294.38 461.54,296.19 463.06,298.48C464.57,300.77 465.8,308.12 464.12,310.05C462.45,311.97 454.53,312.34 453.01,310.05C451.5,307.76 453.37,298.24 455.04,296.31Z" fill="#c8082c"/>
<path d="M480.45,234.85C484.15,232.12 497.79,231.72 502.66,234.85C507.54,237.99 507.09,247.51 509.72,253.65C512.34,259.8 515.83,265.82 518.41,271.73C520.99,277.63 523.4,282.69 525.17,289.08C526.94,295.47 531.29,306.55 529.04,310.05C526.78,313.54 514.55,313.54 511.65,310.05C508.75,306.55 512.29,295.47 511.65,289.08C511,282.69 508.75,275.22 507.78,271.73C506.82,268.23 509.89,268.96 505.85,268.11C501.81,267.27 487.77,269.47 483.54,266.67C479.3,263.86 480.96,256.57 480.45,251.27C479.93,245.96 476.74,237.59 480.45,234.85Z" fill="#fedcc0"/>
<path d="M483.54,234.85C485.57,232.12 490.78,231.26 494.65,234.85C498.51,238.44 504.19,251.46 506.72,256.4C509.25,261.34 510.31,262.79 509.81,264.5C509.31,266.21 507.95,266.5 503.73,266.67C499.51,266.83 488.05,268.08 484.5,265.51C480.96,262.94 482.64,256.38 482.47,251.27C482.31,246.16 481.51,237.59 483.54,234.85Z" fill="#fca884"/>
<path d="M488.56,244.18C490.25,242.31 492.12,241.47 494.65,243.17C497.17,244.87 501.7,250.99 503.73,254.38C505.76,257.76 507.32,261.63 506.82,263.48C506.32,265.34 504.27,265.34 500.73,265.51C497.19,265.68 488.27,266.35 485.57,264.5C482.86,262.64 484,257.76 484.5,254.38C485,250.99 486.87,246.05 488.56,244.18Z" fill="#fd6242"/>
<path d="M489.62,251.27C491.64,250.24 495.13,249.4 497.64,250.25C500.15,251.11 503.34,254.36 504.69,256.4C506.05,258.44 506.93,260.95 505.76,262.47C504.58,263.99 500.84,265.51 497.64,265.51C494.44,265.51 488.54,263.99 486.53,262.47C484.52,260.95 485.05,258.27 485.57,256.4C486.08,254.53 487.61,252.29 489.62,251.27Z" fill="#ff0606"/>
<ellipse cx="494.65" cy="258.42" rx="6.09" ry="3.54" fill="#c8082c"/>
<path d="M476.87,271C479.93,268.11 488.79,269.32 494.26,269.56C499.73,269.8 506.98,268.35 509.72,272.45C512.45,276.55 510.84,287.87 510.68,294.14C510.52,300.41 514.55,307.39 508.75,310.05C502.95,312.7 481.38,313.9 475.91,310.05C470.43,306.19 475.75,293.42 475.91,286.91C476.07,280.4 473.81,273.9 476.87,271Z" fill="#b6d8ff"/>
<path d="M478.8,272.45C481.7,269.2 489.43,270.76 494.26,271C499.09,271.25 505.53,269.44 507.78,273.9C510.04,278.35 508.11,291.73 507.78,297.75C507.46,303.78 511,308 505.85,310.05C500.7,312.09 481.7,313.3 476.87,310.05C472.04,306.79 476.55,296.79 476.87,290.52C477.19,284.26 475.91,275.7 478.8,272.45Z" fill="#7ea8ff"/>
<path d="M480.74,273.9C483.47,270.88 490.07,272.21 494.26,272.45C498.45,272.69 503.92,271.12 505.85,275.34C507.78,279.56 506.17,291.97 505.85,297.75C505.53,303.54 508.59,308 503.92,310.05C499.25,312.09 482.19,313.3 477.84,310.05C473.49,306.79 477.36,296.55 477.84,290.52C478.32,284.5 478,276.91 480.74,273.9Z" fill="#3e62fa"/>
<path d="M482.67,276.06C485.24,273.29 490.72,273.78 494.26,273.9C497.8,274.02 502.31,272.81 503.92,276.79C505.53,280.76 504.24,292.21 503.92,297.75C503.6,303.3 506.17,308 501.99,310.05C497.8,312.09 482.67,313.3 478.8,310.05C474.94,306.79 478.16,296.19 478.8,290.52C479.45,284.86 480.09,278.84 482.67,276.06Z" fill="#0000ff"/>
<path d="M484.6,282.57C486.85,280.4 491.68,280.16 494.26,281.13C496.84,282.09 499.09,284.98 500.06,288.36C501.02,291.73 500.54,297.75 500.06,301.37C499.57,304.99 500.22,308.6 497.16,310.05C494.1,311.49 484.44,312.7 481.7,310.05C478.96,307.39 480.25,298.72 480.74,294.14C481.22,289.56 482.35,284.74 484.6,282.57Z" fill="#2612dc"/>
<path d="M451.95,235.58C451.61,238.19 450.26,245.36 449.92,251.27C449.58,257.17 449.74,266.03 449.92,271C450.1,275.98 450.13,277.27 450.98,281.13C451.84,284.98 453.35,290.4 455.04,294.14C456.73,297.88 459.45,301.01 461.13,303.54C462.8,306.07 464.43,308.36 465.09,309.32" fill="none" stroke="#111" stroke-width="1.3"/>
<path d="M453.98,276.06C453.82,273.63 452.67,265.59 453.01,261.46C453.35,257.33 454.65,253.65 456.01,251.27C457.36,248.88 459.44,247.31 461.13,247.15C462.82,246.98 464.65,248.21 466.15,250.25C467.65,252.3 469.27,255.13 470.11,259.44C470.95,263.74 471,272.45 471.17,276.06C471.35,279.68 471.51,278.6 471.17,281.13C470.83,283.66 470.16,288.86 469.14,291.25C468.13,293.63 466.76,295.59 465.09,295.44C463.41,295.3 460.77,292.77 459.1,290.38C457.42,287.99 456.05,284.36 455.04,281.13C454.03,277.9 453.35,272.69 453.01,271" fill="none" stroke="#111" stroke-width="1.3"/>
<path d="M456.01,264.5C456.52,262.4 458.08,259.6 459.1,258.42C460.11,257.24 460.92,257.07 462.09,257.41C463.27,257.75 465.14,258.42 466.15,260.45C467.16,262.47 467.84,267.8 468.18,269.56C468.52,271.32 468.36,269.23 468.18,271C468,272.78 467.97,278.14 467.12,280.19C466.26,282.23 464.39,283.46 463.06,283.3C461.72,283.13 460.27,281.22 459.1,279.17C457.92,277.13 456.52,273.45 456.01,271C455.49,268.56 455.49,266.59 456.01,264.5Z" fill="none" stroke="#111" stroke-width="1.3"/>
<path d="M465.09,235.58C465.92,237.69 468.76,243.92 470.11,248.23C471.46,252.54 472.53,256.82 473.2,261.46C473.88,266.1 474.01,271.1 474.17,276.06C474.33,281.03 473.83,286.83 474.17,291.25C474.51,295.67 475.34,299.59 476.2,302.6C477.05,305.61 478.77,308.2 479.29,309.32" fill="none" stroke="#111" stroke-width="1.3"/>
<path d="M435.33,243.53C435.75,243.81 436.93,243.9 437.85,245.19C438.76,246.48 440,248.55 440.84,251.27C441.68,253.98 442.53,257.33 442.87,261.46C443.21,265.59 442.69,270.26 442.87,276.06C443.05,281.87 443.42,291.37 443.93,296.31C444.45,301.25 445.46,303.54 445.96,305.71C446.46,307.88 446.76,308.72 446.93,309.32" fill="none" stroke="#111" stroke-width="1.3" stroke-dasharray="2.4,1.6"/>
<path d="M476.2,235.58C476.37,239.05 476.92,249.65 477.26,256.4C477.6,263.15 478.03,273.63 478.22,276.06C478.42,278.5 478.05,269.32 478.42,271C478.79,272.69 479.09,282.11 480.45,286.19C481.8,290.26 484.34,293.75 486.53,295.44C488.72,297.13 491.56,296.65 493.58,296.31C495.61,295.97 497.19,295.1 498.7,293.42C500.22,291.73 501.67,289.08 502.66,286.19C503.66,283.3 504.18,278.6 504.69,276.06C505.21,273.53 505.24,273.94 505.76,271C506.27,268.06 508.12,262.56 507.78,258.42C507.45,254.29 504.74,250.01 503.73,246.21C502.71,242.4 502.04,237.35 501.7,235.58" fill="none" stroke="#111" stroke-width="1.3" stroke-dasharray="2.4,1.6"/>
<path d="M483.34,235.58C483.01,238.19 481.83,246.08 481.32,251.27C480.8,256.45 480.25,262.53 480.25,266.67C480.25,270.8 480.61,273.65 481.32,276.06C482.02,278.48 483.46,279.8 484.5,281.13C485.55,282.45 486.08,283.17 487.59,284.02C489.11,284.86 491.73,286.67 493.58,286.19C495.44,285.71 497.51,283.66 498.7,281.13C499.89,278.6 499.22,273.61 500.73,271C502.25,268.4 506.27,264.67 507.78,265.51C509.3,266.35 509.31,271.78 509.81,276.06C510.31,280.35 510.44,285.7 510.78,291.25C511.12,296.79 511.66,306.31 511.84,309.32" fill="none" stroke="#111" stroke-width="1.3" stroke-dasharray="2.4,1.6"/>
<path d="M484.5,259.44C484.68,257.74 486.24,254.48 487.59,253.29C488.95,252.1 490.61,251.93 492.62,252.28C494.63,252.63 497.82,254.03 499.67,255.39C501.52,256.75 503.39,258.93 503.73,260.45C504.06,261.97 503.55,263.82 501.7,264.5C499.85,265.17 495.15,264.67 492.62,264.5C490.09,264.33 487.88,264.33 486.53,263.48C485.18,262.64 484.33,261.14 484.5,259.44Z" fill="none" stroke="#111" stroke-width="1.3" stroke-dasharray="2.4,1.6"/>
<path d="M493.58,235.58C494.26,237.69 496.13,244.42 497.64,248.23C499.15,252.04 500.97,255.54 502.66,258.42C504.35,261.3 506.93,264.33 507.78,265.51" fill="none" stroke="#111" stroke-width="1.3" stroke-dasharray="2.4,1.6"/>
</g>
<rect x="436.3" y="236.3" width="96.6" height="72.3" fill="none" stroke="#222" stroke-width="0.9"/>
<text x="430.1" y="239.3" font-size="6.6" text-anchor="end">100</text>
<text x="430.1" y="252.03" font-size="6.6" text-anchor="end">150</text>
<text x="430.1" y="261.06" font-size="6.6" text-anchor="end">200</text>
<text x="430.1" y="268.07" font-size="6.6" text-anchor="end">250</text>
<text x="430.1" y="273.8" font-size="6.6" text-anchor="end">300</text>
<text x="430.1" y="282.83" font-size="6.6" text-anchor="end">400</text>
<text x="430.1" y="289.84" font-size="6.6" text-anchor="end">500</text>
<text x="430.1" y="300.4" font-size="6.6" text-anchor="end">700</text>
<text x="430.1" y="306.5" font-size="6.6" text-anchor="end">850</text>
<text x="430.1" y="311.6" font-size="6.6" text-anchor="end">1000</text>
<text x="443.73" y="321.8" font-size="7" text-anchor="middle">30°E</text>
<text x="466.02" y="321.8" font-size="7" text-anchor="middle">60°E</text>
<text x="488.32" y="321.8" font-size="7" text-anchor="middle">90°E</text>
<text x="510.61" y="321.8" font-size="7" text-anchor="middle">120°E</text>
<text x="532.9" y="321.8" font-size="7" text-anchor="middle">150°E</text>
<path d="M436.3,236.3h-2M436.3,249.03h-2M436.3,258.06h-2M436.3,265.07h-2M436.3,270.8h-2M436.3,279.83h-2M436.3,286.84h-2M436.3,297.4h-2M436.3,303.5h-2M436.3,308.6h-2M443.73,308.6v2.6M466.02,308.6v2.6M488.32,308.6v2.6M510.61,308.6v2.6M532.9,308.6v2.6" stroke="#222" stroke-width="0.8" fill="none"/>
<text x="435.8" y="232.3" font-size="6.7">(o) Phase 7</text>
<clipPath id="cp15"><rect x="436.3" y="337" width="96.6" height="72.3"/></clipPath>
<g clip-path="url(#cp15)">
<path d="M437.36,335.55C439.46,330.4 447.83,332.9 449.92,335.55C452.01,338.2 449.92,347 449.92,351.46C449.92,355.92 450.58,359.97 449.92,362.31C449.26,364.64 448.05,364.79 445.96,365.49C443.87,366.19 438.8,371.49 437.36,366.5C435.93,361.51 435.27,340.71 437.36,335.55Z" fill="#fedcc0"/>
<path d="M439.87,343.15C441.15,341.96 442.42,343.13 443.93,345.17C445.44,347.21 448.29,352.65 448.95,355.36C449.61,358.08 450,360.26 447.89,361.44C445.78,362.62 438.23,363.98 436.3,362.45C434.37,360.92 435.7,355.47 436.3,352.26C436.9,349.04 438.6,344.33 439.87,343.15Z" fill="#fca884"/>
<path d="M436.3,356.38C437.23,355.53 440.63,355.87 441.9,356.38C443.17,356.88 443.93,358.57 443.93,359.41C443.93,360.26 443.17,361.1 441.9,361.44C440.63,361.77 437.23,362.28 436.3,361.44C435.37,360.59 435.37,357.22 436.3,356.38Z" fill="#fd6242"/>
<path d="M438.23,378.21C439.2,377.85 441.29,375.85 442.1,378.21C442.9,380.57 443.06,386.96 443.06,392.38C443.06,397.8 443.22,407.69 442.1,410.75C440.97,413.81 437.27,415.81 436.3,410.75C435.33,405.69 435.98,385.8 436.3,380.38C436.62,374.96 437.27,378.57 438.23,378.21Z" fill="#b6d8ff"/>
<path d="M456.01,335.55C460.03,332.9 474.68,332.9 478.8,335.55C482.93,338.2 480.25,346.28 480.74,351.46C481.22,356.64 485.89,364.11 481.7,366.64C477.52,369.17 460.13,369.17 455.62,366.64C451.11,364.11 454.59,356.64 454.65,351.46C454.72,346.28 451.98,338.2 456.01,335.55Z" fill="#b6d8ff"/>
<path d="M459.1,335.55C461.79,332.77 470.98,332.77 474.17,335.55C477.35,338.34 477.55,347.6 478.22,352.26C478.9,356.91 481.25,361.43 478.22,363.46C475.2,365.5 463.43,366.34 460.06,364.47C456.7,362.61 458.2,357.08 458.04,352.26C457.87,347.44 456.41,338.34 459.1,335.55Z" fill="#7ea8ff"/>
<path d="M462.09,345.17C463.94,343.3 468.82,341.62 471.17,343.15C473.52,344.68 475.36,351.13 476.2,354.35C477.03,357.57 478.71,360.93 476.2,362.45C473.68,363.97 463.81,364.81 461.13,363.46C458.44,362.11 459.9,357.4 460.06,354.35C460.22,351.3 460.24,347.04 462.09,345.17Z" fill="#3e62fa"/>
<path d="M463.06,349.22C464.56,347.69 468.08,347.18 470.11,348.21C472.14,349.23 474.22,352.99 475.23,355.36C476.24,357.74 478.39,361.1 476.2,362.45C474.01,363.8 464.6,364.31 462.09,363.46C459.58,362.62 460.97,359.76 461.13,357.39C461.29,355.01 461.56,350.75 463.06,349.22Z" fill="#0000ff"/>
<ellipse cx="468.18" cy="356.38" rx="5.02" ry="3.04" fill="#2612dc"/>
<path d="M449.92,370.98C452.34,364.11 459.98,369.53 465.28,369.53C470.58,369.53 478.97,366.76 481.7,370.98C484.44,375.2 481.86,388.21 481.7,394.84C481.54,401.47 485.89,408.09 480.74,410.75C475.58,413.4 455.93,417.37 450.79,410.75C445.65,404.12 447.51,377.85 449.92,370.98Z" fill="#fedcc0"/>
<path d="M451.76,372.43C453.85,365.8 460.77,370.98 465.28,370.98C469.79,370.98 476.31,368.45 478.8,372.43C481.3,376.4 480.25,388.45 480.25,394.84C480.25,401.23 483.39,408.09 478.8,410.75C474.22,413.4 457.23,417.13 452.72,410.75C448.21,404.36 449.66,379.05 451.76,372.43Z" fill="#fca884"/>
<path d="M454.65,373.15C456.59,366.76 461.74,372.31 465.28,372.43C468.82,372.55 473.81,370.55 475.91,373.87C478,377.2 477.68,386.24 477.84,392.38C478,398.53 480.9,407.69 476.87,410.75C472.85,413.81 457.39,417.01 453.69,410.75C449.99,404.48 452.72,379.54 454.65,373.15Z" fill="#fd6242"/>
<path d="M459.1,376.04C461.8,373.49 469.39,374.33 472.24,377.05C475.08,379.78 475.7,386.77 476.2,392.38C476.69,398 478.76,407.69 475.23,410.75C471.7,413.81 458.24,413.81 455.04,410.75C451.84,407.69 455.33,398.17 456.01,392.38C456.68,386.6 456.39,378.6 459.1,376.04Z" fill="#ff0606"/>
<path d="M459.1,392.38C460.95,391.2 466.79,391.71 469.14,393.39C471.49,395.08 472.86,399.61 473.2,402.5C473.54,405.4 473.86,409.37 471.17,410.75C468.48,412.12 459.26,412.46 457.07,410.75C454.88,409.03 457.7,403.54 458.04,400.48C458.37,397.42 457.25,393.56 459.1,392.38Z" fill="#c8082c"/>
<path d="M490.59,335.55C493.45,332.77 501.22,331.91 505.76,335.55C510.3,339.19 514.11,351.12 517.83,357.39C521.55,363.65 525.24,369.32 528.07,373.15C530.9,376.98 533.71,377.01 534.83,380.38C535.96,383.75 535.96,391.95 534.83,393.39C533.71,394.84 530.32,391.22 528.07,389.06C525.82,386.89 522.68,382.39 521.31,380.38C519.94,378.37 521.44,379.11 519.86,376.98C518.28,374.85 516.88,369.15 511.84,367.58C506.8,366.02 493.5,370.14 489.62,367.58C485.74,365.03 488.4,357.59 488.56,352.26C488.72,346.92 487.72,338.34 490.59,335.55Z" fill="#fedcc0"/>
<path d="M493.58,345.17C495.27,342.8 498.49,341.11 501.7,343.15C504.9,345.18 510.46,353.83 512.81,357.39C515.16,360.94 516.48,362.77 515.8,364.47C515.13,366.17 512.61,367.25 508.75,367.58C504.89,367.92 495.48,368.2 492.62,366.5C489.75,364.8 491.39,360.94 491.56,357.39C491.72,353.83 491.89,347.54 493.58,345.17Z" fill="#fca884"/>
<path d="M494.65,352.26C496.5,351.06 500.86,349.38 503.73,350.23C506.59,351.09 510.33,355.01 511.84,357.39C513.35,359.76 513.82,362.93 512.81,364.47C511.79,366.02 509.12,366.64 505.76,366.64C502.39,366.64 494.81,366.02 492.62,364.47C490.43,362.93 492.28,359.43 492.62,357.39C492.96,355.35 492.79,353.45 494.65,352.26Z" fill="#fd6242"/>
<path d="M495.61,355.36C497.3,354.69 501.2,353.68 503.73,354.35C506.25,355.03 509.6,357.73 510.78,359.41C511.95,361.1 512.13,363.46 510.78,364.47C509.43,365.49 505.53,365.65 502.66,365.49C499.8,365.32 495.1,364.64 493.58,363.46C492.07,362.28 493.25,359.75 493.58,358.4C493.92,357.05 493.92,356.04 495.61,355.36Z" fill="#ff0606"/>
<ellipse cx="503.73" cy="359.41" rx="5.02" ry="2.53" fill="#c8082c"/>
<path d="M483.54,369.53C485.66,365.61 489.72,368.69 494.26,368.81C498.8,368.93 507.19,367.19 510.78,370.26C514.37,373.33 515.13,380.5 515.8,387.25C516.48,394 520.39,406.83 514.84,410.75C509.28,414.66 488.03,413.81 482.47,410.75C476.92,407.69 481.33,399.25 481.51,392.38C481.69,385.51 481.41,373.46 483.54,369.53Z" fill="#b6d8ff"/>
<path d="M485.57,371.7C487.34,368.02 490.56,370.02 494.26,370.26C497.96,370.5 504.89,370.32 507.78,373.15C510.68,375.98 511,380.98 511.65,387.25C512.29,393.51 516.32,406.83 511.65,410.75C506.98,414.66 488.3,413.81 483.63,410.75C478.97,407.69 483.31,398.89 483.63,392.38C483.96,385.87 483.8,375.39 485.57,371.7Z" fill="#7ea8ff"/>
<path d="M486.53,373.87C489.75,370.91 500.06,372.37 503.92,374.6C507.78,376.83 508.75,381.22 509.72,387.25C510.68,393.27 513.9,406.83 509.72,410.75C505.53,414.66 488.79,413.81 484.6,410.75C480.41,407.69 484.28,398.53 484.6,392.38C484.92,386.24 483.31,376.84 486.53,373.87Z" fill="#3e62fa"/>
<path d="M487.59,378.07C490.46,375.68 500.36,375.68 503.73,378.07C507.09,380.45 507.11,386.94 507.78,392.38C508.46,397.83 511.49,407.69 507.78,410.75C504.08,413.81 489.11,413.81 485.57,410.75C482.02,407.69 486.19,397.83 486.53,392.38C486.87,386.94 484.73,380.45 487.59,378.07Z" fill="#0000ff"/>
<path d="M490.59,390.29C493.12,389.44 501.2,390.35 503.73,392.38C506.25,394.42 505.76,399.44 505.76,402.5C505.76,405.56 506.75,409.37 503.73,410.75C500.7,412.12 490.12,412.96 487.59,410.75C485.07,408.53 488.06,400.85 488.56,397.44C489.06,394.03 488.06,391.13 490.59,390.29Z" fill="#2612dc"/>
<path d="M453.01,336.28C452.93,339.8 452.53,350.6 452.53,357.39C452.53,364.17 452.77,372.01 453.01,376.98C453.25,381.96 452.96,383.33 453.98,387.25C454.99,391.16 457.07,397.08 459.1,400.48C461.13,403.88 464.48,406.05 466.15,407.64C467.82,409.23 468.64,409.63 469.14,410.02" fill="none" stroke="#111" stroke-width="1.3"/>
<path d="M459.1,336.28C458.76,338.94 457.58,347.04 457.07,352.26C456.55,357.47 456.09,363.46 456.01,367.58C455.93,371.7 456.25,374.21 456.59,376.98C456.92,379.75 456.96,381.14 458.04,384.21C459.11,387.28 461.05,392.54 463.06,395.42C465.07,398.3 467.92,400.65 470.11,401.49C472.3,402.34 474.67,402 476.2,400.48C477.73,398.96 478.61,396.3 479.29,392.38C479.96,388.47 480.09,381.97 480.25,376.98C480.41,371.99 480.93,367.41 480.25,362.45C479.58,357.48 477.89,351.56 476.2,347.19C474.51,342.83 471.12,338.1 470.11,336.28" fill="none" stroke="#111" stroke-width="1.3"/>
<path d="M460.06,371.99C459.89,369.04 459.39,365.57 460.06,362.45C460.74,359.33 462.61,355.3 464.12,353.27C465.63,351.23 467.47,350.05 469.14,350.23C470.82,350.41 472.81,352.15 474.17,354.35C475.52,356.56 476.92,359.51 477.26,363.46C477.6,367.41 476.71,373.93 476.2,378.07C475.68,382.2 475.18,386.04 474.17,388.26C473.15,390.48 471.62,391.37 470.11,391.37C468.6,391.37 466.58,390.13 465.09,388.26C463.59,386.39 461.96,382.87 461.13,380.16C460.29,377.45 460.24,374.95 460.06,371.99Z" fill="none" stroke="#111" stroke-width="1.3"/>
<path d="M464.12,365.49C464.93,363.73 466.83,361.77 468.18,361.44C469.53,361.1 471.24,362.11 472.24,363.46C473.23,364.81 474.04,367.2 474.17,369.53C474.3,371.87 473.85,375.68 473.01,377.49C472.17,379.3 470.43,380.38 469.14,380.38C467.86,380.38 466.25,378.89 465.28,377.49C464.31,376.09 463.54,373.99 463.35,371.99C463.15,369.99 463.32,367.25 464.12,365.49Z" fill="none" stroke="#111" stroke-width="1.3"/>
<path d="M477.45,334.83C477.68,336.04 478.16,339.16 478.8,342.06C479.45,344.97 480.67,346.44 481.32,352.26C481.96,358.08 482.3,370.29 482.67,376.98C483.04,383.67 483.05,388.47 483.54,392.38C484.02,396.3 484.39,398.11 485.57,400.48C486.74,402.85 489.25,405.03 490.59,406.62C491.93,408.22 493.08,409.46 493.58,410.02" fill="none" stroke="#111" stroke-width="1.3"/>
<path d="M435.33,351.46C436.09,351.94 438.44,353.03 439.87,354.35C441.31,355.68 442.92,357.21 443.93,359.41C444.95,361.62 445.62,365.49 445.96,367.58C446.3,369.68 446.14,368.72 445.96,371.99C445.78,375.27 445.57,383.34 444.9,387.25C444.22,391.15 443.08,393.55 441.9,395.42C440.73,397.29 438.94,397.83 437.85,398.45C436.75,399.08 435.75,399.06 435.33,399.18" fill="none" stroke="#111" stroke-width="1.3" stroke-dasharray="2.4,1.6"/>
<path d="M490.59,336.28C490.09,338.94 488.19,347.04 487.59,352.26C487,357.47 486.85,363.46 487.01,367.58C487.18,371.7 487.96,374.21 488.56,376.98C489.16,379.75 489.41,381.48 490.59,384.21C491.76,386.95 493.42,391.19 495.61,393.39C497.8,395.6 501.54,396.94 503.73,397.44C505.92,397.95 507.4,397.27 508.75,396.43C510.1,395.59 510.99,394.76 511.84,392.38C512.69,390.01 513.53,384.75 513.87,382.19C514.21,379.62 514.05,379.6 513.87,376.98C513.69,374.37 513.66,369.76 512.81,366.5C511.95,363.23 510.26,360.44 508.75,357.39C507.24,354.34 505.4,351.73 503.73,348.21C502.05,344.69 499.54,338.27 498.7,336.28" fill="none" stroke="#111" stroke-width="1.3" stroke-dasharray="2.4,1.6"/>
<path d="M491.56,371.99C491.04,368.7 490.7,363.03 491.56,360.43C492.41,357.82 494.82,356.88 496.68,356.38C498.53,355.87 500.81,356.55 502.66,357.39C504.52,358.23 506.43,359.74 507.78,361.44C509.14,363.14 510.62,364.99 510.78,367.58C510.94,370.17 509.25,375.23 508.75,376.98C508.25,378.73 508.46,376.86 507.78,378.07C507.11,379.27 505.87,383.02 504.69,384.21C503.52,385.4 502.41,385.9 500.73,385.22C499.06,384.55 496.18,382.37 494.65,380.16C493.12,377.96 492.07,375.28 491.56,371.99Z" fill="none" stroke="#111" stroke-width="1.3" stroke-dasharray="2.4,1.6"/>
</g>
<rect x="436.3" y="337" width="96.6" height="72.3" fill="none" stroke="#222" stroke-width="0.9"/>
<text x="430.1" y="340" font-size="6.6" text-anchor="end">100</text>
<text x="430.1" y="352.73" font-size="6.6" text-anchor="end">150</text>
<text x="430.1" y="361.76" font-size="6.6" text-anchor="end">200</text>
<text x="430.1" y="368.77" font-size="6.6" text-anchor="end">250</text>
<text x="430.1" y="374.5" font-size="6.6" text-anchor="end">300</text>
<text x="430.1" y="383.53" font-size="6.6" text-anchor="end">400</text>
<text x="430.1" y="390.54" font-size="6.6" text-anchor="end">500</text>
<text x="430.1" y="401.1" font-size="6.6" text-anchor="end">700</text>
<text x="430.1" y="407.2" font-size="6.6" text-anchor="end">850</text>
<text x="430.1" y="412.3" font-size="6.6" text-anchor="end">1000</text>
<text x="443.73" y="422.5" font-size="7" text-anchor="middle">30°E</text>
<text x="466.02" y="422.5" font-size="7" text-anchor="middle">60°E</text>
<text x="488.32" y="422.5" font-size="7" text-anchor="middle">90°E</text>
<text x="510.61" y="422.5" font-size="7" text-anchor="middle">120°E</text>
<text x="532.9" y="422.5" font-size="7" text-anchor="middle">150°E</text>
<path d="M436.3,337h-2M436.3,349.73h-2M436.3,358.76h-2M436.3,365.77h-2M436.3,371.5h-2M436.3,380.53h-2M436.3,387.54h-2M436.3,398.1h-2M436.3,404.2h-2M436.3,409.3h-2M443.73,409.3v2.6M466.02,409.3v2.6M488.32,409.3v2.6M510.61,409.3v2.6M532.9,409.3v2.6" stroke="#222" stroke-width="0.8" fill="none"/>
<text x="435.8" y="333" font-size="6.7">(p) Phase 8</text>
<rect x="162" y="435.7" width="18.15" height="10.2" fill="#300a96" stroke="#111" stroke-width="0.8"/>
<rect x="180.15" y="435.7" width="18.15" height="10.2" fill="#2612dc" stroke="#111" stroke-width="0.8"/>
<rect x="198.31" y="435.7" width="18.15" height="10.2" fill="#0000ff" stroke="#111" stroke-width="0.8"/>
<rect x="216.46" y="435.7" width="18.15" height="10.2" fill="#3e62fa" stroke="#111" stroke-width="0.8"/>
<rect x="234.62" y="435.7" width="18.15" height="10.2" fill="#7ea8ff" stroke="#111" stroke-width="0.8"/>
<rect x="252.77" y="435.7" width="18.15" height="10.2" fill="#b6d8ff" stroke="#111" stroke-width="0.8"/>
<rect x="270.92" y="435.7" width="18.15" height="10.2" fill="#ffffff" stroke="#111" stroke-width="0.8"/>
<rect x="289.08" y="435.7" width="18.15" height="10.2" fill="#fedcc0" stroke="#111" stroke-width="0.8"/>
<rect x="307.23" y="435.7" width="18.15" height="10.2" fill="#fca884" stroke="#111" stroke-width="0.8"/>
<rect x="325.38" y="435.7" width="18.15" height="10.2" fill="#fd6242" stroke="#111" stroke-width="0.8"/>
<rect x="343.54" y="435.7" width="18.15" height="10.2" fill="#ff0606" stroke="#111" stroke-width="0.8"/>
<rect x="361.69" y="435.7" width="18.15" height="10.2" fill="#c8082c" stroke="#111" stroke-width="0.8"/>
<rect x="379.85" y="435.7" width="18.15" height="10.2" fill="#860838" stroke="#111" stroke-width="0.8"/>
<text x="180.15" y="453.6" font-size="6.8" text-anchor="middle">-1.2</text>
<text x="198.31" y="453.6" font-size="6.8" text-anchor="middle">-1</text>
<text x="216.46" y="453.6" font-size="6.8" text-anchor="middle">-0.8</text>
<text x="234.62" y="453.6" font-size="6.8" text-anchor="middle">-0.6</text>
<text x="252.77" y="453.6" font-size="6.8" text-anchor="middle">-0.4</text>
<text x="270.92" y="453.6" font-size="6.8" text-anchor="middle">-0.2</text>
<text x="289.08" y="453.6" font-size="6.8" text-anchor="middle">0.2</text>
<text x="307.23" y="453.6" font-size="6.8" text-anchor="middle">0.4</text>
<text x="325.38" y="453.6" font-size="6.8" text-anchor="middle">0.6</text>
<text x="343.54" y="453.6" font-size="6.8" text-anchor="middle">0.8</text>
<text x="361.69" y="453.6" font-size="6.8" text-anchor="middle">1</text>
<text x="379.85" y="453.6" font-size="6.8" text-anchor="middle">1.2</text>
<text class="t" x="410.6" y="451.2" font-size="12.9">K</text>
</svg></body></html>
